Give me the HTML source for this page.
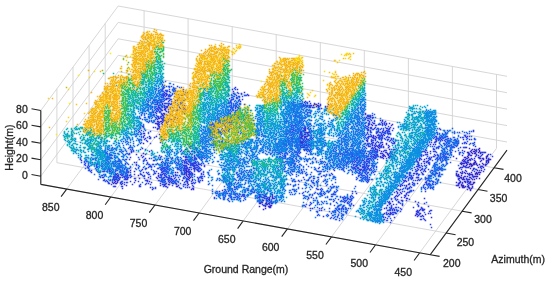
<!DOCTYPE html><html><head><meta charset="utf-8"><style>
html,body{margin:0;padding:0;background:#fff;width:550px;height:282px;overflow:hidden}
svg{display:block}
text{font-family:"Liberation Sans",Arial,sans-serif;font-size:10.5px;fill:#262626;stroke:#262626;stroke-width:0.3px}
</style></head><body>
<svg width="550" height="282" viewBox="0 0 550 282">
<defs><filter id="bl" x="-5%" y="-5%" width="110%" height="110%"><feGaussianBlur stdDeviation="0.45"/></filter></defs>
<path d="M419.7 252.8L496.5 148.3M375.6 244.8L452.4 140.3M331.5 236.9L408.4 132.4M287.4 228.9L364.3 124.4M243.2 220.9L320.3 116.4M199.1 213L276.2 108.5M155 205L232.2 100.5M110.8 197L188.1 92.5M66.7 189.1L144.1 84.6M40.8 184.4L430.3 254.7M56.9 162.7L446.3 233M73 140.9L462.2 211.2M89.1 119.2L478.2 189.5M105.2 97.5L494.1 167.8M40.8 184.4L40.8 110.5M56.9 162.7L56.9 88.7M73 140.9L73 67M89.1 119.2L89.1 45.3M105.2 97.5L105.2 23.5M40.8 176.2L118.2 71.7M40.8 159.8L118.2 55.3M40.8 143.3L118.2 38.8M40.8 126.9L118.2 22.4M40.8 110.5L118.2 6M496.5 148.3L496.5 74.4M452.4 140.3L452.4 66.4M408.4 132.4L408.4 58.4M364.3 124.4L364.3 50.5M320.3 116.4L320.3 42.5M276.2 108.5L276.2 34.6M232.2 100.5L232.2 26.6M188.1 92.5L188.1 18.6M144.1 84.6L144.1 10.7M118.2 71.7L507 142M118.2 55.3L507 125.6M118.2 38.8L507 109.1M118.2 22.4L507 92.7M118.2 6L507 76.3" stroke="#d2d2d2" stroke-width="0.9" fill="none"/>
<g stroke-width="1.5" stroke-linecap="square" fill="none" transform="translate(0.5 0.5)" filter="url(#bl)"><path stroke="#3c23aa" d="M184 113h0m-26 5h0m86 1h0m-87 2h0m5 1h0m143 8h0m65 1h0m-66 3h0m5 6h0m-5 1h0m-4 1h0m-157 1h0m168 0h0m-5 2h0m173 3h0m-3 2h0m-95 1h0m92 0h0m1 0h0m-88 1h0m81 0h0m11 0h0m-4 1h0m-97 1h0m15 0h0m90 0h0m-102 2h0m-220 1h0m305 0h0m3 0h0m-278 2h0m293 0h0m-15 1h0m-41 1h0m59 0h0m2 0h0m-327 1h0m313 0h0m14 0h0m-22 1h0m-5 1h0m8 0h0m2 0h0m-5 1h0m6 0h0m-278 4h0m-8 1h0m290 2h0m-292 1h0m278 0h0m14 0h0m-360 1h0m353 0h0m-331 1h0m50 2h0m2 0h0m280 0h0m-357 1h0m70 0h0m276 0h0m-344 1h0m47 0h0m300 0h0m2 2h0m10 1h0m-2 2h0m-66 1h0m57 0h0m0 2h0m8 1h0m-1 2h0m-207 10h0"/><path stroke="#3a26b8" d="M177 100h0m127 2h0m-147 1h0m158 1h0m-9 2h0m10 0h0m-151 2h0m153 1h0m-168 5h0m218 2h0m-115 4h0m129 0h0m-222 1h0m1 0h0m-3 2h0m228 0h0m-246 1h0m74 1h0m-71 1h0m70 0h0m97 2h0m79 0h0m-4 3h0m-8 1h0m-70 1h0m76 1h0m-234 2h0m292 3h0m-138 1h0m-3 1h0m1 1h0m72 0h0m21 0h0m-8 1h0m-84 2h0m2 0h0m-7 2h0m9 0h0m72 0h0m-184 2h0m181 0h0m99 0h0m-104 1h0m4 0h0m-243 1h0m67 1h0m284 0h0m-95 1h0m4 0h0m89 0h0m-281 1h0m270 0h0m7 0h0m-335 1h0m56 0h0m177 0h0m21 0h0m76 0h0m-89 2h0m7 0h0m89 0h0m8 0h0m-292 1h0m292 0h0m-301 1h0m182 0h0m98 0h0m4 0h0m19 0h0m2 0h0m-15 2h0m-8 1h0m8 0h0m-282 1h0m164 0h0m103 0h0m2 0h0m8 0h0m-104 1h0m107 0h0m-276 1h0m280 0h0m-14 1h0m-100 1h0m105 0h0m-322 1h0m38 0h0m2 0h0m273 0h0m11 0h0m-53 2h0m-231 1h0m274 1h0m4 0h0m14 0h0m-56 1h0m34 0h0m9 0h0m-273 1h0m266 0h0m-272 1h0m275 0h0m13 1h0m1 0h0m1 0h0m-360 1h0m344 0h0m1 0h0m-272 1h0m274 0h0m-349 1h0m2 0h0m76 0h0m271 0h0m6 0h0m-334 1h0m11 0h0m-31 1h0m-3 1h0m361 0h0m-357 1h0m343 0h0m-291 1h0m240 0h0m-244 1h0m293 0h0m5 0h0m-285 1h0m285 0h0m1 0h0m2 0h0m4 2h0m-317 1h0m39 0h0m68 5h0m6 0h0m140 1h0m-142 2h0m6 0h0m0 1h0m0 2h0m-8 1h0m10 0h0m-9 1h0m-3 1h0m1 0h0m5 0h0m1 0h0m2 0h0m3 0h0m119 0h0m12 1h0m-137 1h0m74 0h0m-70 1h0m122 1h0m-7 12h0"/><path stroke="#3929c7" d="M227 86h0m-58 5h0m64 2h0m-5 1h0m20 1h0m-87 2h0m5 1h0m3 2h0m71 1h0m-78 2h0m3 0h0m142 0h0m21 1h0m-160 1h0m137 0h0m2 0h0m6 0h0m-146 1h0m142 0h0m9 0h0m7 0h0m-15 1h0m8 0h0m-154 2h0m13 1h0m-24 5h0m9 0h0m1 2h0m-23 1h0m21 0h0m66 0h0m-56 1h0m-7 1h0m216 0h0m-225 3h0m213 0h0m5 0h0m9 0h0m-215 1h0m-9 1h0m210 0h0m4 0h0m-213 1h0m146 1h0m3 0h0m-4 1h0m5 3h0m-8 1h0m4 0h0m79 0h0m-240 1h0m157 1h0m0 1h0m1 0h0m6 0h0m71 0h0m-74 1h0m2 0h0m-6 1h0m3 0h0m69 0h0m93 0h0m-321 1h0m163 1h0m58 1h0m-64 1h0m4 0h0m61 0h0m4 0h0m85 0h0m-151 1h0m-165 1h0m161 0h0m64 0h0m-59 1h0m2 0h0m74 0h0m51 0h0m-133 2h0m64 0h0m11 0h0m2 0h0m11 1h0m-246 1h0m233 0h0m-190 1h0m120 0h0m1 0h0m1 0h0m82 0h0m-17 1h0m99 0h0m4 0h0m4 0h0m-330 1h0m39 0h0m6 0h0m181 0h0m55 0h0m49 0h0m-285 1h0m200 0h0m74 0h0m3 0h0m-105 1h0m102 0h0m4 0h0m-89 1h0m-185 1h0m178 0h0m8 0h0m4 0h0m99 0h0m-293 1h0m191 0h0m4 0h0m44 0h0m20 0h0m33 0h0m1 0h0m-301 1h0m6 0h0m181 0h0m-4 1h0m51 0h0m60 0h0m2 0h0m-58 1h0m-278 1h0m216 0h0m83 0h0m17 0h0m19 0h0m7 0h0m-24 1h0m1 1h0m21 0h0m-339 1h0m20 0h0m25 0h0m269 0h0m13 0h0m8 0h0m-346 1h0m52 0h0m297 0h0m-323 1h0m32 0h0m163 0h0m114 0h0m-321 1h0m-42 1h0m254 0h0m100 0h0m16 0h0m-317 1h0m312 0h0m-331 1h0m55 0h0m162 0h0m114 0h0m-290 1h0m282 0h0m16 0h0m-378 1h0m6 0h0m1 0h0m77 0h0m238 0h0m32 0h0m5 0h0m-350 1h0m63 0h0m10 0h0m294 0h0m-316 1h0m26 0h0m12 0h0m213 0h0m53 0h0m2 0h0m8 0h0m-362 1h0m47 0h0m294 0h0m14 0h0m1 0h0m8 0h0m-362 1h0m10 0h0m62 0h0m60 0h0m160 0h0m63 0h0m-362 1h0m56 0h0m301 0h0m6 0h0m4 0h0m-375 1h0m13 0h0m348 0h0m-338 1h0m2 0h0m41 0h0m3 0h0m308 0h0m-360 1h0m7 0h0m42 0h0m20 0h0m279 0h0m7 0h0m-272 1h0m-16 1h0m130 0h0m151 0h0m-353 1h0m3 0h0m54 0h0m16 0h0m278 0h0m4 0h0m-356 1h0m79 0h0m39 0h0m-110 1h0m44 0h0m296 0h0m0 1h0m7 0h0m-68 1h0m68 0h0m4 0h0m-13 1h0m9 0h0m-210 5h0m3 0h0m5 1h0m135 0h0m-158 1h0m21 1h0m-4 1h0m5 0h0m5 0h0m-11 1h0m13 0h0m-8 1h0m44 0h0m-39 1h0m-7 1h0m4 2h0m0 2h0m5 1h0m116 0h0m-128 1h0m6 0h0m5 0h0m-7 3h0m76 0h0m55 1h0m25 0h0m-35 3h0m6 0h0m26 0h0m4 0h0m-30 1h0m25 1h0"/><path stroke="#372dd5" d="M161 82h0m74 5h0m-72 1h0m-1 1h0m12 0h0m63 0h0m-76 1h0m22 1h0m61 1h0m-78 2h0m-4 1h0m4 0h0m70 0h0m-73 1h0m66 2h0m-63 1h0m-8 1h0m17 0h0m55 1h0m75 0h0m-153 1h0m23 0h0m-4 1h0m60 0h0m8 0h0m61 0h0m-152 1h0m14 0h0m62 0h0m79 0h0m13 0h0m-169 1h0m156 0h0m6 0h0m2 0h0m6 0h0m-90 1h0m9 0h0m-84 1h0m12 0h0m157 1h0m-156 1h0m-6 2h0m7 0h0m-3 2h0m1 0h0m66 0h0m135 0h0m-203 1h0m205 1h0m-219 1h0m13 0h0m209 0h0m-221 1h0m9 0h0m80 0h0m128 0h0m6 0h0m-216 1h0m7 0h0m206 3h0m-203 2h0m208 0h0m-217 1h0m5 0h0m216 0h0m14 0h0m-221 1h0m53 0h0m141 0h0m-208 3h0m148 0h0m69 0h0m-70 1h0m1 0h0m83 0h0m-178 1h0m8 0h0m10 0h0m75 0h0m1 0h0m82 0h0m-247 1h0m24 0h0m51 0h0m87 0h0m81 0h0m-162 1h0m86 0h0m1 0h0m1 0h0m59 0h0m-127 1h0m148 0h0m-224 1h0m80 0h0m56 0h0m5 0h0m3 0h0m1 1h0m2 0h0m62 0h0m-217 1h0m146 0h0m2 0h0m67 0h0m-71 1h0m5 0h0m6 0h0m65 0h0m2 0h0m62 0h0m-139 1h0m135 0h0m4 0h0m-59 1h0m82 0h0m-163 1h0m67 0h0m23 0h0m5 0h0m-110 1h0m17 1h0m1 0h0m79 0h0m84 1h0m-157 1h0m-8 1h0m4 0h0m67 0h0m7 0h0m2 0h0m-191 1h0m113 0h0m172 0h0m-174 1h0m1 0h0m1 0h0m80 0h0m82 0h0m-270 1h0m274 0h0m-161 1h0m86 0h0m78 0h0m6 0h0m-101 1h0m7 0h0m-201 1h0m4 0h0m122 0h0m68 0h0m87 0h0m6 0h0m-273 1h0m177 0h0m16 0h0m35 0h0m2 0h0m53 0h0m4 0h0m-294 1h0m166 0h0m24 0h0m95 0h0m-87 1h0m-103 1h0m98 0h0m79 0h0m6 0h0m2 0h0m-284 1h0m99 0h0m74 0h0m8 0h0m6 0h0m18 0h0m76 0h0m8 0h0m-290 1h0m172 0h0m18 0h0m13 0h0m57 0h0m19 0h0m15 0h0m-96 1h0m11 0h0m62 0h0m15 0h0m-345 1h0m61 0h0m7 0h0m269 0h0m26 0h0m-408 1h0m72 0h0m311 0h0m10 0h0m-357 1h0m67 0h0m11 0h0m150 0h0m10 0h0m12 0h0m50 0h0m63 0h0m-296 1h0m2 0h0m161 0h0m119 0h0m-302 1h0m1 0h0m29 0h0m1 0h0m229 0h0m39 0h0m10 0h0m3 0h0m-152 1h0m30 0h0m113 0h0m3 0h0m9 0h0m7 0h0m-303 1h0m1 0h0m6 0h0m2 0h0m1 0h0m163 0h0m4 0h0m125 0h0m-299 1h0m18 0h0m160 0h0m101 0h0m4 0h0m2 0h0m10 0h0m-356 1h0m59 0h0m5 0h0m176 0h0m2 0h0m93 0h0m23 0h0m-354 1h0m56 0h0m9 0h0m164 0h0m12 0h0m-182 1h0m173 0h0m60 0h0m55 0h0m-296 1h0m5 0h0m149 0h0m143 0h0m-354 1h0m11 0h0m64 0h0m-21 1h0m9 0h0m3 0h0m179 0h0m103 0h0m9 0h0m-369 1h0m47 0h0m34 0h0m224 0h0m59 0h0m-370 1h0m79 0h0m2 0h0m291 0h0m-359 1h0m40 0h0m15 0h0m283 0h0m1 0h0m1 0h0m-340 1h0m69 0h0m126 0h0m145 0h0m1 0h0m5 0h0m-351 1h0m4 0h0m3 0h0m292 0h0m5 0h0m-299 1h0m39 0h0m17 0h0m24 0h0m268 0h0m10 0h0m-304 1h0m286 0h0m-348 1h0m4 0h0m3 0h0m1 0h0m64 0h0m10 0h0m106 0h0m107 0h0m-298 1h0m58 0h0m7 0h0m15 0h0m11 0h0m270 0h0m2 0h0m-158 1h0m100 0h0m13 0h0m1 0h0m30 0h0m6 0h0m-289 1h0m296 0h0m-305 1h0m24 0h0m283 0h0m-345 1h0m52 0h0m222 0h0m2 0h0m-288 1h0m8 0h0m54 0h0m286 1h0m-269 1h0m0 1h0m214 0h0m60 0h0m3 0h0m-248 1h0m-3 1h0m102 0h0m-51 2h0m127 0h0m9 0h0m-147 3h0m7 0h0m129 0h0m-172 1h0m35 0h0m4 0h0m126 0h0m-122 1h0m1 0h0m6 0h0m133 0h0m-138 1h0m129 0h0m-131 1h0m-6 2h0m124 1h0m5 0h0m-122 1h0m-4 1h0m7 0h0m83 0h0m-85 1h0m1 1h0m1 0h0m-5 1h0m119 0h0m36 1h0m4 0h0m-2 1h0m-5 1h0m-82 1h0m55 0h0m28 0h0m-30 1h0m29 1h0m8 0h0m-3 1h0m-99 1h0m60 1h0m48 0h0"/><path stroke="#3435de" d="M162 84h0m70 5h0m1 2h0m-69 1h0m1 1h0m76 0h0m-77 1h0m18 1h0m-14 1h0m71 0h0m-72 2h0m3 1h0m-16 1h0m1 0h0m29 0h0m-27 1h0m152 0h0m-81 2h0m73 0h0m9 0h0m-140 1h0m74 0h0m76 0h0m-156 1h0m13 0h0m141 0h0m2 0h0m-159 1h0m3 0h0m2 0h0m141 0h0m20 0h0m-169 1h0m1 0h0m3 0h0m10 0h0m137 0h0m3 0h0m-155 1h0m23 0h0m55 0h0m84 0h0m-164 1h0m30 0h0m-23 1h0m-17 1h0m11 0h0m-3 1h0m2 0h0m152 0h0m-146 1h0m-8 1h0m23 0h0m-13 1h0m4 0h0m5 0h0m-15 1h0m212 0h0m-210 2h0m-2 1h0m5 0h0m6 0h0m197 0h0m-141 1h0m-66 1h0m8 0h0m0 1h0m63 0h0m-73 1h0m1 0h0m68 0h0m159 0h0m5 0h0m-230 1h0m53 0h0m159 0h0m11 0h0m4 0h0m-157 1h0m65 0h0m91 0h0m6 0h0m-249 1h0m-2 1h0m13 0h0m80 0h0m157 0h0m-168 1h0m85 0h0m70 0h0m9 0h0m1 0h0m-230 1h0m72 0h0m62 0h0m76 0h0m1 0h0m5 0h0m67 0h0m-217 1h0m3 0h0m85 0h0m67 0h0m5 0h0m90 0h0m-255 1h0m1 0h0m1 0h0m80 0h0m3 0h0m9 0h0m66 0h0m11 0h0m-151 1h0m62 0h0m4 0h0m5 0h0m67 0h0m11 0h0m58 0h0m-302 1h0m157 0h0m1 0h0m84 0h0m4 0h0m-249 1h0m19 0h0m7 0h0m48 0h0m-70 1h0m237 0h0m1 0h0m-221 1h0m140 0h0m67 0h0m1 0h0m4 0h0m2 0h0m7 0h0m59 0h0m5 0h0m19 0h0m2 0h0m-317 1h0m137 0h0m85 0h0m7 0h0m10 0h0m55 0h0m16 0h0m-213 1h0m53 0h0m2 0h0m4 0h0m4 0h0m2 0h0m62 0h0m74 0h0m-284 1h0m139 0h0m3 0h0m5 0h0m64 0h0m16 0h0m55 0h0m9 0h0m14 0h0m-323 1h0m159 0h0m70 0h0m56 0h0m5 0h0m-43 1h0m42 0h0m1 0h0m-64 1h0m6 0h0m3 0h0m48 0h0m5 0h0m19 0h0m21 0h0m-172 1h0m69 0h0m4 0h0m19 0h0m54 0h0m-146 1h0m70 0h0m58 0h0m5 0h0m-305 1h0m85 0h0m85 0h0m74 0h0m14 0h0m67 0h0m-288 1h0m201 0h0m1 0h0m10 0h0m-250 1h0m66 0h0m109 0h0m68 0h0m94 0h0m-216 1h0m41 0h0m56 0h0m-215 1h0m54 0h0m207 0h0m40 0h0m10 0h0m-262 1h0m15 0h0m108 0h0m75 0h0m6 0h0m-17 1h0m54 0h0m2 0h0m52 0h0m-345 1h0m71 0h0m158 0h0m16 0h0m99 0h0m-346 1h0m14 0h0m228 0h0m11 0h0m7 0h0m-253 1h0m49 0h0m112 0h0m41 0h0m150 0h0m-294 1h0m183 0h0m101 0h0m-335 1h0m45 0h0m164 0h0m18 0h0m13 0h0m-269 1h0m16 0h0m69 0h0m182 0h0m50 0h0m6 0h0m-292 1h0m27 0h0m24 0h0m119 0h0m41 0h0m70 0h0m20 0h0m20 0h0m8 0h0m5 0h0m4 0h0m-191 1h0m138 0h0m40 0h0m-316 1h0m37 0h0m101 0h0m67 0h0m4 0h0m23 0h0m81 0h0m19 0h0m1 0h0m-24 1h0m-329 1h0m60 0h0m170 0h0m5 0h0m49 0h0m8 0h0m2 0h0m-303 1h0m62 0h0m231 0h0m46 0h0m-285 1h0m13 0h0m7 0h0m275 0h0m2 0h0m7 0h0m-130 1h0m66 0h0m44 0h0m-269 1h0m99 0h0m63 0h0m7 0h0m5 0h0m48 0h0m48 0h0m18 0h0m-385 1h0m97 0h0m160 0h0m126 0h0m-376 1h0m14 0h0m45 0h0m4 0h0m20 0h0m6 0h0m2 0h0m4 0h0m119 0h0m36 0h0m10 0h0m4 0h0m54 0h0m59 0h0m-316 1h0m19 0h0m2 0h0m3 0h0m104 0h0m67 0h0m4 0h0m7 0h0m44 0h0m3 0h0m-329 1h0m41 0h0m39 0h0m28 0h0m3 0h0m148 0h0m15 0h0m57 0h0m4 0h0m8 0h0m-332 1h0m62 0h0m27 0h0m131 0h0m163 0h0m-384 1h0m29 0h0m33 0h0m248 0h0m-223 1h0m173 0h0m58 0h0m-297 1h0m2 0h0m5 0h0m33 0h0m15 0h0m13 0h0m2 0h0m162 0h0m57 0h0m63 0h0m3 0h0m-346 1h0m32 0h0m200 0h0m-247 1h0m44 0h0m13 0h0m18 0h0m12 0h0m37 0h0m83 0h0m90 0h0m-311 1h0m3 0h0m21 0h0m6 0h0m18 0h0m11 0h0m1 0h0m4 0h0m5 0h0m32 0h0m-85 1h0m18 0h0m5 0h0m23 0h0m8 0h0m81 0h0m62 0h0m99 0h0m14 0h0m45 0h0m-346 1h0m62 0h0m277 0h0m4 0h0m4 0h0m-325 1h0m22 0h0m6 0h0m254 0h0m-280 1h0m76 0h0m70 0h0m109 0h0m2 0h0m54 0h0m5 0h0m-345 1h0m6 0h0m43 0h0m290 0h0m1 0h0m10 0h0m-361 1h0m6 0h0m7 0h0m38 0h0m12 0h0m237 0h0m8 0h0m41 0h0m15 0h0m-311 1h0m23 0h0m239 0h0m46 0h0m-72 1h0m58 0h0m2 0h0m-319 1h0m27 0h0m68 0h0m77 0h0m95 0h0m-256 1h0m29 0h0m55 0h0m175 0h0m2 0h0m12 0h0m10 0h0m31 0h0m-57 1h0m25 0h0m-140 1h0m28 0h0m91 1h0m-183 1h0m168 0h0m-143 1h0m144 0h0m3 0h0m-173 1h0m129 0h0m-94 1h0m10 0h0m61 0h0m-74 1h0m13 0h0m-8 1h0m8 0h0m59 0h0m19 0h0m47 0h0m-183 1h0m128 0h0m62 0h0m-132 1h0m135 0h0m17 0h0m-164 2h0m7 0h0m134 0h0m1 0h0m-69 1h0m59 0h0m-131 1h0m8 0h0m78 0h0m42 0h0m9 0h0m-126 1h0m-10 1h0m131 0h0m-129 1h0m79 0h0m48 1h0m-49 1h0m53 0h0m26 0h0m-109 1h0m79 0h0m9 0h0m-8 1h0m2 0h0m28 0h0m-35 1h0m30 0h0m6 0h0m-7 1h0m13 0h0m-43 1h0m42 1h0m-45 1h0m35 1h0m-36 1h0m35 0h0m-32 1h0m9 0h0"/><path stroke="#313fe6" d="M162 81h0m1 5h0m3 0h0m5 0h0m6 0h0m-8 3h0m14 0h0m-18 1h0m1 1h0m7 0h0m2 0h0m-9 2h0m8 0h0m-12 1h0m10 0h0m75 0h0m-84 1h0m2 1h0m5 0h0m68 0h0m-59 1h0m8 0h0m49 0h0m0 1h0m3 1h0m3 0h0m-89 1h0m11 0h0m74 0h0m-77 1h0m7 0h0m3 0h0m-16 1h0m27 0h0m46 0h0m2 0h0m-64 1h0m2 0h0m146 0h0m4 0h0m-163 1h0m2 0h0m3 0h0m20 0h0m134 0h0m-156 1h0m1 0h0m25 0h0m126 0h0m-148 1h0m135 0h0m4 0h0m-135 1h0m1 0h0m3 0h0m67 0h0m76 0h0m-154 1h0m1 0h0m72 0h0m6 0h0m89 0h0m-169 1h0m3 0h0m7 0h0m-21 1h0m146 0h0m-125 1h0m4 0h0m121 0h0m4 0h0m-155 1h0m8 0h0m6 1h0m73 0h0m12 0h0m-77 1h0m2 0h0m69 0h0m130 0h0m-209 1h0m214 0h0m2 0h0m-217 2h0m5 0h0m15 0h0m-13 1h0m15 0h0m-3 1h0m-12 1h0m201 0h0m5 0h0m-219 1h0m5 0h0m9 0h0m52 0h0m7 0h0m7 0h0m145 0h0m-215 1h0m8 0h0m52 0h0m-1 1h0m-60 1h0m52 0h0m20 0h0m60 0h0m5 0h0m73 0h0m1 0h0m6 1h0m7 0h0m-223 2h0m-1 1h0m73 0h0m135 0h0m5 0h0m-211 1h0m220 0h0m-239 1h0m227 0h0m2 0h0m17 0h0m-163 1h0m4 0h0m159 0h0m1 0h0m-178 1h0m4 0h0m4 0h0m79 0h0m67 0h0m16 0h0m-93 1h0m89 0h0m5 1h0m56 0h0m-72 1h0m12 0h0m1 0h0m6 0h0m-241 1h0m163 0h0m73 0h0m8 0h0m49 0h0m11 0h0m-304 1h0m11 0h0m214 0h0m66 0h0m-218 1h0m157 0h0m8 0h0m10 0h0m2 0h0m81 0h0m-330 1h0m163 0h0m72 0h0m8 0h0m1 0h0m47 0h0m36 0h0m-186 1h0m86 0h0m71 0h0m6 0h0m-301 1h0m141 0h0m13 0h0m14 0h0m132 0h0m10 0h0m-297 1h0m304 0h0m-164 1h0m93 0h0m46 0h0m19 0h0m4 0h0m8 0h0m-283 1h0m112 0h0m68 0h0m12 0h0m7 0h0m-224 1h0m214 0h0m2 0h0m50 0h0m13 0h0m32 0h0m-92 1h0m58 0h0m17 0h0m-156 1h0m32 0h0m106 0h0m14 0h0m8 0h0m3 0h0m-92 1h0m2 0h0m6 0h0m-69 1h0m18 0h0m13 0h0m35 0h0m49 0h0m9 0h0m-268 1h0m5 0h0m170 0h0m11 0h0m10 0h0m3 0h0m97 0h0m-282 1h0m12 0h0m59 0h0m111 0h0m10 0h0m4 0h0m7 0h0m52 0h0m-154 1h0m14 0h0m5 0h0m43 0h0m27 0h0m2 0h0m79 0h0m34 0h0m-309 1h0m103 0h0m62 0h0m20 0h0m-216 1h0m204 0h0m24 0h0m1 0h0m13 0h0m34 0h0m6 0h0m16 0h0m2 0h0m2 0h0m21 0h0m22 0h0m-386 1h0m55 0h0m186 0h0m30 0h0m7 0h0m39 0h0m2 0h0m12 0h0m3 0h0m43 0h0m-298 1h0m2 0h0m4 0h0m12 0h0m174 0h0m117 0h0m-350 1h0m12 0h0m125 0h0m67 0h0m2 0h0m3 0h0m15 0h0m-217 1h0m46 0h0m9 0h0m78 0h0m10 0h0m17 0h0m48 0h0m11 0h0m2 0h0m5 0h0m44 0h0m20 0h0m28 0h0m-387 1h0m39 0h0m10 0h0m30 0h0m7 0h0m20 0h0m3 0h0m3 0h0m104 0h0m72 0h0m5 0h0m46 0h0m2 0h0m51 0h0m-305 1h0m18 0h0m16 0h0m105 0h0m86 0h0m24 0h0m3 0h0m9 0h0m42 0h0m-384 1h0m57 0h0m31 0h0m14 0h0m2 0h0m92 0h0m25 0h0m13 0h0m23 0h0m9 0h0m12 0h0m2 0h0m57 0h0m-331 1h0m90 0h0m13 0h0m219 0h0m54 0h0m-371 1h0m60 0h0m34 0h0m7 0h0m5 0h0m91 0h0m66 0h0m69 0h0m18 0h0m-363 1h0m10 0h0m2 0h0m57 0h0m3 0h0m35 0h0m2 0h0m35 0h0m66 0h0m124 0h0m11 0h0m-333 1h0m71 0h0m18 0h0m1 0h0m10 0h0m43 0h0m58 0h0m67 0h0m2 0h0m6 0h0m2 0h0m44 0h0m-329 1h0m12 0h0m19 0h0m65 0h0m8 0h0m5 0h0m219 0h0m-329 1h0m32 0h0m23 0h0m20 0h0m1 0h0m23 0h0m3 0h0m7 0h0m160 0h0m19 0h0m43 0h0m47 0h0m1 0h0m-309 1h0m4 0h0m15 0h0m21 0h0m56 0h0m101 0h0m56 0h0m14 0h0m13 0h0m-314 1h0m67 0h0m110 0h0m65 0h0m3 0h0m115 0h0m-375 1h0m52 0h0m3 0h0m20 0h0m4 0h0m172 0h0m4 0h0m5 0h0m103 0h0m-375 1h0m7 0h0m3 0h0m8 0h0m5 0h0m36 0h0m7 0h0m21 0h0m4 0h0m104 0h0m25 0h0m99 0h0m50 0h0m8 0h0m-383 1h0m33 0h0m19 0h0m3 0h0m22 0h0m13 0h0m7 0h0m3 0h0m182 0h0m48 0h0m11 0h0m7 0h0m-324 1h0m6 0h0m4 0h0m1 0h0m21 0h0m7 0h0m1 0h0m10 0h0m25 0h0m29 0h0m17 0h0m84 0h0m11 0h0m78 0h0m27 0h0m1 0h0m24 0h0m-327 1h0m6 0h0m1 0h0m7 0h0m16 0h0m25 0h0m58 0h0m1 0h0m84 0h0m34 0h0m102 0h0m-366 1h0m19 0h0m1 0h0m22 0h0m20 0h0m160 0h0m39 0h0m75 0h0m31 0h0m-356 1h0m2 0h0m9 0h0m241 0h0m40 0h0m25 0h0m35 0h0m-351 1h0m8 0h0m5 0h0m29 0h0m5 0h0m31 0h0m5 0h0m2 0h0m104 0h0m15 0h0m88 0h0m3 0h0m1 0h0m8 0h0m51 0h0m4 0h0m-329 1h0m25 0h0m33 0h0m209 0h0m47 0h0m3 0h0m-334 1h0m34 0h0m10 0h0m5 0h0m3 0h0m19 0h0m-95 1h0m1 0h0m54 0h0m5 0h0m1 0h0m203 0h0m48 0h0m2 0h0m-287 1h0m8 0h0m9 0h0m14 0h0m1 0h0m6 0h0m23 0h0m8 0h0m30 0h0m63 0h0m140 0h0m5 0h0m-329 1h0m26 0h0m17 0h0m13 0h0m10 0h0m10 0h0m45 0h0m9 0h0m79 0h0m50 0h0m100 0h0m-347 1h0m28 0h0m18 0h0m10 0h0m11 0h0m4 0h0m3 0h0m34 0h0m185 0h0m-302 1h0m13 0h0m8 0h0m8 0h0m5 0h0m269 0h0m14 0h0m30 0h0m-298 1h0m27 0h0m217 0h0m-289 1h0m134 0h0m44 0h0m174 0h0m-312 1h0m12 0h0m20 0h0m144 0h0m5 0h0m94 0h0m39 0h0m3 0h0m-350 1h0m70 0h0m44 0h0m47 0h0m33 0h0m114 0h0m-30 1h0m-168 1h0m181 0h0m-197 1h0m35 0h0m158 0h0m1 0h0m15 0h0m-101 1h0m83 0h0m-156 1h0m69 0h0m-98 1h0m1 0h0m12 0h0m25 0h0m64 0h0m82 0h0m-187 1h0m84 0h0m93 0h0m12 0h0m-167 1h0m164 0h0m-60 1h0m56 0h0m-127 1h0m71 0h0m3 0h0m-125 1h0m8 0h0m112 0h0m1 1h0m2 0h0m-6 1h0m58 0h0m17 0h0m-79 1h0m8 0h0m44 0h0m-119 1h0m155 0h0m-155 1h0m69 2h0m80 0h0m10 0h0m-83 1h0m53 0h0m15 0h0m-103 1h0m11 0h0m18 0h0m2 0h0m7 0h0m38 0h0m-43 1h0m58 0h0m22 0h0m-102 1h0m68 0h0m1 0h0m40 0h0m1 0h0m-114 1h0m29 1h0m46 0h0m2 0h0m1 0h0m22 0h0m-26 1h0m-73 1h0m71 0h0m3 0h0m24 0h0m3 0h0m-102 1h0m15 0h0m56 1h0m33 0h0m2 0h0m-36 2h0m33 1h0m1 0h0m3 0h0m-85 1h0m52 0h0m34 0h0m5 4h0"/><path stroke="#2e49ee" d="M169 86h0m59 0h0m-65 1h0m18 0h0m-19 1h0m10 1h0m56 0h0m-54 2h0m13 1h0m50 0h0m-74 1h0m75 0h0m-75 1h0m4 0h0m2 0h0m9 0h0m-14 1h0m5 0h0m0 1h0m73 0h0m-80 1h0m69 0h0m-63 1h0m69 0h0m-6 1h0m1 0h0m1 0h0m-73 2h0m128 0h0m-131 1h0m4 0h0m19 0h0m57 0h0m70 0h0m-160 1h0m17 0h0m5 0h0m11 0h0m55 0h0m-90 1h0m11 0h0m12 0h0m10 0h0m-28 1h0m85 0h0m48 0h0m-131 1h0m6 0h0m71 0h0m2 0h0m8 0h0m-60 1h0m4 0h0m48 0h0m4 0h0m3 0h0m-82 1h0m28 0h0m178 0h0m-205 1h0m20 0h0m6 0h0m-40 1h0m15 0h0m3 0h0m4 0h0m17 1h0m112 0h0m-126 1h0m141 0h0m1 0h0m-140 2h0m119 0h0m3 0h0m3 0h0m-63 1h0m12 0h0m124 0h0m-229 1h0m19 0h0m81 0h0m-95 1h0m8 0h0m75 0h0m4 0h0m139 0h0m3 0h0m-204 1h0m69 0h0m64 0h0m66 0h0m1 0h0m-130 1h0m-88 1h0m12 0h0m148 0h0m60 0h0m-224 1h0m21 0h0m5 0h0m54 0h0m72 0h0m83 0h0m-242 1h0m8 0h0m60 0h0m22 0h0m1 0h0m68 0h0m7 0h0m78 0h0m-223 1h0m62 0h0m65 0h0m7 0h0m74 0h0m-138 1h0m65 0h0m14 0h0m69 0h0m5 0h0m-91 1h0m-135 1h0m72 0h0m158 0h0m-245 1h0m12 0h0m70 0h0m66 0h0m11 0h0m63 0h0m3 0h0m2 0h0m1 0h0m4 0h0m-136 1h0m62 0h0m69 0h0m11 0h0m12 0h0m46 0h0m-226 1h0m5 0h0m74 0h0m5 0h0m92 0h0m-244 1h0m79 0h0m69 0h0m6 0h0m17 0h0m76 0h0m39 0h0m-281 1h0m72 0h0m68 0h0m2 0h0m85 0h0m96 0h0m-262 1h0m6 0h0m142 0h0m11 0h0m12 0h0m54 0h0m23 0h0m-318 1h0m24 0h0m216 0h0m9 0h0m49 0h0m6 0h0m1 0h0m8 0h0m-197 1h0m29 0h0m31 0h0m49 0h0m77 0h0m-72 1h0m61 0h0m32 0h0m1 0h0m-166 1h0m71 0h0m10 0h0m55 0h0m10 0h0m24 0h0m-114 1h0m12 0h0m19 0h0m2 0h0m48 0h0m-287 1h0m1 0h0m141 0h0m7 0h0m70 0h0m16 0h0m54 0h0m5 0h0m7 0h0m17 0h0m-306 1h0m123 0h0m3 0h0m84 0h0m14 0h0m54 0h0m6 0h0m29 0h0m-102 1h0m66 0h0m2 0h0m16 0h0m-333 1h0m169 0h0m30 0h0m123 0h0m-136 1h0m37 0h0m85 0h0m-281 1h0m65 0h0m154 0h0m23 0h0m62 0h0m3 0h0m16 0h0m-184 1h0m15 0h0m36 0h0m35 0h0m82 0h0m-265 1h0m2 0h0m26 0h0m71 0h0m5 0h0m-16 1h0m24 0h0m76 0h0m3 0h0m49 0h0m16 0h0m1 0h0m4 0h0m-321 1h0m175 0h0m67 0h0m62 0h0m-322 1h0m183 0h0m69 0h0m6 0h0m61 0h0m17 0h0m-310 1h0m5 0h0m159 0h0m29 0h0m111 0h0m-311 1h0m18 0h0m146 0h0m2 0h0m37 0h0m11 0h0m79 0h0m24 0h0m-259 1h0m8 0h0m191 0h0m43 0h0m1 0h0m8 0h0m2 0h0m11 0h0m-287 1h0m109 0h0m3 0h0m9 0h0m7 0h0m49 0h0m1 0h0m39 0h0m65 0h0m9 0h0m1 0h0m21 0h0m-374 1h0m250 0h0m6 0h0m18 0h0m78 0h0m10 0h0m-344 1h0m3 0h0m41 0h0m22 0h0m7 0h0m142 0h0m6 0h0m5 0h0m12 0h0m13 0h0m49 0h0m1 0h0m8 0h0m3 0h0m14 0h0m-358 1h0m191 0h0m68 0h0m7 0h0m61 0h0m24 0h0m32 0h0m-310 1h0m114 0h0m4 0h0m53 0h0m16 0h0m15 0h0m22 0h0m90 0h0m-300 1h0m10 0h0m44 0h0m4 0h0m43 0h0m4 0h0m74 0h0m15 0h0m55 0h0m12 0h0m7 0h0m-257 1h0m31 0h0m25 0h0m33 0h0m11 0h0m4 0h0m27 0h0m32 0h0m32 0h0m43 0h0m1 0h0m6 0h0m4 0h0m5 0h0m43 0h0m-396 1h0m1 0h0m46 0h0m18 0h0m3 0h0m36 0h0m53 0h0m55 0h0m52 0h0m4 0h0m17 0h0m14 0h0m38 0h0m-261 1h0m10 0h0m4 0h0m11 0h0m38 0h0m123 0h0m2 0h0m13 0h0m63 0h0m5 0h0m3 0h0m-356 1h0m36 0h0m42 0h0m27 0h0m56 0h0m67 0h0m4 0h0m23 0h0m11 0h0m1 0h0m2 0h0m5 0h0m1 0h0m9 0h0m56 0h0m2 0h0m39 0h0m-359 1h0m30 0h0m40 0h0m9 0h0m5 0h0m54 0h0m3 0h0m45 0h0m49 0h0m9 0h0m4 0h0m3 0h0m20 0h0m52 0h0m17 0h0m15 0h0m-376 1h0m17 0h0m3 0h0m14 0h0m53 0h0m5 0h0m9 0h0m4 0h0m11 0h0m29 0h0m103 0h0m31 0h0m2 0h0m1 0h0m54 0h0m7 0h0m6 0h0m-342 1h0m36 0h0m21 0h0m9 0h0m9 0h0m15 0h0m8 0h0m6 0h0m2 0h0m2 0h0m156 0h0m7 0h0m-278 1h0m3 0h0m48 0h0m65 0h0m3 0h0m32 0h0m95 0h0m37 0h0m58 0h0m-330 1h0m53 0h0m2 0h0m3 0h0m25 0h0m5 0h0m110 0h0m5 0h0m9 0h0m16 0h0m27 0h0m4 0h0m11 0h0m52 0h0m4 0h0m58 0h0m-393 1h0m9 0h0m34 0h0m18 0h0m17 0h0m2 0h0m14 0h0m15 0h0m3 0h0m86 0h0m34 0h0m8 0h0m25 0h0m12 0h0m50 0h0m51 0h0m-348 1h0m5 0h0m2 0h0m11 0h0m10 0h0m21 0h0m12 0h0m175 0h0m4 0h0m8 0h0m8 0h0m44 0h0m17 0h0m40 0h0m-348 1h0m35 0h0m18 0h0m17 0h0m5 0h0m166 0h0m57 0h0m4 0h0m8 0h0m3 0h0m22 0h0m-370 1h0m26 0h0m3 0h0m2 0h0m4 0h0m1 0h0m54 0h0m13 0h0m4 0h0m41 0h0m10 0h0m94 0h0m12 0h0m7 0h0m3 0h0m66 0h0m11 0h0m37 0h0m-325 1h0m12 0h0m1 0h0m27 0h0m5 0h0m86 0h0m9 0h0m27 0h0m6 0h0m28 0h0m17 0h0m63 0h0m-305 1h0m54 0h0m19 0h0m45 0h0m40 0h0m71 0h0m5 0h0m7 0h0m-262 1h0m8 0h0m64 0h0m1 0h0m9 0h0m53 0h0m121 0h0m2 0h0m40 0h0m6 0h0m-264 1h0m4 0h0m41 0h0m7 0h0m2 0h0m35 0h0m54 0h0m34 0h0m90 0h0m2 0h0m5 0h0m11 0h0m5 0h0m-314 1h0m1 0h0m39 0h0m10 0h0m4 0h0m127 0h0m23 0h0m89 0h0m10 0h0m1 0h0m-312 1h0m8 0h0m1 0h0m5 0h0m13 0h0m6 0h0m19 0h0m4 0h0m11 0h0m55 0h0m94 0h0m34 0h0m90 0h0m15 0h0m-344 1h0m35 0h0m3 0h0m1 0h0m1 0h0m10 0h0m5 0h0m2 0h0m175 0h0m9 0h0m47 0h0m-230 1h0m105 0h0m23 0h0m48 0h0m46 0h0m-296 1h0m52 0h0m22 0h0m100 0h0m18 0h0m4 0h0m17 0h0m31 0h0m9 0h0m37 0h0m16 0h0m2 0h0m46 0h0m-360 1h0m65 0h0m67 0h0m70 0h0m95 0h0m1 0h0m15 0h0m40 0h0m-342 1h0m4 0h0m49 0h0m4 0h0m77 0h0m175 0h0m-231 1h0m4 0h0m114 0h0m90 0h0m-295 1h0m38 0h0m29 0h0m62 0h0m88 0h0m137 0h0m6 0h0m-318 1h0m13 0h0m6 0h0m7 0h0m7 0h0m25 0h0m23 0h0m27 0h0m29 0h0m3 0h0m8 0h0m34 0h0m69 0h0m11 0h0m14 0h0m4 0h0m37 0h0m-328 1h0m33 0h0m20 0h0m48 0h0m189 0h0m1 0h0m-290 1h0m23 0h0m2 0h0m18 0h0m10 0h0m35 0h0m127 0h0m-170 1h0m4 0h0m92 0h0m-126 1h0m98 0h0m143 0h0m13 0h0m-180 1h0m6 0h0m18 0h0m64 0h0m1 0h0m84 0h0m23 0h0m-178 1h0m1 0h0m3 0h0m16 0h0m27 0h0m43 0h0m-125 1h0m19 0h0m2 0h0m12 0h0m60 0h0m47 0h0m-17 1h0m59 0h0m14 0h0m1 0h0m-190 1h0m10 0h0m7 0h0m66 0h0m12 0h0m38 0h0m-118 1h0m3 0h0m7 0h0m14 0h0m13 0h0m11 0h0m52 0h0m65 0h0m-183 1h0m13 0h0m1 0h0m12 0h0m13 0h0m54 0h0m95 0h0m-173 1h0m12 0h0m1 0h0m-20 1h0m6 0h0m5 0h0m92 0h0m67 0h0m-180 1h0m6 0h0m8 0h0m11 0h0m27 1h0m63 0h0m9 0h0m12 0h0m41 0h0m-50 1h0m10 0h0m55 0h0m-166 1h0m35 0h0m70 0h0m5 0h0m52 0h0m-143 1h0m17 0h0m34 0h0m8 0h0m81 0h0m19 0h0m-107 1h0m40 0h0m49 0h0m-90 1h0m79 0h0m28 0h0m-114 1h0m6 0h0m25 0h0m16 0h0m52 0h0m16 0h0m-113 1h0m38 0h0m-6 1h0m-18 1h0m16 0h0m87 0h0m-86 1h0m5 0h0m40 0h0m-44 1h0m55 0h0m5 0h0m-65 1h0m9 0h0m56 0h0m3 0h0m-7 1h0m2 1h0m35 0h0m-37 1h0m-65 1h0m10 0h0m-1 1h0m83 0h0m-89 1h0m-1 1h0m93 0h0m-33 4h0m41 5h0"/><path stroke="#2955ef" d="M157 80h0m16 4h0m-9 1h0m10 3h0m60 0h0m-68 2h0m-11 1h0m3 0h0m4 0h0m1 0h0m4 0h0m10 0h0m-17 3h0m74 0h0m-73 1h0m7 0h0m2 0h0m75 0h0m1 0h0m-89 1h0m77 0h0m-71 1h0m-13 1h0m-4 1h0m14 0h0m1 0h0m4 0h0m6 0h0m-11 1h0m-8 1h0m11 0h0m71 0h0m59 0h0m-135 1h0m71 0h0m62 0h0m2 0h0m-112 1h0m55 0h0m1 1h0m3 0h0m-92 1h0m82 0h0m3 0h0m55 0h0m16 0h0m2 0h0m-71 1h0m65 0h0m2 0h0m1 0h0m7 0h0m-80 1h0m55 0h0m73 0h0m-188 1h0m122 0h0m68 0h0m-200 1h0m70 0h0m2 0h0m15 0h0m55 0h0m4 0h0m-133 1h0m52 0h0m3 0h0m2 0h0m3 0h0m2 0h0m1 0h0m55 0h0m17 0h0m-151 1h0m3 0h0m71 0h0m70 0h0m-160 1h0m18 0h0m69 0h0m79 1h0m3 0h0m-169 1h0m158 0h0m7 0h0m68 0h0m-146 1h0m9 0h0m10 0h0m41 0h0m7 0h0m5 0h0m8 0h0m-148 1h0m3 0h0m61 0h0m7 0h0m17 0h0m47 0h0m2 0h0m1 0h0m7 0h0m62 0h0m-203 1h0m73 0h0m62 0h0m2 0h0m-78 1h0m7 0h0m54 0h0m81 0h0m7 0h0m-230 1h0m13 0h0m8 0h0m7 0h0m56 0h0m15 0h0m45 0h0m-121 1h0m55 0h0m11 0h0m64 0h0m5 0h0m4 0h0m27 0h0m36 0h0m-136 1h0m54 0h0m18 0h0m47 0h0m8 0h0m27 0h0m-227 1h0m60 0h0m8 0h0m63 0h0m80 0h0m3 0h0m9 0h0m-169 1h0m8 0h0m71 0h0m8 0h0m2 0h0m60 0h0m3 0h0m1 0h0m-154 1h0m98 0h0m46 0h0m25 0h0m-242 1h0m72 0h0m81 0h0m1 0h0m15 0h0m50 0h0m19 0h0m-151 1h0m66 0h0m4 0h0m71 0h0m1 0h0m-157 1h0m94 0h0m60 0h0m-205 1h0m56 0h0m30 0h0m38 0h0m10 0h0m6 0h0m4 0h0m64 0h0m16 0h0m69 0h0m-159 1h0m16 0h0m69 0h0m5 0h0m-245 1h0m306 0h0m3 0h0m-311 1h0m70 0h0m80 0h0m9 0h0m3 0h0m48 0h0m2 0h0m3 0h0m2 0h0m10 0h0m106 0h0m-321 1h0m64 0h0m7 0h0m2 0h0m70 0h0m2 0h0m90 0h0m81 0h0m-316 1h0m56 0h0m16 0h0m147 0h0m20 0h0m82 0h0m-256 1h0m8 0h0m40 0h0m14 0h0m17 0h0m78 0h0m8 0h0m-87 1h0m89 0h0m63 0h0m-302 1h0m75 0h0m4 0h0m45 0h0m20 0h0m59 0h0m98 0h0m-316 1h0m2 0h0m171 0h0m82 0h0m1 0h0m60 0h0m3 0h0m8 0h0m9 0h0m-303 1h0m129 0h0m5 0h0m11 0h0m62 0h0m9 0h0m4 0h0m3 0h0m51 0h0m4 0h0m-297 1h0m73 0h0m49 0h0m30 0h0m6 0h0m53 0h0m16 0h0m69 0h0m2 0h0m13 0h0m3 0h0m-254 1h0m81 0h0m2 0h0m5 0h0m1 0h0m66 0h0m18 0h0m8 0h0m6 0h0m57 0h0m3 0h0m2 0h0m5 0h0m-328 1h0m95 0h0m1 0h0m3 0h0m10 0h0m55 0h0m5 0h0m3 0h0m1 0h0m20 0h0m41 0h0m3 0h0m14 0h0m12 0h0m69 0h0m9 0h0m-273 1h0m87 0h0m15 0h0m20 0h0m2 0h0m7 0h0m34 0h0m17 0h0m15 0h0m55 0h0m6 0h0m4 0h0m9 0h0m-346 1h0m77 0h0m92 0h0m3 0h0m22 0h0m10 0h0m45 0h0m4 0h0m71 0h0m6 0h0m15 0h0m-221 1h0m45 0h0m4 0h0m11 0h0m38 0h0m10 0h0m9 0h0m8 0h0m59 0h0m27 0h0m-218 1h0m50 0h0m8 0h0m13 0h0m3 0h0m58 0h0m78 0h0m4 0h0m-259 1h0m40 0h0m47 0h0m5 0h0m7 0h0m6 0h0m12 0h0m62 0h0m19 0h0m49 0h0m8 0h0m6 0h0m-340 1h0m133 0h0m1 0h0m4 0h0m32 0h0m83 0h0m15 0h0m1 0h0m56 0h0m17 0h0m10 0h0m-336 1h0m62 0h0m12 0h0m65 0h0m49 0h0m35 0h0m87 0h0m-308 1h0m76 0h0m46 0h0m39 0h0m7 0h0m1 0h0m54 0h0m24 0h0m14 0h0m59 0h0m26 0h0m-379 1h0m209 0h0m3 0h0m1 0h0m76 0h0m72 0h0m-339 1h0m7 0h0m7 0h0m104 0h0m57 0h0m5 0h0m34 0h0m2 0h0m4 0h0m8 0h0m8 0h0m2 0h0m2 0h0m1 0h0m5 0h0m58 0h0m24 0h0m-246 1h0m85 0h0m6 0h0m18 0h0m40 0h0m1 0h0m5 0h0m21 0h0m59 0h0m7 0h0m3 0h0m37 0h0m-356 1h0m76 0h0m79 0h0m3 0h0m2 0h0m10 0h0m2 0h0m7 0h0m46 0h0m10 0h0m7 0h0m61 0h0m10 0h0m3 0h0m4 0h0m-356 1h0m19 0h0m19 0h0m141 0h0m4 0h0m34 0h0m7 0h0m37 0h0m16 0h0m2 0h0m70 0h0m19 0h0m-350 1h0m142 0h0m43 0h0m3 0h0m1 0h0m40 0h0m6 0h0m5 0h0m5 0h0m8 0h0m2 0h0m7 0h0m19 0h0m47 0h0m6 0h0m6 0h0m-368 1h0m80 0h0m37 0h0m1 0h0m31 0h0m1 0h0m25 0h0m49 0h0m28 0h0m3 0h0m6 0h0m9 0h0m5 0h0m8 0h0m14 0h0m43 0h0m6 0h0m7 0h0m6 0h0m3 0h0m1 0h0m2 0h0m-329 1h0m21 0h0m60 0h0m4 0h0m1 0h0m11 0h0m62 0h0m17 0h0m20 0h0m41 0h0m4 0h0m22 0h0m63 0h0m3 0h0m-351 1h0m1 0h0m14 0h0m58 0h0m22 0h0m9 0h0m8 0h0m48 0h0m29 0h0m1 0h0m15 0h0m38 0h0m3 0h0m7 0h0m1 0h0m23 0h0m45 0h0m20 0h0m-351 1h0m9 0h0m49 0h0m51 0h0m6 0h0m30 0h0m75 0h0m26 0h0m13 0h0m14 0h0m3 0h0m73 0h0m9 0h0m-338 1h0m9 0h0m28 0h0m40 0h0m5 0h0m1 0h0m51 0h0m89 0h0m5 0h0m5 0h0m4 0h0m1 0h0m22 0h0m-195 1h0m10 0h0m5 0h0m58 0h0m41 0h0m11 0h0m25 0h0m1 0h0m6 0h0m19 0h0m22 0h0m47 0h0m51 0h0m-320 1h0m16 0h0m3 0h0m23 0h0m94 0h0m1 0h0m5 0h0m2 0h0m34 0h0m21 0h0m12 0h0m2 0h0m1 0h0m7 0h0m73 0h0m9 0h0m-362 1h0m27 0h0m12 0h0m42 0h0m110 0h0m13 0h0m3 0h0m15 0h0m11 0h0m25 0h0m1 0h0m-250 1h0m8 0h0m20 0h0m23 0h0m4 0h0m9 0h0m130 0h0m8 0h0m27 0h0m1 0h0m14 0h0m12 0h0m5 0h0m4 0h0m2 0h0m53 0h0m17 0h0m2 0h0m7 0h0m-328 1h0m53 0h0m27 0h0m99 0h0m45 0h0m4 0h0m3 0h0m21 0h0m4 0h0m2 0h0m48 0h0m3 0h0m9 0h0m25 0h0m-353 1h0m6 0h0m58 0h0m162 0h0m9 0h0m3 0h0m33 0h0m58 0h0m1 0h0m-314 1h0m17 0h0m13 0h0m9 0h0m17 0h0m9 0h0m105 0h0m8 0h0m33 0h0m7 0h0m1 0h0m13 0h0m20 0h0m47 0h0m18 0h0m23 0h0m-376 1h0m3 0h0m7 0h0m14 0h0m29 0h0m26 0h0m16 0h0m3 0h0m70 0h0m28 0h0m7 0h0m54 0h0m1 0h0m96 0h0m1 0h0m2 0h0m-333 1h0m6 0h0m36 0h0m9 0h0m2 0h0m2 0h0m3 0h0m18 0h0m38 0h0m1 0h0m6 0h0m21 0h0m5 0h0m22 0h0m20 0h0m17 0h0m14 0h0m4 0h0m8 0h0m14 0h0m8 0h0m74 0h0m3 0h0m4 0h0m-356 1h0m53 0h0m12 0h0m10 0h0m3 0h0m43 0h0m35 0h0m57 0h0m50 0h0m61 0h0m-322 1h0m36 0h0m2 0h0m12 0h0m25 0h0m25 0h0m94 0h0m9 0h0m5 0h0m4 0h0m16 0h0m41 0h0m16 0h0m59 0h0m22 0h0m-336 1h0m6 0h0m1 0h0m35 0h0m10 0h0m69 0h0m49 0h0m9 0h0m61 0h0m5 0h0m45 0h0m26 0h0m26 0h0m-322 1h0m24 0h0m138 0h0m3 0h0m53 0h0m13 0h0m64 0h0m-269 1h0m16 0h0m1 0h0m54 0h0m59 0h0m14 0h0m9 0h0m41 0h0m1 0h0m61 0h0m11 0h0m2 0h0m6 0h0m-326 1h0m15 0h0m12 0h0m18 0h0m49 0h0m114 0h0m35 0h0m1 0h0m3 0h0m5 0h0m38 0h0m6 0h0m2 0h0m18 0h0m3 0h0m5 0h0m-340 1h0m28 0h0m16 0h0m18 0h0m41 0h0m2 0h0m69 0h0m23 0h0m62 0h0m71 0h0m9 0h0m-319 1h0m7 0h0m49 0h0m25 0h0m40 0h0m70 0h0m23 0h0m34 0h0m58 0h0m3 0h0m-293 1h0m66 0h0m18 0h0m4 0h0m6 0h0m11 0h0m123 0h0m2 0h0m2 0h0m38 0h0m23 0h0m2 0h0m-332 1h0m6 0h0m9 0h0m11 0h0m43 0h0m68 0h0m100 0h0m32 0h0m2 0h0m39 0h0m3 0h0m27 0h0m-326 1h0m33 0h0m14 0h0m2 0h0m12 0h0m13 0h0m3 0h0m9 0h0m2 0h0m45 0h0m66 0h0m48 0h0m3 0h0m6 0h0m40 0h0m59 0h0m-294 1h0m4 0h0m78 0h0m39 0h0m29 0h0m4 0h0m39 0h0m2 0h0m61 0h0m4 0h0m-312 1h0m3 0h0m38 0h0m13 0h0m18 0h0m42 0h0m200 0h0m-255 1h0m46 0h0m188 0h0m14 0h0m1 0h0m3 0h0m4 0h0m-141 1h0m114 0h0m20 0h0m3 0h0m1 0h0m2 0h0m-208 1h0m78 0h0m5 0h0m16 0h0m87 0h0m-300 1h0m111 0h0m6 0h0m6 0h0m98 0h0m76 0h0m-181 1h0m7 0h0m2 0h0m6 0h0m23 0h0m31 0h0m35 0h0m95 0h0m-275 1h0m28 0h0m48 0h0m31 0h0m38 0h0m4 0h0m19 0h0m10 0h0m74 0h0m-171 1h0m13 0h0m75 0h0m76 0h0m-173 1h0m19 0h0m83 0h0m3 0h0m69 0h0m-175 1h0m2 0h0m28 0h0m40 0h0m2 0h0m33 0h0m5 0h0m21 0h0m47 0h0m2 0h0m-189 1h0m39 0h0m35 0h0m2 0h0m12 0h0m25 0h0m-112 1h0m1 0h0m6 0h0m34 0h0m42 0h0m18 0h0m4 0h0m2 0h0m10 0h0m-91 1h0m5 0h0m45 0h0m20 0h0m6 0h0m2 0h0m12 0h0m60 0h0m-167 1h0m18 0h0m1 0h0m3 0h0m1 0h0m33 0h0m31 0h0m10 0h0m67 0h0m9 0h0m-180 1h0m7 0h0m30 0h0m51 0h0m34 0h0m4 0h0m8 0h0m-121 1h0m3 0h0m3 0h0m19 0h0m24 0h0m1 0h0m27 0h0m3 0h0m5 0h0m27 0h0m7 0h0m3 0h0m-98 1h0m58 0h0m22 0h0m9 0h0m3 0h0m4 0h0m40 0h0m4 0h0m-161 1h0m11 0h0m14 0h0m72 0h0m16 0h0m2 0h0m2 0h0m44 0h0m14 0h0m-181 1h0m15 0h0m28 0h0m4 0h0m-46 1h0m28 0h0m2 0h0m65 0h0m-2 1h0m25 1h0m1 0h0m-42 1h0m24 0h0m66 0h0m-92 1h0m45 0h0m-7 1h0m-25 1h0m72 0h0m7 0h0m-67 1h0m61 0h0m3 0h0m28 0h0m-76 1h0m1 0h0m44 0h0m-71 1h0m15 0h0m1 0h0m12 0h0m-12 1h0m83 0h0m-79 1h0m-8 1h0m55 0h0m10 0h0m23 0h0m-92 1h0m15 0h0m45 0h0m-53 3h0m-1 1h0m8 0h0m49 0h0m-54 1h0m50 1h0m1 0h0"/><path stroke="#2362ed" d="M165 81h0m3 5h0m-4 1h0m5 0h0m4 0h0m6 0h0m-23 1h0m2 0h0m15 0h0m2 0h0m-20 1h0m80 0h0m-77 1h0m1 0h0m3 0h0m5 0h0m6 0h0m2 0h0m-5 2h0m15 0h0m-26 1h0m13 0h0m-23 1h0m10 0h0m25 0h0m-13 1h0m10 0h0m63 0h0m-70 1h0m58 1h0m-63 1h0m9 0h0m-19 1h0m4 0h0m14 0h0m8 0h0m176 0h0m-204 1h0m4 0h0m22 0h0m47 0h0m1 0h0m4 0h0m4 0h0m62 0h0m-154 1h0m12 1h0m1 0h0m71 0h0m52 0h0m-131 1h0m147 0h0m3 0h0m3 0h0m-159 1h0m1 0h0m24 0h0m60 0h0m64 0h0m1 0h0m-136 1h0m1 0h0m70 0h0m3 0h0m2 0h0m58 0h0m1 0h0m6 0h0m1 0h0m-153 1h0m6 0h0m1 0h0m9 0h0m14 0h0m54 0h0m71 0h0m-157 1h0m86 0h0m65 0h0m2 0h0m-150 1h0m4 0h0m77 0h0m9 0h0m51 0h0m5 0h0m-144 1h0m76 0h0m58 0h0m7 0h0m14 0h0m56 0h0m-215 1h0m8 0h0m-4 1h0m76 0h0m61 0h0m73 0h0m-202 1h0m74 0h0m1 0h0m51 0h0m7 0h0m2 0h0m1 0h0m3 0h0m1 0h0m63 0h0m-219 1h0m83 0h0m57 0h0m6 0h0m14 0h0m53 0h0m-209 1h0m13 0h0m63 0h0m6 0h0m4 0h0m-93 1h0m10 0h0m75 0h0m8 0h0m4 0h0m117 0h0m-72 1h0m71 0h0m4 0h0m-213 1h0m3 0h0m26 0h0m37 0h0m84 0h0m59 0h0m2 0h0m3 0h0m-111 1h0m38 0h0m34 0h0m34 0h0m13 0h0m-221 1h0m73 0h0m15 0h0m60 0h0m15 0h0m48 0h0m13 0h0m-152 1h0m14 0h0m54 0h0m8 0h0m5 0h0m2 0h0m73 0h0m-223 1h0m135 0h0m1 0h0m5 0h0m8 0h0m-148 1h0m60 0h0m8 0h0m13 0h0m3 0h0m50 0h0m10 0h0m63 0h0m7 0h0m-158 1h0m14 0h0m76 0h0m5 0h0m7 0h0m52 0h0m-219 1h0m81 0h0m74 0h0m4 0h0m27 0h0m16 0h0m4 0h0m-206 1h0m68 0h0m29 0h0m61 0h0m17 0h0m-104 1h0m25 0h0m51 0h0m6 0h0m2 0h0m6 0h0m50 0h0m-143 1h0m3 0h0m13 0h0m30 0h0m27 0h0m4 0h0m4 0h0m5 0h0m48 0h0m-205 1h0m68 0h0m4 0h0m85 0h0m1 0h0m52 0h0m28 0h0m-120 1h0m32 0h0m5 0h0m3 0h0m47 0h0m12 0h0m15 0h0m4 0h0m-171 1h0m9 0h0m73 0h0m1 0h0m6 0h0m1 0h0m63 0h0m3 0h0m6 0h0m21 0h0m61 0h0m-244 1h0m5 0h0m73 0h0m73 0h0m4 0h0m94 0h0m17 0h0m-333 1h0m87 0h0m64 0h0m3 0h0m6 0h0m22 0h0m51 0h0m8 0h0m58 0h0m17 0h0m12 0h0m-254 1h0m64 0h0m8 0h0m2 0h0m8 0h0m2 0h0m1 0h0m13 0h0m3 0h0m50 0h0m21 0h0m53 0h0m5 0h0m25 0h0m-332 1h0m2 0h0m75 0h0m43 0h0m36 0h0m3 0h0m5 0h0m24 0h0m19 0h0m3 0h0m11 0h0m6 0h0m26 0h0m2 0h0m43 0h0m9 0h0m-184 1h0m35 0h0m52 0h0m18 0h0m-121 1h0m21 0h0m23 0h0m8 0h0m3 0h0m22 0h0m26 0h0m3 0h0m123 0h0m-330 1h0m6 0h0m54 0h0m8 0h0m4 0h0m15 0h0m28 0h0m35 0h0m19 0h0m3 0h0m27 0h0m9 0h0m16 0h0m74 0h0m2 0h0m22 0h0m-207 1h0m33 0h0m3 0h0m5 0h0m2 0h0m21 0h0m21 0h0m9 0h0m28 0h0m2 0h0m59 0h0m3 0h0m15 0h0m-254 1h0m6 0h0m29 0h0m43 0h0m15 0h0m1 0h0m46 0h0m2 0h0m3 0h0m6 0h0m39 0h0m-255 1h0m1 0h0m83 0h0m30 0h0m5 0h0m38 0h0m1 0h0m2 0h0m10 0h0m9 0h0m24 0h0m4 0h0m-206 1h0m61 0h0m14 0h0m1 0h0m4 0h0m24 0h0m43 0h0m5 0h0m2 0h0m3 0h0m144 0h0m10 0h0m5 0h0m-255 1h0m5 0h0m3 0h0m11 0h0m17 0h0m9 0h0m2 0h0m9 0h0m32 0h0m4 0h0m5 0h0m9 0h0m5 0h0m36 0h0m6 0h0m3 0h0m4 0h0m20 0h0m55 0h0m20 0h0m-322 1h0m65 0h0m79 0h0m5 0h0m1 0h0m1 0h0m13 0h0m29 0h0m33 0h0m8 0h0m13 0h0m64 0h0m2 0h0m10 0h0m-330 1h0m63 0h0m17 0h0m55 0h0m23 0h0m2 0h0m10 0h0m28 0h0m21 0h0m99 0h0m1 0h0m8 0h0m-316 1h0m76 0h0m66 0h0m5 0h0m8 0h0m19 0h0m2 0h0m11 0h0m1 0h0m12 0h0m10 0h0m4 0h0m1 0h0m7 0h0m7 0h0m78 0h0m4 0h0m3 0h0m6 0h0m-277 1h0m27 0h0m38 0h0m41 0h0m12 0h0m40 0h0m13 0h0m1 0h0m11 0h0m84 0h0m4 0h0m-328 1h0m7 0h0m72 0h0m11 0h0m72 0h0m24 0h0m13 0h0m14 0h0m114 0h0m1 0h0m2 0h0m-261 1h0m4 0h0m40 0h0m32 0h0m22 0h0m44 0h0m15 0h0m87 0h0m8 0h0m14 0h0m-350 1h0m5 0h0m54 0h0m29 0h0m4 0h0m80 0h0m6 0h0m6 0h0m19 0h0m6 0h0m1 0h0m27 0h0m14 0h0m14 0h0m-271 1h0m10 0h0m19 0h0m129 0h0m9 0h0m12 0h0m4 0h0m37 0h0m11 0h0m12 0h0m4 0h0m11 0h0m65 0h0m16 0h0m11 0h0m-332 1h0m2 0h0m41 0h0m9 0h0m34 0h0m24 0h0m11 0h0m11 0h0m31 0h0m8 0h0m7 0h0m9 0h0m12 0h0m7 0h0m5 0h0m14 0h0m1 0h0m4 0h0m13 0h0m11 0h0m76 0h0m-350 1h0m3 0h0m2 0h0m1 0h0m15 0h0m46 0h0m7 0h0m40 0h0m32 0h0m16 0h0m10 0h0m13 0h0m12 0h0m1 0h0m61 0h0m5 0h0m5 0h0m93 0h0m-356 1h0m8 0h0m1 0h0m54 0h0m13 0h0m26 0h0m3 0h0m18 0h0m36 0h0m5 0h0m1 0h0m7 0h0m54 0h0m6 0h0m2 0h0m18 0h0m17 0h0m42 0h0m27 0h0m1 0h0m5 0h0m-327 1h0m69 0h0m4 0h0m24 0h0m1 0h0m25 0h0m7 0h0m1 0h0m26 0h0m45 0h0m17 0h0m1 0h0m4 0h0m10 0h0m1 0h0m84 0h0m-332 1h0m1 0h0m3 0h0m88 0h0m44 0h0m71 0h0m13 0h0m12 0h0m5 0h0m16 0h0m-263 1h0m7 0h0m48 0h0m55 0h0m13 0h0m14 0h0m42 0h0m4 0h0m8 0h0m2 0h0m5 0h0m1 0h0m26 0h0m5 0h0m1 0h0m31 0h0m4 0h0m5 0h0m1 0h0m4 0h0m1 0h0m61 0h0m4 0h0m3 0h0m-358 1h0m21 0h0m1 0h0m1 0h0m1 0h0m47 0h0m14 0h0m5 0h0m10 0h0m8 0h0m11 0h0m83 0h0m11 0h0m28 0h0m16 0h0m3 0h0m13 0h0m11 0h0m69 0h0m7 0h0m-367 1h0m31 0h0m1 0h0m39 0h0m20 0h0m6 0h0m24 0h0m56 0h0m26 0h0m4 0h0m49 0h0m10 0h0m18 0h0m3 0h0m7 0h0m54 0h0m14 0h0m-352 1h0m16 0h0m17 0h0m2 0h0m52 0h0m1 0h0m24 0h0m19 0h0m22 0h0m1 0h0m32 0h0m3 0h0m10 0h0m12 0h0m41 0h0m12 0h0m10 0h0m52 0h0m21 0h0m1 0h0m2 0h0m2 0h0m3 0h0m-360 1h0m22 0h0m12 0h0m1 0h0m4 0h0m20 0h0m21 0h0m133 0h0m32 0h0m2 0h0m16 0h0m23 0h0m71 0h0m1 0h0m3 0h0m-359 1h0m27 0h0m4 0h0m1 0h0m88 0h0m6 0h0m5 0h0m20 0h0m39 0h0m9 0h0m5 0h0m3 0h0m46 0h0m9 0h0m-268 1h0m3 0h0m90 0h0m4 0h0m18 0h0m2 0h0m14 0h0m78 0h0m31 0h0m11 0h0m1 0h0m10 0h0m9 0h0m13 0h0m-258 1h0m4 0h0m1 0h0m1 0h0m8 0h0m54 0h0m3 0h0m109 0h0m57 0h0m28 0h0m67 0h0m7 0h0m41 0h0m-399 1h0m15 0h0m16 0h0m27 0h0m19 0h0m15 0h0m108 0h0m2 0h0m16 0h0m32 0h0m8 0h0m26 0h0m63 0h0m-285 1h0m10 0h0m4 0h0m12 0h0m15 0h0m32 0h0m3 0h0m65 0h0m10 0h0m25 0h0m11 0h0m7 0h0m90 0h0m9 0h0m-356 1h0m31 0h0m21 0h0m22 0h0m5 0h0m1 0h0m13 0h0m62 0h0m1 0h0m33 0h0m27 0h0m34 0h0m9 0h0m14 0h0m2 0h0m12 0h0m51 0h0m-320 1h0m12 0h0m42 0h0m3 0h0m17 0h0m3 0h0m13 0h0m39 0h0m56 0h0m7 0h0m17 0h0m19 0h0m5 0h0m20 0h0m76 0h0m2 0h0m3 0h0m2 0h0m-335 1h0m2 0h0m4 0h0m15 0h0m30 0h0m43 0h0m34 0h0m50 0h0m41 0h0m4 0h0m23 0h0m89 0h0m-333 1h0m2 0h0m9 0h0m1 0h0m48 0h0m1 0h0m8 0h0m21 0h0m31 0h0m54 0h0m8 0h0m31 0h0m1 0h0m19 0h0m1 0h0m7 0h0m72 0h0m19 0h0m-330 1h0m4 0h0m1 0h0m108 0h0m22 0h0m1 0h0m4 0h0m107 0h0m8 0h0m50 0h0m19 0h0m3 0h0m-336 1h0m20 0h0m5 0h0m37 0h0m70 0h0m9 0h0m15 0h0m32 0h0m7 0h0m7 0h0m15 0h0m5 0h0m20 0h0m8 0h0m14 0h0m8 0h0m31 0h0m10 0h0m8 0h0m7 0h0m-332 1h0m13 0h0m12 0h0m25 0h0m18 0h0m42 0h0m19 0h0m9 0h0m15 0h0m50 0h0m1 0h0m9 0h0m45 0h0m1 0h0m10 0h0m-196 1h0m14 0h0m23 0h0m20 0h0m12 0h0m1 0h0m12 0h0m1 0h0m4 0h0m152 0h0m22 0h0m7 0h0m-345 1h0m29 0h0m7 0h0m61 0h0m50 0h0m65 0h0m1 0h0m22 0h0m45 0h0m58 0h0m-331 1h0m4 0h0m9 0h0m62 0h0m1 0h0m14 0h0m48 0h0m4 0h0m121 0h0m36 0h0m30 0h0m-314 1h0m7 0h0m42 0h0m26 0h0m9 0h0m23 0h0m25 0h0m63 0h0m14 0h0m115 0h0m-213 1h0m10 0h0m8 0h0m72 0h0m17 0h0m1 0h0m21 0h0m5 0h0m2 0h0m1 0h0m1 0h0m1 0h0m-252 1h0m5 0h0m31 0h0m13 0h0m24 0h0m37 0h0m23 0h0m62 0h0m48 0h0m68 0h0m2 0h0m-262 1h0m68 0h0m6 0h0m2 0h0m8 0h0m69 0h0m43 0h0m5 0h0m2 0h0m3 0h0m54 0h0m11 0h0m-274 1h0m6 0h0m27 0h0m24 0h0m34 0h0m48 0h0m6 0h0m17 0h0m89 0h0m14 0h0m1 0h0m10 0h0m-333 1h0m17 0h0m38 0h0m18 0h0m7 0h0m23 0h0m15 0h0m4 0h0m21 0h0m2 0h0m49 0h0m12 0h0m7 0h0m45 0h0m67 0h0m-303 1h0m36 0h0m15 0h0m76 0h0m81 0h0m98 0h0m-268 1h0m64 0h0m5 0h0m11 0h0m72 0h0m85 0h0m24 0h0m-200 1h0m2 0h0m1 0h0m10 0h0m65 0h0m23 0h0m100 0h0m-215 1h0m17 0h0m2 0h0m32 0h0m30 0h0m13 0h0m8 0h0m3 0h0m106 0h0m-302 1h0m108 0h0m8 0h0m1 0h0m43 0h0m36 0h0m13 0h0m3 0h0m90 0h0m5 0h0m-276 1h0m75 0h0m194 0h0m4 0h0m6 0h0m1 0h0m-252 1h0m50 0h0m1 0h0m1 0h0m171 0h0m5 0h0m16 0h0m-192 1h0m5 0h0m18 0h0m38 0h0m17 0h0m87 0h0m-152 1h0m23 0h0m17 0h0m125 0h0m-160 1h0m2 0h0m56 0h0m19 0h0m9 0h0m75 0h0m-188 1h0m2 0h0m9 0h0m81 0h0m5 0h0m14 0h0m-108 1h0m9 0h0m-16 1h0m11 0h0m9 0h0m55 0h0m27 0h0m10 0h0m4 0h0m-75 1h0m3 0h0m2 0h0m-35 1h0m6 0h0m1 0h0m2 0h0m43 0h0m23 0h0m27 0h0m-113 1h0m19 0h0m7 0h0m12 0h0m26 0h0m21 0h0m21 0h0m15 0h0m7 0h0m-123 1h0m7 0h0m9 0h0m4 0h0m13 0h0m59 0h0m27 0h0m-116 1h0m5 0h0m5 0h0m39 0h0m57 0h0m-75 1h0m1 0h0m17 0h0m39 0h0m81 0h0m-130 1h0m4 0h0m11 0h0m40 0h0m21 0h0m1 0h0m46 0h0m-118 1h0m46 0h0m32 0h0m77 0h0m-109 1h0m9 0h0m4 0h0m-11 1h0m32 0h0m-36 1h0m76 0h0m-5 2h0m-44 1h0m1 0h0m3 0h0m-22 1h0m14 0h0m51 0h0m7 0h0m-86 1h0m78 0h0m10 0h0m-82 1h0m13 0h0m4 0h0m10 0h0m3 0h0m-29 1h0m16 0h0m12 0h0m-4 1h0m5 0h0m-8 1h0m5 0h0m43 0h0m-60 1h0m7 0h0m10 0h0m-6 2h0m5 0h0m-3 1h0m-4 1h0m43 1h0"/><path stroke="#1d6eec" d="M170 83h0m-8 2h0m-7 3h0m5 1h0m-9 3h0m8 0h0m-3 2h0m5 0h0m70 0h0m4 0h0m6 0h0m-85 1h0m1 0h0m74 0h0m-76 1h0m78 0h0m-82 1h0m4 0h0m-4 1h0m13 0h0m69 0h0m-80 1h0m1 0h0m2 0h0m6 0h0m198 0h0m3 0h0m-215 2h0m14 0h0m76 0h0m-90 1h0m8 0h0m132 0h0m6 0h0m3 0h0m68 0h0m-214 1h0m16 0h0m60 0h0m2 0h0m4 0h0m7 0h0m51 0h0m1 0h0m68 0h0m-206 1h0m79 0h0m51 0h0m4 0h0m4 0h0m1 0h0m70 0h0m-181 1h0m44 0h0m63 0h0m3 0h0m1 0h0m7 0h0m62 0h0m-212 1h0m76 0h0m67 0h0m1 0h0m25 0h0m45 0h0m1 0h0m-222 1h0m5 0h0m7 0h0m77 0h0m56 0h0m2 0h0m4 0h0m1 0h0m6 0h0m24 0h0m35 0h0m1 0h0m3 0h0m-220 1h0m4 0h0m73 0h0m4 0h0m61 0h0m4 0h0m3 0h0m1 0h0m5 0h0m5 0h0m-161 1h0m4 0h0m1 0h0m77 0h0m8 0h0m58 0h0m66 0h0m-181 1h0m44 0h0m12 0h0m18 0h0m46 0h0m14 0h0m-157 1h0m82 0h0m52 0h0m1 0h0m12 0h0m5 0h0m56 0h0m-210 1h0m1 0h0m71 0h0m3 0h0m21 0h0m50 0h0m1 0h0m6 0h0m4 0h0m-166 1h0m4 0h0m4 0h0m70 0h0m65 0h0m13 0h0m3 0h0m71 0h0m-228 1h0m73 0h0m10 0h0m60 0h0m1 0h0m8 0h0m4 0h0m34 0h0m21 0h0m6 0h0m1 0h0m-218 1h0m78 0h0m28 0h0m44 0h0m2 0h0m3 0h0m5 0h0m3 0h0m3 0h0m25 0h0m34 0h0m-219 1h0m59 0h0m8 0h0m69 0h0m4 0h0m3 0h0m3 0h0m3 0h0m-160 1h0m79 0h0m5 0h0m7 0h0m29 0h0m28 0h0m3 0h0m1 0h0m6 0h0m6 0h0m2 0h0m57 0h0m2 0h0m-215 1h0m70 0h0m64 0h0m12 0h0m4 0h0m1 0h0m1 0h0m3 0h0m1 0h0m56 0h0m63 0h0m-213 1h0m5 0h0m1 0h0m10 0h0m64 0h0m11 0h0m47 0h0m10 0h0m5 0h0m-80 1h0m18 0h0m116 0h0m-202 1h0m43 0h0m4 0h0m21 0h0m4 0h0m9 0h0m1 0h0m53 0h0m6 0h0m3 0h0m-132 1h0m56 0h0m7 0h0m3 0h0m3 0h0m3 0h0m47 0h0m4 0h0m6 0h0m4 0h0m-220 1h0m72 0h0m72 0h0m24 0h0m19 0h0m28 0h0m23 0h0m-165 1h0m25 0h0m68 0h0m1 0h0m39 0h0m11 0h0m1 0h0m2 0h0m-221 1h0m148 0h0m23 0h0m48 0h0m4 0h0m-226 1h0m32 0h0m37 0h0m81 0h0m6 0h0m7 0h0m5 0h0m42 0h0m4 0h0m1 0h0m4 0h0m-152 1h0m15 0h0m41 0h0m33 0h0m2 0h0m56 0h0m-216 1h0m74 0h0m142 0h0m2 0h0m8 0h0m-222 1h0m5 0h0m64 0h0m9 0h0m39 0h0m25 0h0m5 0h0m14 0h0m37 0h0m18 0h0m4 0h0m3 0h0m2 0h0m66 0h0m-227 1h0m57 0h0m30 0h0m6 0h0m2 0h0m2 0h0m60 0h0m68 0h0m8 0h0m-302 1h0m70 0h0m4 0h0m47 0h0m1 0h0m1 0h0m23 0h0m8 0h0m1 0h0m8 0h0m14 0h0m26 0h0m6 0h0m105 0h0m14 0h0m-322 1h0m69 0h0m61 0h0m8 0h0m8 0h0m24 0h0m11 0h0m28 0h0m36 0h0m42 0h0m20 0h0m-241 1h0m82 0h0m2 0h0m15 0h0m35 0h0m8 0h0m5 0h0m9 0h0m69 0h0m-230 1h0m61 0h0m25 0h0m15 0h0m22 0h0m15 0h0m12 0h0m3 0h0m14 0h0m71 0h0m5 0h0m2 0h0m-239 1h0m5 0h0m47 0h0m4 0h0m17 0h0m9 0h0m1 0h0m10 0h0m3 0h0m4 0h0m6 0h0m3 0h0m6 0h0m9 0h0m29 0h0m98 0h0m-323 1h0m65 0h0m3 0h0m1 0h0m1 0h0m6 0h0m50 0h0m3 0h0m7 0h0m9 0h0m12 0h0m1 0h0m53 0h0m93 0h0m19 0h0m-329 1h0m79 0h0m4 0h0m45 0h0m33 0h0m2 0h0m2 0h0m45 0h0m6 0h0m1 0h0m1 0h0m16 0h0m80 0h0m11 0h0m-317 1h0m63 0h0m5 0h0m1 0h0m4 0h0m12 0h0m72 0h0m22 0h0m5 0h0m17 0h0m5 0h0m18 0h0m68 0h0m-302 1h0m3 0h0m2 0h0m7 0h0m113 0h0m24 0h0m9 0h0m6 0h0m4 0h0m7 0h0m2 0h0m37 0h0m3 0h0m2 0h0m79 0h0m41 0h0m9 0h0m-334 1h0m61 0h0m49 0h0m4 0h0m3 0h0m2 0h0m5 0h0m21 0h0m6 0h0m7 0h0m48 0h0m2 0h0m8 0h0m93 0h0m5 0h0m3 0h0m-343 1h0m12 0h0m6 0h0m68 0h0m1 0h0m2 0h0m2 0h0m1 0h0m6 0h0m56 0h0m14 0h0m20 0h0m2 0h0m2 0h0m3 0h0m13 0h0m20 0h0m1 0h0m1 0h0m17 0h0m87 0h0m-321 1h0m70 0h0m15 0h0m8 0h0m5 0h0m22 0h0m31 0h0m4 0h0m10 0h0m1 0h0m1 0h0m4 0h0m9 0h0m4 0h0m29 0h0m1 0h0m77 0h0m28 0h0m1 0h0m10 0h0m-340 1h0m4 0h0m78 0h0m2 0h0m10 0h0m22 0h0m10 0h0m1 0h0m6 0h0m5 0h0m20 0h0m9 0h0m1 0h0m3 0h0m7 0h0m8 0h0m2 0h0m33 0h0m2 0h0m4 0h0m8 0h0m2 0h0m3 0h0m2 0h0m4 0h0m41 0h0m67 0h0m-356 1h0m76 0h0m10 0h0m5 0h0m4 0h0m27 0h0m4 0h0m14 0h0m4 0h0m3 0h0m14 0h0m4 0h0m1 0h0m1 0h0m2 0h0m12 0h0m1 0h0m2 0h0m10 0h0m11 0h0m14 0h0m9 0h0m2 0h0m6 0h0m18 0h0m77 0h0m4 0h0m18 0h0m-346 1h0m82 0h0m7 0h0m35 0h0m9 0h0m7 0h0m14 0h0m3 0h0m5 0h0m5 0h0m7 0h0m1 0h0m1 0h0m9 0h0m1 0h0m3 0h0m4 0h0m17 0h0m1 0h0m2 0h0m6 0h0m4 0h0m9 0h0m101 0h0m-326 1h0m69 0h0m3 0h0m4 0h0m27 0h0m23 0h0m1 0h0m12 0h0m7 0h0m1 0h0m4 0h0m11 0h0m3 0h0m12 0h0m3 0h0m13 0h0m18 0h0m5 0h0m8 0h0m5 0h0m57 0h0m18 0h0m-245 1h0m14 0h0m11 0h0m9 0h0m4 0h0m1 0h0m27 0h0m7 0h0m34 0h0m21 0h0m17 0h0m11 0h0m1 0h0m16 0h0m56 0h0m23 0h0m4 0h0m1 0h0m-341 1h0m92 0h0m8 0h0m1 0h0m39 0h0m12 0h0m5 0h0m8 0h0m4 0h0m10 0h0m2 0h0m1 0h0m5 0h0m7 0h0m11 0h0m7 0h0m4 0h0m20 0h0m2 0h0m7 0h0m12 0h0m2 0h0m56 0h0m26 0h0m-339 1h0m4 0h0m98 0h0m1 0h0m43 0h0m1 0h0m15 0h0m1 0h0m4 0h0m1 0h0m10 0h0m2 0h0m16 0h0m16 0h0m24 0h0m1 0h0m17 0h0m86 0h0m-342 1h0m4 0h0m2 0h0m10 0h0m4 0h0m74 0h0m7 0h0m8 0h0m13 0h0m34 0h0m4 0h0m7 0h0m1 0h0m4 0h0m21 0h0m10 0h0m46 0h0m7 0h0m10 0h0m2 0h0m71 0h0m-369 1h0m48 0h0m78 0h0m4 0h0m4 0h0m12 0h0m8 0h0m18 0h0m9 0h0m23 0h0m11 0h0m5 0h0m1 0h0m15 0h0m9 0h0m14 0h0m22 0h0m8 0h0m-200 1h0m36 0h0m6 0h0m52 0h0m5 0h0m5 0h0m6 0h0m2 0h0m3 0h0m38 0h0m13 0h0m9 0h0m8 0h0m1 0h0m4 0h0m3 0h0m6 0h0m10 0h0m4 0h0m-270 1h0m4 0h0m103 0h0m35 0h0m37 0h0m2 0h0m7 0h0m17 0h0m8 0h0m7 0h0m14 0h0m3 0h0m2 0h0m3 0h0m1 0h0m2 0h0m1 0h0m2 0h0m6 0h0m1 0h0m81 0h0m22 0h0m-371 1h0m8 0h0m5 0h0m2 0h0m2 0h0m2 0h0m7 0h0m69 0h0m13 0h0m1 0h0m5 0h0m24 0h0m4 0h0m18 0h0m5 0h0m10 0h0m10 0h0m7 0h0m3 0h0m4 0h0m5 0h0m14 0h0m1 0h0m16 0h0m2 0h0m6 0h0m1 0h0m8 0h0m6 0h0m3 0h0m3 0h0m56 0h0m36 0h0m-336 1h0m91 0h0m45 0h0m103 0h0m4 0h0m1 0h0m1 0h0m4 0h0m5 0h0m74 0h0m-332 1h0m13 0h0m1 0h0m80 0h0m2 0h0m32 0h0m13 0h0m5 0h0m40 0h0m2 0h0m54 0h0m13 0h0m-257 1h0m1 0h0m8 0h0m8 0h0m4 0h0m26 0h0m41 0h0m6 0h0m1 0h0m4 0h0m23 0h0m24 0h0m25 0h0m5 0h0m8 0h0m6 0h0m30 0h0m3 0h0m4 0h0m2 0h0m14 0h0m6 0h0m10 0h0m11 0h0m68 0h0m6 0h0m-283 1h0m14 0h0m59 0h0m3 0h0m13 0h0m32 0h0m13 0h0m25 0h0m2 0h0m14 0h0m1 0h0m16 0h0m85 0h0m-336 1h0m1 0h0m13 0h0m33 0h0m16 0h0m20 0h0m15 0h0m33 0h0m3 0h0m10 0h0m28 0h0m2 0h0m5 0h0m21 0h0m31 0h0m2 0h0m8 0h0m3 0h0m14 0h0m4 0h0m1 0h0m-267 1h0m14 0h0m111 0h0m14 0h0m50 0h0m1 0h0m13 0h0m31 0h0m3 0h0m1 0h0m10 0h0m9 0h0m12 0h0m-265 1h0m2 0h0m5 0h0m55 0h0m21 0h0m14 0h0m1 0h0m19 0h0m23 0h0m39 0h0m1 0h0m5 0h0m6 0h0m37 0h0m12 0h0m24 0h0m69 0h0m1 0h0m-354 1h0m2 0h0m15 0h0m7 0h0m1 0h0m2 0h0m5 0h0m101 0h0m60 0h0m6 0h0m6 0h0m5 0h0m14 0h0m11 0h0m25 0h0m69 0h0m18 0h0m-317 1h0m66 0h0m24 0h0m19 0h0m15 0h0m2 0h0m49 0h0m27 0h0m9 0h0m9 0h0m2 0h0m12 0h0m7 0h0m10 0h0m2 0h0m2 0h0m-265 1h0m56 0h0m14 0h0m51 0h0m71 0h0m19 0h0m17 0h0m1 0h0m6 0h0m94 0h0m9 0h0m-344 1h0m2 0h0m3 0h0m4 0h0m8 0h0m2 0h0m1 0h0m2 0h0m53 0h0m4 0h0m39 0h0m12 0h0m49 0h0m3 0h0m4 0h0m2 0h0m46 0h0m33 0h0m76 0h0m-343 1h0m11 0h0m3 0h0m1 0h0m2 0h0m2 0h0m9 0h0m32 0h0m62 0h0m1 0h0m14 0h0m7 0h0m5 0h0m76 0h0m3 0h0m6 0h0m36 0h0m1 0h0m66 0h0m5 0h0m-342 1h0m16 0h0m1 0h0m47 0h0m62 0h0m2 0h0m64 0h0m9 0h0m26 0h0m6 0h0m6 0h0m10 0h0m-182 1h0m1 0h0m3 0h0m8 0h0m43 0h0m32 0h0m59 0h0m31 0h0m21 0h0m68 0h0m2 0h0m-341 1h0m7 0h0m2 0h0m8 0h0m14 0h0m9 0h0m9 0h0m33 0h0m5 0h0m111 0h0m9 0h0m3 0h0m8 0h0m39 0h0m21 0h0m101 0h0m-379 1h0m11 0h0m14 0h0m18 0h0m26 0h0m8 0h0m54 0h0m65 0h0m7 0h0m17 0h0m125 0h0m-335 1h0m6 0h0m7 0h0m62 0h0m22 0h0m38 0h0m45 0h0m70 0h0m6 0h0m1 0h0m2 0h0m-211 1h0m13 0h0m4 0h0m66 0h0m5 0h0m4 0h0m24 0h0m28 0h0m8 0h0m46 0h0m10 0h0m-239 1h0m95 0h0m70 0h0m3 0h0m9 0h0m47 0h0m14 0h0m45 0h0m25 0h0m2 0h0m-272 1h0m57 0h0m16 0h0m185 0h0m-315 1h0m121 0h0m19 0h0m42 0h0m4 0h0m8 0h0m32 0h0m80 0h0m-230 1h0m14 0h0m48 0h0m7 0h0m150 0h0m1 0h0m7 0h0m-183 1h0m18 0h0m36 0h0m116 0h0m-210 1h0m41 0h0m5 0h0m4 0h0m10 0h0m5 0h0m11 0h0m150 0h0m11 0h0m8 0h0m7 0h0m-266 1h0m50 0h0m7 0h0m53 0h0m13 0h0m71 0h0m8 0h0m26 0h0m30 0h0m-252 1h0m35 0h0m15 0h0m10 0h0m6 0h0m4 0h0m46 0h0m21 0h0m47 0h0m71 0h0m6 0h0m-188 1h0m77 0h0m35 0h0m34 0h0m-253 1h0m88 0h0m1 0h0m17 0h0m19 0h0m38 0h0m11 0h0m75 0h0m49 0h0m-210 1h0m51 0h0m6 0h0m19 0h0m7 0h0m-129 1h0m56 0h0m4 0h0m7 1h0m5 0h0m8 0h0m30 0h0m101 0h0m32 0h0m-172 1h0m4 0h0m77 0h0m-95 1h0m42 0h0m23 0h0m6 0h0m93 0h0m-158 1h0m1 0h0m22 0h0m151 0h0m6 0h0m-203 1h0m1 0h0m42 0h0m16 0h0m13 0h0m40 0h0m85 0h0m-193 1h0m14 0h0m53 0h0m26 0h0m-64 1h0m12 0h0m57 0h0m2 0h0m-97 1h0m2 0h0m23 0h0m133 0h0m-167 1h0m2 0h0m1 0h0m6 0h0m8 0h0m11 0h0m132 0h0m-164 1h0m22 0h0m50 0h0m19 0h0m38 0h0m41 0h0m-160 1h0m7 0h0m86 0h0m26 0h0m4 0h0m-90 1h0m59 0h0m16 0h0m-103 1h0m31 0h0m3 0h0m1 0h0m78 0h0m-123 1h0m14 0h0m22 0h0m6 0h0m38 0h0m2 0h0m47 0h0m-116 1h0m3 0h0m23 0h0m45 0h0m-67 1h0m73 0h0m4 0h0m17 0h0m11 0h0m-78 1h0m50 0h0m31 0h0m39 0h0m-117 1h0m3 0h0m2 0h0m28 0h0m99 1h0m-85 1h0m32 0h0m-11 1h0m-1 1h0m13 0h0m-28 1h0m16 1h0m58 2h0m-51 1h0m31 0h0m3 1h0m45 0h0m-83 3h0m1 0h0m-15 1h0m8 0h0m6 0h0m42 0h0m-6 2h0m2 3h0"/><path stroke="#187bea" d="M155 81h0m14 2h0m-11 2h0m52 3h0m-54 1h0m5 0h0m12 0h0m-1 1h0m192 0h0m-215 1h0m12 0h0m-6 1h0m-4 1h0m6 0h0m1 0h0m76 0h0m-6 2h0m4 0h0m-74 1h0m-4 1h0m5 0h0m78 0h0m2 0h0m-87 1h0m6 0h0m5 0h0m-8 1h0m65 0h0m142 0h0m-216 1h0m3 0h0m5 1h0m2 0h0m146 0h0m58 0h0m-124 1h0m53 0h0m17 0h0m54 0h0m-218 1h0m1 0h0m34 0h0m107 0h0m80 0h0m-125 1h0m51 0h0m9 0h0m2 0h0m56 0h0m2 0h0m1 0h0m-142 1h0m4 0h0m16 0h0m53 0h0m5 0h0m1 0h0m66 0h0m-217 1h0m5 0h0m72 0h0m63 0h0m3 0h0m2 0h0m4 0h0m3 0h0m1 0h0m-149 1h0m4 0h0m68 0h0m2 0h0m3 0h0m75 0h0m3 0h0m9 0h0m-169 1h0m6 0h0m88 0h0m46 0h0m12 0h0m1 0h0m3 0h0m25 0h0m31 0h0m-219 1h0m2 0h0m2 0h0m8 0h0m67 0h0m5 0h0m5 0h0m10 0h0m57 0h0m3 0h0m1 0h0m3 0h0m2 0h0m57 0h0m-220 1h0m2 0h0m10 0h0m2 0h0m73 0h0m28 0h0m42 0h0m6 0h0m3 0h0m3 0h0m16 0h0m1 0h0m26 0h0m10 0h0m2 0h0m64 0h0m-220 1h0m9 0h0m6 0h0m2 0h0m71 0h0m14 0h0m1 0h0m6 0h0m37 0h0m4 0h0m-209 1h0m66 0h0m2 0h0m4 0h0m9 0h0m60 0h0m2 0h0m11 0h0m52 0h0m3 0h0m2 0h0m2 0h0m68 0h0m2 0h0m-222 1h0m5 0h0m2 0h0m1 0h0m1 0h0m4 0h0m5 0h0m58 0h0m2 0h0m7 0h0m2 0h0m18 0h0m38 0h0m5 0h0m68 0h0m3 0h0m-296 1h0m18 0h0m3 0h0m54 0h0m12 0h0m8 0h0m8 0h0m24 0h0m47 0h0m43 0h0m2 0h0m11 0h0m63 0h0m4 0h0m4 0h0m-282 1h0m64 0h0m1 0h0m73 0h0m3 0h0m5 0h0m11 0h0m6 0h0m41 0h0m1 0h0m5 0h0m68 0h0m-281 1h0m5 0h0m89 0h0m18 0h0m27 0h0m3 0h0m10 0h0m7 0h0m49 0h0m72 0h0m1 0h0m-294 1h0m71 0h0m10 0h0m66 0h0m1 0h0m14 0h0m2 0h0m4 0h0m2 0h0m45 0h0m6 0h0m18 0h0m-224 1h0m66 0h0m1 0h0m11 0h0m74 0h0m55 0h0m1 0h0m21 0h0m53 0h0m-288 1h0m2 0h0m63 0h0m48 0h0m1 0h0m22 0h0m12 0h0m8 0h0m21 0h0m11 0h0m13 0h0m5 0h0m5 0h0m2 0h0m70 0h0m-283 1h0m8 0h0m60 0h0m13 0h0m34 0h0m5 0h0m31 0h0m1 0h0m10 0h0m3 0h0m41 0h0m6 0h0m2 0h0m3 0h0m-209 1h0m65 0h0m46 0h0m27 0h0m2 0h0m59 0h0m1 0h0m1 0h0m73 0h0m4 0h0m-227 1h0m11 0h0m34 0h0m31 0h0m51 0h0m27 0h0m4 0h0m-145 1h0m39 0h0m4 0h0m47 0h0m7 0h0m41 0h0m2 0h0m2 0h0m75 0h0m-221 1h0m23 0h0m56 0h0m11 0h0m47 0h0m3 0h0m64 0h0m15 0h0m-231 1h0m8 0h0m64 0h0m22 0h0m1 0h0m1 0h0m1 0h0m4 0h0m2 0h0m12 0h0m11 0h0m21 0h0m5 0h0m7 0h0m70 0h0m-229 1h0m35 0h0m24 0h0m3 0h0m12 0h0m34 0h0m4 0h0m15 0h0m2 0h0m27 0h0m4 0h0m2 0h0m1 0h0m70 0h0m-190 1h0m43 0h0m9 0h0m4 0h0m48 0h0m4 0h0m6 0h0m2 0h0m25 0h0m19 0h0m10 0h0m16 0h0m-302 1h0m6 0h0m118 0h0m17 0h0m17 0h0m3 0h0m2 0h0m17 0h0m5 0h0m7 0h0m26 0h0m8 0h0m4 0h0m5 0h0m1 0h0m63 0h0m10 0h0m-303 1h0m69 0h0m2 0h0m4 0h0m1 0h0m2 0h0m9 0h0m40 0h0m19 0h0m7 0h0m12 0h0m2 0h0m7 0h0m12 0h0m14 0h0m10 0h0m8 0h0m4 0h0m2 0h0m-222 1h0m64 0h0m1 0h0m46 0h0m11 0h0m1 0h0m17 0h0m9 0h0m4 0h0m20 0h0m9 0h0m3 0h0m8 0h0m5 0h0m2 0h0m-193 1h0m58 0h0m8 0h0m72 0h0m4 0h0m11 0h0m6 0h0m2 0h0m17 0h0m1 0h0m33 0h0m2 0h0m19 0h0m48 0h0m4 0h0m-220 1h0m33 0h0m16 0h0m4 0h0m10 0h0m12 0h0m7 0h0m52 0h0m4 0h0m7 0h0m2 0h0m3 0h0m70 0h0m29 0h0m-328 1h0m7 0h0m73 0h0m48 0h0m1 0h0m4 0h0m9 0h0m14 0h0m8 0h0m2 0h0m3 0h0m23 0h0m1 0h0m2 0h0m5 0h0m18 0h0m8 0h0m2 0h0m7 0h0m-252 1h0m22 0h0m7 0h0m61 0h0m5 0h0m3 0h0m14 0h0m52 0h0m3 0h0m6 0h0m4 0h0m4 0h0m18 0h0m8 0h0m9 0h0m10 0h0m5 0h0m3 0h0m2 0h0m7 0h0m2 0h0m1 0h0m1 0h0m2 0h0m-225 1h0m70 0h0m3 0h0m1 0h0m46 0h0m8 0h0m1 0h0m16 0h0m5 0h0m9 0h0m2 0h0m2 0h0m21 0h0m1 0h0m16 0h0m2 0h0m2 0h0m5 0h0m2 0h0m5 0h0m3 0h0m1 0h0m5 0h0m78 0h0m1 0h0m4 0h0m-309 1h0m70 0h0m4 0h0m34 0h0m22 0h0m2 0h0m13 0h0m1 0h0m2 0h0m26 0h0m6 0h0m20 0h0m16 0h0m9 0h0m3 0h0m67 0h0m-330 1h0m102 0h0m11 0h0m8 0h0m49 0h0m27 0h0m26 0h0m26 0h0m61 0h0m10 0h0m11 0h0m-230 1h0m9 0h0m48 0h0m16 0h0m1 0h0m4 0h0m7 0h0m55 0h0m2 0h0m8 0h0m1 0h0m1 0h0m10 0h0m66 0h0m17 0h0m-346 1h0m24 0h0m13 0h0m3 0h0m60 0h0m27 0h0m45 0h0m1 0h0m1 0h0m13 0h0m11 0h0m11 0h0m9 0h0m31 0h0m2 0h0m4 0h0m62 0h0m12 0h0m-305 1h0m5 0h0m75 0h0m1 0h0m1 0h0m1 0h0m2 0h0m32 0h0m8 0h0m25 0h0m4 0h0m1 0h0m7 0h0m4 0h0m16 0h0m4 0h0m27 0h0m1 0h0m21 0h0m60 0h0m5 0h0m-304 1h0m119 0h0m12 0h0m14 0h0m5 0h0m3 0h0m4 0h0m30 0h0m12 0h0m1 0h0m11 0h0m6 0h0m14 0h0m1 0h0m4 0h0m91 0h0m3 0h0m-326 1h0m5 0h0m11 0h0m61 0h0m1 0h0m3 0h0m32 0h0m22 0h0m11 0h0m4 0h0m3 0h0m2 0h0m2 0h0m4 0h0m1 0h0m2 0h0m1 0h0m8 0h0m22 0h0m16 0h0m1 0h0m7 0h0m10 0h0m71 0h0m1 0h0m23 0h0m5 0h0m-348 1h0m21 0h0m103 0h0m17 0h0m2 0h0m5 0h0m6 0h0m4 0h0m26 0h0m9 0h0m8 0h0m3 0h0m42 0h0m65 0h0m36 0h0m2 0h0m-317 1h0m66 0h0m6 0h0m5 0h0m33 0h0m22 0h0m4 0h0m2 0h0m19 0h0m10 0h0m8 0h0m35 0h0m7 0h0m1 0h0m2 0h0m58 0h0m10 0h0m48 0h0m-263 1h0m37 0h0m6 0h0m3 0h0m1 0h0m6 0h0m5 0h0m26 0h0m8 0h0m11 0h0m17 0h0m7 0h0m6 0h0m9 0h0m1 0h0m41 0h0m54 0h0m-330 1h0m15 0h0m69 0h0m16 0h0m20 0h0m2 0h0m24 0h0m6 0h0m8 0h0m5 0h0m10 0h0m3 0h0m5 0h0m9 0h0m17 0h0m11 0h0m11 0h0m7 0h0m57 0h0m13 0h0m-296 1h0m73 0h0m4 0h0m22 0h0m12 0h0m14 0h0m7 0h0m4 0h0m6 0h0m4 0h0m4 0h0m7 0h0m10 0h0m7 0h0m13 0h0m17 0h0m18 0h0m3 0h0m3 0h0m41 0h0m6 0h0m11 0h0m2 0h0m-312 1h0m4 0h0m1 0h0m20 0h0m48 0h0m24 0h0m35 0h0m15 0h0m6 0h0m16 0h0m1 0h0m3 0h0m1 0h0m1 0h0m1 0h0m6 0h0m6 0h0m3 0h0m2 0h0m19 0h0m17 0h0m6 0h0m4 0h0m6 0h0m4 0h0m1 0h0m1 0h0m63 0h0m1 0h0m20 0h0m-365 1h0m17 0h0m22 0h0m86 0h0m3 0h0m8 0h0m17 0h0m1 0h0m6 0h0m24 0h0m2 0h0m14 0h0m4 0h0m9 0h0m7 0h0m33 0h0m5 0h0m3 0h0m2 0h0m9 0h0m3 0h0m3 0h0m3 0h0m5 0h0m55 0h0m1 0h0m32 0h0m-353 1h0m12 0h0m94 0h0m1 0h0m3 0h0m13 0h0m17 0h0m12 0h0m6 0h0m3 0h0m11 0h0m4 0h0m1 0h0m1 0h0m3 0h0m3 0h0m4 0h0m3 0h0m3 0h0m2 0h0m26 0h0m19 0h0m14 0h0m5 0h0m1 0h0m4 0h0m34 0h0m45 0h0m7 0h0m-345 1h0m73 0h0m23 0h0m8 0h0m28 0h0m23 0h0m1 0h0m3 0h0m3 0h0m6 0h0m3 0h0m6 0h0m4 0h0m3 0h0m33 0h0m4 0h0m3 0h0m2 0h0m10 0h0m12 0h0m6 0h0m11 0h0m4 0h0m-203 1h0m8 0h0m32 0h0m37 0h0m31 0h0m16 0h0m27 0h0m6 0h0m13 0h0m13 0h0m5 0h0m15 0h0m45 0h0m3 0h0m21 0h0m2 0h0m-346 1h0m19 0h0m5 0h0m4 0h0m61 0h0m17 0h0m1 0h0m2 0h0m21 0h0m2 0h0m9 0h0m1 0h0m89 0h0m1 0h0m3 0h0m1 0h0m2 0h0m1 0h0m12 0h0m5 0h0m10 0h0m12 0h0m32 0h0m6 0h0m1 0h0m31 0h0m-265 1h0m8 0h0m49 0h0m28 0h0m26 0h0m3 0h0m24 0h0m12 0h0m17 0h0m6 0h0m1 0h0m17 0h0m39 0h0m-333 1h0m21 0h0m66 0h0m31 0h0m5 0h0m4 0h0m2 0h0m5 0h0m60 0h0m10 0h0m8 0h0m3 0h0m25 0h0m13 0h0m2 0h0m1 0h0m1 0h0m11 0h0m2 0h0m10 0h0m2 0h0m5 0h0m3 0h0m-264 1h0m2 0h0m8 0h0m83 0h0m11 0h0m19 0h0m25 0h0m3 0h0m21 0h0m59 0h0m5 0h0m4 0h0m1 0h0m1 0h0m8 0h0m6 0h0m-172 1h0m58 0h0m4 0h0m7 0h0m73 0h0m8 0h0m7 0h0m16 0h0m2 0h0m1 0h0m46 0h0m29 0h0m-336 1h0m2 0h0m2 0h0m11 0h0m57 0h0m75 0h0m40 0h0m6 0h0m3 0h0m13 0h0m35 0h0m4 0h0m2 0h0m2 0h0m5 0h0m2 0h0m-257 1h0m2 0h0m55 0h0m5 0h0m13 0h0m78 0h0m33 0h0m24 0h0m14 0h0m2 0h0m3 0h0m1 0h0m8 0h0m5 0h0m3 0h0m2 0h0m4 0h0m45 0h0m7 0h0m1 0h0m37 0h0m1 0h0m-345 1h0m91 0h0m36 0h0m4 0h0m4 0h0m11 0h0m48 0h0m54 0h0m6 0h0m1 0h0m2 0h0m-244 1h0m49 0h0m14 0h0m18 0h0m5 0h0m87 0h0m15 0h0m20 0h0m13 0h0m24 0h0m13 0h0m28 0h0m5 0h0m30 0h0m-329 1h0m1 0h0m17 0h0m39 0h0m28 0h0m38 0h0m1 0h0m6 0h0m2 0h0m11 0h0m26 0h0m5 0h0m31 0h0m3 0h0m40 0h0m-266 1h0m18 0h0m35 0h0m27 0h0m1 0h0m9 0h0m53 0h0m15 0h0m33 0h0m7 0h0m1 0h0m2 0h0m44 0h0m39 0h0m30 0h0m1 0h0m4 0h0m-308 1h0m6 0h0m4 0h0m2 0h0m1 0h0m2 0h0m2 0h0m4 0h0m111 0h0m9 0h0m4 0h0m35 0h0m14 0h0m35 0h0m3 0h0m7 0h0m5 0h0m14 0h0m83 0h0m-325 1h0m3 0h0m18 0h0m27 0h0m169 0h0m8 0h0m17 0h0m37 0h0m39 0h0m6 0h0m-344 1h0m10 0h0m8 0h0m53 0h0m67 0h0m13 0h0m1 0h0m35 0h0m41 0h0m23 0h0m17 0h0m38 0h0m30 0h0m-311 1h0m53 0h0m56 0h0m1 0h0m4 0h0m2 0h0m15 0h0m25 0h0m17 0h0m16 0h0m14 0h0m19 0h0m27 0h0m31 0h0m24 0h0m6 0h0m-331 1h0m15 0h0m3 0h0m121 0h0m1 0h0m36 0h0m12 0h0m6 0h0m31 0h0m1 0h0m7 0h0m65 0h0m2 0h0m1 0h0m5 0h0m-318 1h0m15 0h0m3 0h0m5 0h0m114 0h0m6 0h0m7 0h0m45 0h0m43 0h0m107 0h0m1 0h0m8 0h0m-339 1h0m118 0h0m41 0h0m2 0h0m23 0h0m3 0h0m34 0h0m24 0h0m21 0h0m1 0h0m2 0h0m30 0h0m33 0h0m1 0h0m-316 1h0m47 0h0m71 0h0m10 0h0m18 0h0m32 0h0m24 0h0m110 0h0m-314 1h0m2 0h0m86 0h0m36 0h0m44 0h0m9 0h0m139 0h0m-325 1h0m57 0h0m1 0h0m2 0h0m192 0h0m-259 1h0m10 0h0m5 0h0m7 0h0m83 0h0m19 0h0m1 0h0m24 0h0m14 0h0m52 0h0m51 0h0m34 0h0m39 0h0m-274 1h0m1 0h0m23 0h0m45 0h0m11 0h0m9 0h0m16 0h0m53 0h0m70 0h0m-287 1h0m113 0h0m4 0h0m3 0h0m14 0h0m35 0h0m56 0h0m28 0h0m66 0h0m3 0h0m4 0h0m4 0h0m-216 1h0m2 0h0m19 0h0m21 0h0m8 0h0m126 0h0m4 0h0m1 0h0m25 0h0m4 0h0m-318 1h0m118 0h0m13 0h0m87 0h0m-223 1h0m7 0h0m100 0h0m6 0h0m19 0h0m16 0h0m10 0h0m14 0h0m12 0h0m33 0h0m35 0h0m73 0h0m-219 1h0m11 0h0m13 0h0m18 0h0m24 0h0m11 0h0m32 0h0m6 0h0m30 0h0m36 0h0m-285 1h0m51 0h0m1 0h0m11 0h0m57 0h0m21 0h0m11 0h0m1 0h0m19 0h0m-59 1h0m50 0h0m51 0h0m70 0h0m41 0h0m-187 1h0m16 0h0m12 0h0m2 0h0m34 0h0m78 0h0m45 0h0m-201 1h0m27 0h0m7 0h0m11 0h0m2 0h0m5 0h0m29 0h0m78 0h0m1 0h0m4 0h0m-167 1h0m6 0h0m18 0h0m13 0h0m11 0h0m14 0h0m119 0h0m17 0h0m-191 1h0m29 0h0m5 0h0m64 0h0m53 0h0m2 0h0m37 0h0m3 0h0m-198 1h0m30 0h0m67 0h0m5 0h0m56 0h0m-165 1h0m18 0h0m6 0h0m14 0h0m7 0h0m32 0h0m23 0h0m26 0h0m33 0h0m-139 1h0m3 0h0m1 0h0m5 0h0m1 0h0m1 0h0m71 0h0m58 0h0m1 0h0m2 0h0m-162 1h0m41 0h0m10 0h0m9 0h0m91 0h0m-57 1h0m98 0h0m-197 1h0m2 0h0m18 0h0m1 0h0m14 0h0m48 0h0m74 0h0m3 0h0m-169 1h0m18 0h0m1 0h0m3 0h0m82 0h0m6 0h0m-100 1h0m6 0h0m2 0h0m17 0h0m60 0h0m64 0h0m10 0h0m-164 1h0m2 0h0m1 0h0m15 0h0m18 0h0m21 0h0m27 0h0m-47 1h0m18 0h0m32 0h0m30 0h0m52 0h0m-114 1h0m1 0h0m105 0h0m6 0h0m-111 1h0m5 0h0m-57 1h0m106 0h0m50 0h0m5 0h0m-16 1h0m10 0h0m2 0h0m-123 1h0m15 0h0m11 0h0m42 0h0m15 0h0m36 0h0m5 0h0m3 0h0m-113 1h0m41 0h0m69 0h0m-59 1h0m59 0h0m3 0h0m-64 1h0m20 0h0m34 0h0m5 0h0m-78 1h0m0 1h0m34 2h0m9 0h0m29 1h0m3 0h0m3 1h0m-46 1h0m4 0h0m34 0h0m-13 1h0m17 0h0m-42 2h0m1 0h0m41 0h0m-57 1h0m50 0h0m10 0h0m10 1h0m-74 1h0m64 0h0m-9 1h0m11 0h0m-39 1h0m32 0h0m9 3h0"/><path stroke="#1485e6" d="M161 76h0m2 6h0m-6 1h0m-1 3h0m-2 1h0m5 0h0m-7 1h0m52 1h0m-56 1h0m12 1h0m-15 1h0m8 0h0m7 0h0m-14 1h0m16 0h0m-16 1h0m5 0h0m3 0h0m-5 1h0m1 0h0m9 0h0m1 1h0m1 0h0m-9 1h0m130 0h0m81 0h0m1 0h0m-216 1h0m60 0h0m88 0h0m-148 1h0m2 0h0m76 0h0m67 0h0m72 0h0m-217 1h0m2 0h0m6 0h0m3 0h0m128 0h0m75 0h0m1 0h0m-66 1h0m64 0h0m-216 1h0m150 0h0m-161 1h0m25 0h0m128 0h0m1 0h0m5 0h0m-134 1h0m62 0h0m14 0h0m50 0h0m13 0h0m7 0h0m57 0h0m-221 1h0m22 0h0m57 0h0m9 0h0m20 0h0m50 0h0m9 0h0m52 0h0m4 0h0m-222 1h0m61 0h0m15 0h0m3 0h0m7 0h0m133 0h0m-216 1h0m1 0h0m57 0h0m14 0h0m9 0h0m36 0h0m25 0h0m2 0h0m10 0h0m7 0h0m2 0h0m-105 1h0m2 0h0m7 0h0m47 0h0m3 0h0m56 0h0m37 0h0m8 0h0m1 0h0m-220 1h0m118 0h0m18 0h0m7 0h0m2 0h0m3 0h0m3 0h0m1 0h0m13 0h0m8 0h0m35 0h0m2 0h0m2 0h0m5 0h0m-215 1h0m83 0h0m8 0h0m22 0h0m29 0h0m2 0h0m15 0h0m50 0h0m2 0h0m4 0h0m-228 1h0m5 0h0m10 0h0m64 0h0m6 0h0m1 0h0m10 0h0m16 0h0m12 0h0m38 0h0m11 0h0m57 0h0m53 0h0m9 0h0m4 0h0m3 0h0m-207 1h0m77 0h0m16 0h0m4 0h0m34 0h0m3 0h0m67 0h0m-275 1h0m56 0h0m14 0h0m3 0h0m2 0h0m32 0h0m5 0h0m17 0h0m9 0h0m5 0h0m2 0h0m20 0h0m35 0h0m9 0h0m64 0h0m3 0h0m8 0h0m-226 1h0m2 0h0m10 0h0m4 0h0m31 0h0m30 0h0m42 0h0m5 0h0m25 0h0m50 0h0m4 0h0m19 0h0m-298 1h0m79 0h0m11 0h0m2 0h0m38 0h0m20 0h0m2 0h0m6 0h0m45 0h0m15 0h0m7 0h0m68 0h0m2 0h0m-208 1h0m7 0h0m3 0h0m25 0h0m1 0h0m7 0h0m31 0h0m8 0h0m5 0h0m2 0h0m11 0h0m1 0h0m18 0h0m20 0h0m57 0h0m10 0h0m1 0h0m6 0h0m3 0h0m-299 1h0m19 0h0m57 0h0m2 0h0m4 0h0m26 0h0m13 0h0m4 0h0m32 0h0m20 0h0m31 0h0m5 0h0m5 0h0m51 0h0m19 0h0m1 0h0m1 0h0m-289 1h0m117 0h0m2 0h0m3 0h0m29 0h0m1 0h0m1 0h0m3 0h0m58 0h0m5 0h0m3 0h0m3 0h0m54 0h0m12 0h0m-296 1h0m11 0h0m113 0h0m3 0h0m36 0h0m3 0h0m49 0h0m14 0h0m71 0h0m1 0h0m-285 1h0m5 0h0m49 0h0m8 0h0m8 0h0m24 0h0m14 0h0m14 0h0m16 0h0m2 0h0m2 0h0m18 0h0m23 0h0m21 0h0m11 0h0m49 0h0m13 0h0m2 0h0m1 0h0m1 0h0m1 0h0m4 0h0m1 0h0m-297 1h0m7 0h0m73 0h0m5 0h0m33 0h0m22 0h0m15 0h0m2 0h0m5 0h0m5 0h0m11 0h0m11 0h0m104 0h0m2 0h0m-281 1h0m88 0h0m10 0h0m16 0h0m18 0h0m3 0h0m2 0h0m3 0h0m2 0h0m20 0h0m30 0h0m1 0h0m6 0h0m3 0h0m69 0h0m-290 1h0m120 0h0m4 0h0m6 0h0m4 0h0m6 0h0m6 0h0m12 0h0m5 0h0m9 0h0m14 0h0m4 0h0m24 0h0m1 0h0m3 0h0m80 0h0m1 0h0m-179 1h0m9 0h0m16 0h0m4 0h0m14 0h0m3 0h0m6 0h0m11 0h0m1 0h0m2 0h0m2 0h0m8 0h0m16 0h0m67 0h0m17 0h0m1 0h0m2 0h0m1 0h0m-174 1h0m2 0h0m23 0h0m4 0h0m14 0h0m5 0h0m37 0h0m1 0h0m10 0h0m72 0h0m-224 1h0m3 0h0m35 0h0m14 0h0m5 0h0m7 0h0m39 0h0m7 0h0m6 0h0m5 0h0m4 0h0m3 0h0m2 0h0m8 0h0m56 0h0m2 0h0m28 0h0m1 0h0m-290 1h0m61 0h0m86 0h0m13 0h0m2 0h0m17 0h0m3 0h0m23 0h0m17 0h0m44 0h0m6 0h0m15 0h0m1 0h0m-226 1h0m6 0h0m53 0h0m10 0h0m11 0h0m9 0h0m4 0h0m31 0h0m9 0h0m8 0h0m2 0h0m1 0h0m2 0h0m8 0h0m54 0h0m16 0h0m10 0h0m-233 1h0m5 0h0m45 0h0m23 0h0m3 0h0m11 0h0m7 0h0m14 0h0m8 0h0m6 0h0m23 0h0m59 0h0m11 0h0m10 0h0m5 0h0m1 0h0m-361 1h0m135 0h0m2 0h0m2 0h0m44 0h0m2 0h0m6 0h0m2 0h0m9 0h0m12 0h0m16 0h0m11 0h0m7 0h0m3 0h0m24 0h0m9 0h0m6 0h0m54 0h0m11 0h0m2 0h0m-159 1h0m14 0h0m3 0h0m12 0h0m11 0h0m30 0h0m21 0h0m1 0h0m63 0h0m2 0h0m3 0h0m1 0h0m13 0h0m-356 1h0m46 0h0m69 0h0m52 0h0m18 0h0m12 0h0m3 0h0m6 0h0m25 0h0m21 0h0m11 0h0m47 0h0m28 0h0m6 0h0m20 0h0m-363 1h0m45 0h0m65 0h0m3 0h0m1 0h0m2 0h0m2 0h0m67 0h0m18 0h0m10 0h0m13 0h0m23 0h0m80 0h0m9 0h0m7 0h0m13 0h0m-317 1h0m3 0h0m5 0h0m131 0h0m27 0h0m11 0h0m46 0h0m11 0h0m63 0h0m3 0h0m15 0h0m-319 1h0m72 0h0m2 0h0m3 0h0m32 0h0m33 0h0m8 0h0m7 0h0m50 0h0m5 0h0m12 0h0m77 0h0m1 0h0m1 0h0m-306 1h0m16 0h0m69 0h0m66 0h0m9 0h0m5 0h0m23 0h0m30 0h0m12 0h0m1 0h0m3 0h0m2 0h0m52 0h0m22 0h0m-310 1h0m4 0h0m75 0h0m2 0h0m1 0h0m63 0h0m2 0h0m82 0h0m7 0h0m64 0h0m5 0h0m-348 1h0m18 0h0m26 0h0m5 0h0m75 0h0m3 0h0m39 0h0m12 0h0m5 0h0m32 0h0m1 0h0m13 0h0m9 0h0m1 0h0m36 0h0m3 0h0m67 0h0m-354 1h0m131 0h0m3 0h0m3 0h0m3 0h0m38 0h0m9 0h0m32 0h0m3 0h0m1 0h0m6 0h0m17 0h0m6 0h0m24 0h0m12 0h0m5 0h0m57 0h0m1 0h0m25 0h0m3 0h0m7 0h0m-367 1h0m113 0h0m66 0h0m2 0h0m1 0h0m10 0h0m37 0h0m1 0h0m4 0h0m1 0h0m29 0h0m2 0h0m40 0h0m2 0h0m24 0h0m-318 1h0m101 0h0m3 0h0m9 0h0m11 0h0m23 0h0m10 0h0m18 0h0m3 0h0m2 0h0m5 0h0m5 0h0m3 0h0m16 0h0m5 0h0m21 0h0m2 0h0m1 0h0m6 0h0m75 0h0m4 0h0m-288 1h0m38 0h0m45 0h0m6 0h0m26 0h0m3 0h0m2 0h0m8 0h0m1 0h0m4 0h0m12 0h0m31 0h0m4 0h0m19 0h0m60 0h0m19 0h0m3 0h0m2 0h0m1 0h0m1 0h0m15 0h0m18 0h0m-344 1h0m86 0h0m5 0h0m1 0h0m4 0h0m4 0h0m33 0h0m11 0h0m9 0h0m2 0h0m1 0h0m6 0h0m3 0h0m30 0h0m8 0h0m9 0h0m5 0h0m14 0h0m3 0h0m1 0h0m9 0h0m66 0h0m-295 1h0m80 0h0m5 0h0m34 0h0m22 0h0m6 0h0m3 0h0m1 0h0m11 0h0m1 0h0m10 0h0m10 0h0m6 0h0m3 0h0m19 0h0m79 0h0m4 0h0m1 0h0m17 0h0m-348 1h0m19 0h0m8 0h0m14 0h0m118 0h0m17 0h0m2 0h0m6 0h0m11 0h0m2 0h0m28 0h0m40 0h0m5 0h0m30 0h0m25 0h0m2 0h0m35 0h0m-355 1h0m10 0h0m80 0h0m16 0h0m38 0h0m19 0h0m1 0h0m3 0h0m1 0h0m6 0h0m9 0h0m42 0h0m12 0h0m9 0h0m3 0h0m10 0h0m65 0h0m7 0h0m-313 1h0m140 0h0m8 0h0m11 0h0m2 0h0m12 0h0m1 0h0m8 0h0m12 0h0m5 0h0m5 0h0m17 0h0m1 0h0m4 0h0m15 0h0m47 0h0m6 0h0m4 0h0m-326 1h0m20 0h0m6 0h0m1 0h0m8 0h0m79 0h0m22 0h0m2 0h0m5 0h0m23 0h0m6 0h0m4 0h0m13 0h0m27 0h0m1 0h0m1 0h0m5 0h0m1 0h0m16 0h0m24 0h0m50 0h0m4 0h0m3 0h0m3 0h0m1 0h0m29 0h0m8 0h0m-355 1h0m9 0h0m10 0h0m10 0h0m45 0h0m56 0h0m15 0h0m10 0h0m27 0h0m4 0h0m1 0h0m1 0h0m37 0h0m27 0h0m47 0h0m18 0h0m-309 1h0m12 0h0m91 0h0m26 0h0m6 0h0m12 0h0m11 0h0m16 0h0m5 0h0m40 0h0m9 0h0m16 0h0m3 0h0m4 0h0m1 0h0m56 0h0m1 0h0m1 0h0m2 0h0m2 0h0m1 0h0m-336 1h0m16 0h0m6 0h0m2 0h0m7 0h0m79 0h0m4 0h0m36 0h0m5 0h0m44 0h0m2 0h0m33 0h0m37 0h0m50 0h0m10 0h0m1 0h0m3 0h0m3 0h0m24 0h0m-335 1h0m1 0h0m92 0h0m38 0h0m11 0h0m3 0h0m65 0h0m11 0h0m4 0h0m1 0h0m8 0h0m60 0h0m15 0h0m1 0h0m-302 1h0m59 0h0m6 0h0m15 0h0m1 0h0m3 0h0m7 0h0m35 0h0m10 0h0m5 0h0m52 0h0m2 0h0m2 0h0m2 0h0m18 0h0m20 0h0m61 0h0m2 0h0m30 0h0m-344 1h0m72 0h0m34 0h0m26 0h0m9 0h0m48 0h0m19 0h0m14 0h0m19 0h0m16 0h0m48 0h0m1 0h0m7 0h0m2 0h0m31 0h0m-335 1h0m9 0h0m45 0h0m6 0h0m29 0h0m26 0h0m22 0h0m1 0h0m84 0h0m65 0h0m7 0h0m1 0h0m5 0h0m2 0h0m34 0h0m-328 1h0m46 0h0m31 0h0m24 0h0m1 0h0m8 0h0m44 0h0m49 0h0m3 0h0m5 0h0m24 0h0m3 0h0m31 0h0m8 0h0m6 0h0m3 0h0m4 0h0m5 0h0m-322 1h0m4 0h0m2 0h0m68 0h0m6 0h0m2 0h0m11 0h0m2 0h0m18 0h0m35 0h0m99 0h0m10 0h0m56 0h0m6 0h0m4 0h0m-313 1h0m3 0h0m6 0h0m51 0h0m44 0h0m23 0h0m45 0h0m25 0h0m22 0h0m8 0h0m1 0h0m1 0h0m2 0h0m15 0h0m40 0h0m1 0h0m15 0h0m5 0h0m1 0h0m1 0h0m-314 1h0m17 0h0m105 0h0m9 0h0m9 0h0m16 0h0m33 0h0m3 0h0m7 0h0m20 0h0m18 0h0m9 0h0m60 0h0m5 0h0m34 0h0m-351 1h0m15 0h0m46 0h0m10 0h0m9 0h0m34 0h0m16 0h0m26 0h0m31 0h0m46 0h0m17 0h0m62 0h0m2 0h0m2 0h0m1 0h0m-305 1h0m14 0h0m57 0h0m39 0h0m18 0h0m8 0h0m4 0h0m9 0h0m34 0h0m2 0h0m41 0h0m8 0h0m64 0h0m5 0h0m3 0h0m2 0h0m31 0h0m-325 1h0m49 0h0m69 0h0m3 0h0m3 0h0m73 0h0m12 0h0m6 0h0m1 0h0m3 0h0m5 0h0m18 0h0m10 0h0m27 0h0m2 0h0m4 0h0m3 0h0m1 0h0m1 0h0m25 0h0m-335 1h0m8 0h0m5 0h0m3 0h0m169 0h0m26 0h0m15 0h0m12 0h0m10 0h0m26 0h0m-156 1h0m7 0h0m1 0h0m9 0h0m9 0h0m12 0h0m12 0h0m1 0h0m10 0h0m4 0h0m1 0h0m63 0h0m3 0h0m4 0h0m2 0h0m18 0h0m34 0h0m4 0h0m1 0h0m-305 1h0m4 0h0m1 0h0m4 0h0m5 0h0m36 0h0m11 0h0m9 0h0m42 0h0m16 0h0m43 0h0m50 0h0m3 0h0m73 0h0m4 0h0m27 0h0m-323 1h0m11 0h0m19 0h0m38 0h0m50 0h0m9 0h0m39 0h0m42 0h0m86 0h0m1 0h0m1 0h0m32 0h0m-343 1h0m7 0h0m10 0h0m7 0h0m45 0h0m8 0h0m15 0h0m30 0h0m6 0h0m6 0h0m11 0h0m39 0h0m9 0h0m31 0h0m20 0h0m5 0h0m52 0h0m4 0h0m33 0h0m-327 1h0m15 0h0m119 0h0m50 0h0m43 0h0m56 0h0m13 0h0m2 0h0m-292 1h0m6 0h0m49 0h0m10 0h0m41 0h0m12 0h0m8 0h0m33 0h0m17 0h0m4 0h0m43 0h0m17 0h0m44 0h0m3 0h0m4 0h0m3 0h0m32 0h0m3 0h0m-332 1h0m10 0h0m49 0h0m84 0h0m31 0h0m70 0h0m29 0h0m15 0h0m1 0h0m3 0h0m29 0h0m-263 1h0m56 0h0m26 0h0m29 0h0m108 0h0m9 0h0m1 0h0m2 0h0m1 0h0m-289 1h0m11 0h0m48 0h0m9 0h0m68 0h0m98 0h0m48 0h0m1 0h0m6 0h0m1 0h0m2 0h0m24 0h0m-258 1h0m147 0h0m77 0h0m3 0h0m-300 1h0m15 0h0m67 0h0m62 0h0m1 0h0m6 0h0m1 0h0m20 0h0m18 0h0m106 0h0m-174 1h0m32 0h0m7 0h0m126 0h0m13 0h0m2 0h0m3 0h0m-304 1h0m4 0h0m7 0h0m113 0h0m9 0h0m13 0h0m37 0h0m111 0h0m4 0h0m6 0h0m-296 1h0m104 0h0m16 0h0m1 0h0m21 0h0m5 0h0m20 0h0m1 0h0m7 0h0m26 0h0m72 0h0m9 0h0m5 0h0m1 0h0m2 0h0m-237 1h0m56 0h0m9 0h0m15 0h0m7 0h0m81 0h0m3 0h0m63 0h0m2 0h0m-289 1h0m117 0h0m4 0h0m5 0h0m9 0h0m20 0h0m18 0h0m3 0h0m107 0h0m-169 1h0m2 0h0m4 0h0m13 0h0m25 0h0m3 0h0m37 0h0m11 0h0m48 0h0m30 0h0m4 0h0m-131 1h0m12 0h0m2 0h0m115 0h0m1 0h0m-226 1h0m51 0h0m17 0h0m5 0h0m31 0h0m118 0h0m3 0h0m-188 1h0m50 0h0m2 0h0m132 0h0m6 0h0m-158 1h0m1 0h0m20 0h0m17 0h0m26 0h0m3 0h0m89 0h0m-159 1h0m11 0h0m9 0h0m10 0h0m3 0h0m3 0h0m8 0h0m3 0h0m35 0h0m72 0h0m-151 1h0m7 0h0m4 0h0m5 0h0m135 0h0m5 0h0m-169 1h0m2 0h0m13 0h0m10 0h0m5 0h0m2 0h0m130 0h0m4 0h0m1 0h0m-130 1h0m-53 1h0m15 0h0m16 0h0m2 0h0m20 0h0m3 0h0m6 0h0m20 0h0m99 0h0m40 0h0m-183 1h0m4 0h0m2 0h0m23 0h0m11 0h0m96 0h0m3 0h0m-145 1h0m20 0h0m6 0h0m14 0h0m91 0h0m17 0h0m-175 1h0m25 0h0m10 0h0m12 0h0m10 0h0m3 0h0m3 0h0m106 0h0m2 0h0m-176 1h0m8 0h0m1 0h0m9 0h0m44 0h0m21 0h0m90 0h0m2 0h0m2 0h0m1 0h0m-142 1h0m15 0h0m3 0h0m117 0h0m-165 1h0m6 0h0m52 0h0m4 0h0m2 0h0m89 0h0m4 0h0m10 0h0m-162 1h0m6 0h0m45 0h0m2 0h0m5 0h0m38 0h0m8 0h0m20 0h0m34 0h0m4 0h0m-124 1h0m111 0h0m11 0h0m2 0h0m-169 1h0m170 0h0m-126 1h0m11 0h0m8 0h0m95 0h0m5 0h0m4 0h0m3 0h0m-129 1h0m57 0h0m71 0h0m-125 1h0m2 0h0m15 0h0m93 0h0m14 0h0m-8 1h0m3 0h0m-104 1h0m52 0h0m10 0h0m44 0h0m-116 1h0m99 0h0m13 0h0m2 0h0m-39 1h0m20 0h0m7 0h0m9 1h0m1 0h0m3 0h0m-66 1h0m67 0h0m-31 1h0m28 0h0m1 1h0m1 0h0m-22 1h0m5 0h0m14 0h0m1 0h0m-22 1h0m2 0h0m4 0h0m10 1h0m8 0h0m-19 1h0m6 0h0m1 0h0m6 0h0m3 0h0m3 0h0m-9 1h0m6 0h0m3 0h0m-15 1h0m3 0h0m2 0h0m1 0h0m3 0h0m2 1h0m5 0h0m-15 1h0m5 0h0m2 1h0m3 0h0m1 1h0m4 0h0m-13 1h0m3 0h0m1 0h0m7 0h0m4 0h0m-11 1h0m1 0h0m2 0h0m2 0h0m1 0h0m2 0h0m-3 1h0"/><path stroke="#108fe2" d="M160 79h0m-1 1h0m-3 1h0m1 0h0m1 0h0m3 2h0m-6 2h0m3 1h0m4 1h0m-14 1h0m57 0h0m-53 1h0m2 0h0m-2 1h0m4 0h0m-9 1h0m1 0h0m61 0h0m-61 1h0m1 0h0m54 0h0m160 0h0m-218 1h0m2 0h0m5 0h0m1 0h0m53 0h0m1 0h0m158 0h0m-218 1h0m58 1h0m90 0h0m65 0h0m1 0h0m-216 1h0m3 0h0m8 0h0m0 1h0m50 0h0m-59 1h0m135 0h0m-140 1h0m67 0h0m8 0h0m78 0h0m-157 1h0m2 0h0m5 1h0m66 0h0m14 0h0m75 0h0m64 0h0m-214 1h0m3 0h0m1 0h0m54 0h0m15 0h0m1 0h0m2 0h0m59 0h0m76 0h0m-208 1h0m54 0h0m15 0h0m1 0h0m133 0h0m2 0h0m-215 1h0m8 0h0m64 0h0m1 0h0m78 0h0m3 0h0m3 0h0m65 0h0m-223 1h0m1 0h0m1 0h0m5 0h0m54 0h0m1 0h0m4 0h0m16 0h0m133 0h0m-221 1h0m4 0h0m14 0h0m54 0h0m2 0h0m6 0h0m71 0h0m1 0h0m8 0h0m-162 1h0m17 0h0m72 0h0m38 0h0m30 0h0m2 0h0m4 0h0m57 0h0m-212 1h0m72 0h0m-10 1h0m5 0h0m4 0h0m2 0h0m8 0h0m60 0h0m1 0h0m6 0h0m9 0h0m26 0h0m40 0h0m47 0h0m14 0h0m-282 1h0m72 0h0m6 0h0m20 0h0m18 0h0m1 0h0m22 0h0m4 0h0m2 0h0m3 0h0m6 0h0m128 0h0m7 0h0m1 0h0m-292 1h0m79 0h0m38 0h0m1 0h0m25 0h0m34 0h0m32 0h0m61 0h0m10 0h0m5 0h0m3 0h0m4 0h0m-207 1h0m30 0h0m1 0h0m5 0h0m19 0h0m7 0h0m2 0h0m38 0h0m19 0h0m72 0h0m7 0h0m2 0h0m2 0h0m2 0h0m1 0h0m-175 1h0m40 0h0m22 0h0m3 0h0m30 0h0m61 0h0m10 0h0m3 0h0m3 0h0m1 0h0m-228 1h0m14 0h0m64 0h0m3 0h0m37 0h0m89 0h0m21 0h0m1 0h0m2 0h0m-285 1h0m4 0h0m54 0h0m11 0h0m8 0h0m48 0h0m7 0h0m15 0h0m130 0h0m4 0h0m-280 1h0m52 0h0m10 0h0m2 0h0m136 0h0m4 0h0m1 0h0m5 0h0m57 0h0m6 0h0m4 0h0m3 0h0m3 0h0m-226 1h0m13 0h0m81 0h0m9 0h0m11 0h0m14 0h0m82 0h0m10 0h0m4 0h0m2 0h0m1 0h0m-221 1h0m1 0h0m81 0h0m39 0h0m13 0h0m2 0h0m3 0h0m2 0h0m66 0h0m4 0h0m-212 1h0m2 0h0m54 0h0m1 0h0m15 0h0m5 0h0m5 0h0m2 0h0m11 0h0m39 0h0m3 0h0m72 0h0m9 0h0m1 0h0m3 0h0m-300 1h0m80 0h0m10 0h0m99 0h0m30 0h0m73 0h0m5 0h0m-226 1h0m14 0h0m41 0h0m1 0h0m18 0h0m3 0h0m40 0h0m9 0h0m72 0h0m14 0h0m7 0h0m3 0h0m1 0h0m6 0h0m1 0h0m-177 1h0m1 0h0m38 0h0m3 0h0m1 0h0m41 0h0m22 0h0m65 0h0m1 0h0m3 0h0m-301 1h0m6 0h0m65 0h0m2 0h0m31 0h0m20 0h0m4 0h0m8 0h0m4 0h0m11 0h0m2 0h0m35 0h0m83 0h0m1 0h0m22 0h0m11 0h0m-238 1h0m7 0h0m2 0h0m48 0h0m2 0h0m2 0h0m16 0h0m5 0h0m2 0h0m4 0h0m75 0h0m58 0h0m4 0h0m3 0h0m7 0h0m-302 1h0m8 0h0m115 0h0m1 0h0m10 0h0m4 0h0m6 0h0m7 0h0m15 0h0m20 0h0m2 0h0m12 0h0m92 0h0m1 0h0m3 0h0m4 0h0m-230 1h0m76 0h0m5 0h0m2 0h0m2 0h0m1 0h0m112 0h0m3 0h0m26 0h0m3 0h0m-230 1h0m2 0h0m3 0h0m32 0h0m23 0h0m5 0h0m6 0h0m11 0h0m38 0h0m31 0h0m44 0h0m8 0h0m13 0h0m6 0h0m3 0h0m3 0h0m-304 1h0m11 0h0m6 0h0m69 0h0m23 0h0m21 0h0m9 0h0m5 0h0m1 0h0m2 0h0m5 0h0m40 0h0m2 0h0m2 0h0m20 0h0m63 0h0m22 0h0m3 0h0m3 0h0m-235 1h0m61 0h0m11 0h0m48 0h0m2 0h0m10 0h0m95 0h0m8 0h0m-309 1h0m131 0h0m12 0h0m2 0h0m55 0h0m18 0h0m5 0h0m5 0h0m56 0h0m3 0h0m13 0h0m1 0h0m8 0h0m9 0h0m7 0h0m-322 1h0m85 0h0m45 0h0m3 0h0m2 0h0m2 0h0m17 0h0m35 0h0m3 0h0m109 0h0m4 0h0m-311 1h0m4 0h0m133 0h0m5 0h0m2 0h0m8 0h0m3 0h0m2 0h0m35 0h0m31 0h0m17 0h0m40 0h0m9 0h0m1 0h0m8 0h0m10 0h0m1 0h0m-364 1h0m27 0h0m31 0h0m2 0h0m10 0h0m81 0h0m41 0h0m5 0h0m3 0h0m6 0h0m8 0h0m38 0h0m1 0h0m16 0h0m6 0h0m17 0h0m1 0h0m1 0h0m51 0h0m11 0h0m1 0h0m5 0h0m-357 1h0m54 0h0m5 0h0m1 0h0m77 0h0m28 0h0m21 0h0m1 0h0m23 0h0m40 0h0m100 0h0m2 0h0m1 0h0m1 0h0m2 0h0m1 0h0m2 0h0m1 0h0m2 0h0m-363 1h0m54 0h0m137 0h0m8 0h0m2 0h0m38 0h0m48 0h0m53 0h0m9 0h0m-148 1h0m3 0h0m4 0h0m41 0h0m13 0h0m81 0h0m8 0h0m3 0h0m2 0h0m17 0h0m-345 1h0m33 0h0m133 0h0m20 0h0m3 0h0m8 0h0m20 0h0m27 0h0m15 0h0m2 0h0m53 0h0m11 0h0m1 0h0m-330 1h0m16 0h0m12 0h0m4 0h0m142 0h0m2 0h0m3 0h0m9 0h0m3 0h0m62 0h0m9 0h0m60 0h0m11 0h0m-353 1h0m25 0h0m4 0h0m147 0h0m15 0h0m1 0h0m1 0h0m1 0h0m10 0h0m1 0h0m40 0h0m38 0h0m47 0h0m12 0h0m9 0h0m1 0h0m1 0h0m1 0h0m-322 1h0m13 0h0m98 0h0m23 0h0m21 0h0m22 0h0m13 0h0m40 0h0m7 0h0m2 0h0m6 0h0m10 0h0m30 0h0m21 0h0m6 0h0m2 0h0m2 0h0m4 0h0m26 0h0m-363 1h0m155 0h0m3 0h0m2 0h0m9 0h0m21 0h0m7 0h0m29 0h0m18 0h0m1 0h0m20 0h0m4 0h0m49 0h0m11 0h0m2 0h0m1 0h0m2 0h0m1 0h0m4 0h0m-313 1h0m133 0h0m1 0h0m14 0h0m49 0h0m45 0h0m48 0h0m12 0h0m9 0h0m-340 1h0m1 0h0m88 0h0m103 0h0m1 0h0m1 0h0m11 0h0m2 0h0m18 0h0m5 0h0m4 0h0m1 0h0m11 0h0m21 0h0m60 0h0m5 0h0m1 0h0m1 0h0m1 0h0m-213 1h0m5 0h0m23 0h0m9 0h0m3 0h0m16 0h0m1 0h0m7 0h0m7 0h0m51 0h0m2 0h0m1 0h0m13 0h0m10 0h0m6 0h0m1 0h0m55 0h0m1 0h0m-312 1h0m1 0h0m91 0h0m10 0h0m9 0h0m25 0h0m29 0h0m2 0h0m6 0h0m2 0h0m36 0h0m101 0h0m4 0h0m-317 1h0m10 0h0m87 0h0m46 0h0m4 0h0m20 0h0m15 0h0m33 0h0m10 0h0m69 0h0m5 0h0m16 0h0m20 0h0m-342 1h0m7 0h0m1 0h0m12 0h0m124 0h0m4 0h0m6 0h0m15 0h0m5 0h0m5 0h0m5 0h0m45 0h0m12 0h0m1 0h0m15 0h0m59 0h0m4 0h0m1 0h0m3 0h0m2 0h0m-353 1h0m150 0h0m49 0h0m55 0h0m12 0h0m67 0h0m3 0h0m8 0h0m1 0h0m-330 1h0m32 0h0m1 0h0m76 0h0m49 0h0m10 0h0m17 0h0m6 0h0m14 0h0m7 0h0m20 0h0m7 0h0m19 0h0m18 0h0m38 0h0m3 0h0m9 0h0m1 0h0m1 0h0m5 0h0m2 0h0m-327 1h0m135 0h0m12 0h0m4 0h0m74 0h0m7 0h0m3 0h0m65 0h0m21 0h0m-250 1h0m37 0h0m42 0h0m121 0h0m45 0h0m4 0h0m1 0h0m2 0h0m1 0h0m-323 1h0m5 0h0m2 0h0m9 0h0m111 0h0m7 0h0m7 0h0m1 0h0m3 0h0m11 0h0m16 0h0m56 0h0m32 0h0m5 0h0m48 0h0m1 0h0m1 0h0m3 0h0m1 0h0m1 0h0m-321 1h0m17 0h0m38 0h0m23 0h0m75 0h0m25 0h0m17 0h0m119 0h0m1 0h0m2 0h0m6 0h0m-252 1h0m19 0h0m17 0h0m37 0h0m33 0h0m5 0h0m43 0h0m38 0h0m31 0h0m23 0h0m7 0h0m-323 1h0m10 0h0m16 0h0m28 0h0m23 0h0m32 0h0m25 0h0m1 0h0m161 0h0m8 0h0m11 0h0m2 0h0m2 0h0m3 0h0m-314 1h0m72 0h0m29 0h0m1 0h0m22 0h0m5 0h0m38 0h0m20 0h0m3 0h0m115 0h0m1 0h0m6 0h0m-331 1h0m5 0h0m25 0h0m168 0h0m58 0h0m8 0h0m61 0h0m-318 1h0m15 0h0m56 0h0m104 0h0m37 0h0m22 0h0m4 0h0m13 0h0m67 0h0m-326 1h0m13 0h0m77 0h0m13 0h0m12 0h0m26 0h0m1 0h0m1 0h0m8 0h0m41 0h0m30 0h0m3 0h0m84 0h0m3 0h0m16 0h0m1 0h0m-328 1h0m104 0h0m16 0h0m21 0h0m17 0h0m46 0h0m116 0h0m2 0h0m2 0h0m3 0h0m-316 1h0m6 0h0m2 0h0m8 0h0m12 0h0m50 0h0m51 0h0m1 0h0m3 0h0m2 0h0m1 0h0m1 0h0m3 0h0m2 0h0m41 0h0m49 0h0m5 0h0m10 0h0m51 0h0m11 0h0m2 0h0m1 0h0m5 0h0m-317 1h0m19 0h0m52 0h0m4 0h0m30 0h0m24 0h0m30 0h0m32 0h0m104 0h0m15 0h0m1 0h0m4 0h0m1 0h0m-317 1h0m66 0h0m19 0h0m43 0h0m14 0h0m1 0h0m17 0h0m8 0h0m2 0h0m24 0h0m32 0h0m20 0h0m34 0h0m30 0h0m1 0h0m1 0h0m2 0h0m1 0h0m-279 1h0m106 0h0m25 0h0m71 0h0m57 0h0m6 0h0m2 0h0m4 0h0m4 0h0m1 0h0m2 0h0m2 0h0m-190 1h0m3 0h0m3 0h0m1 0h0m6 0h0m5 0h0m1 0h0m12 0h0m40 0h0m111 0h0m1 0h0m4 0h0m-303 1h0m3 0h0m13 0h0m125 0h0m42 0h0m39 0h0m11 0h0m63 0h0m2 0h0m1 0h0m1 0h0m-234 1h0m93 0h0m9 0h0m24 0h0m103 0h0m2 0h0m4 0h0m1 0h0m1 0h0m-311 1h0m5 0h0m25 0h0m95 0h0m2 0h0m37 0h0m5 0h0m8 0h0m24 0h0m31 0h0m70 0h0m4 0h0m5 0h0m3 0h0m-201 1h0m16 0h0m45 0h0m18 0h0m86 0h0m28 0h0m1 0h0m-172 1h0m8 0h0m38 0h0m3 0h0m12 0h0m91 0h0m2 0h0m3 0h0m9 0h0m5 0h0m-291 1h0m11 0h0m102 0h0m19 0h0m18 0h0m15 0h0m123 0h0m3 0h0m-304 1h0m155 0h0m9 0h0m4 0h0m1 0h0m2 0h0m5 0h0m1 0h0m77 0h0m41 0h0m7 0h0m-280 1h0m154 0h0m79 0h0m43 0h0m3 0h0m-297 1h0m7 0h0m15 0h0m98 0h0m6 0h0m3 0h0m44 0h0m93 0h0m13 0h0m11 0h0m7 0h0m1 0h0m-150 1h0m20 0h0m122 0h0m3 0h0m5 0h0m-151 1h0m28 0h0m1 0h0m115 0h0m6 0h0m2 0h0m-195 1h0m3 0h0m61 0h0m115 0h0m1 0h0m5 0h0m4 0h0m4 0h0m1 0h0m-163 1h0m13 0h0m15 0h0m14 0h0m98 0h0m5 0h0m47 0h0m-237 1h0m18 0h0m12 0h0m30 0h0m5 0h0m7 0h0m130 0h0m1 0h0m2 0h0m-290 1h0m112 0h0m27 0h0m2 0h0m22 0h0m121 0h0m1 0h0m4 0h0m-136 1h0m119 0h0m9 0h0m4 0h0m2 0h0m5 0h0m-146 1h0m9 0h0m121 0h0m5 0h0m5 0h0m-131 1h0m6 0h0m13 0h0m108 0h0m3 0h0m-164 1h0m4 0h0m20 0h0m3 0h0m8 0h0m8 0h0m115 0h0m-129 1h0m17 0h0m100 0h0m12 0h0m2 0h0m-132 1h0m5 0h0m19 0h0m2 0h0m96 0h0m3 0h0m5 0h0m1 0h0m1 0h0m-151 1h0m20 0h0m3 0h0m47 0h0m65 0h0m12 0h0m2 0h0m3 0h0m-127 1h0m5 0h0m121 0h0m4 0h0m1 0h0m-165 1h0m1 0h0m13 0h0m38 0h0m108 0h0m-160 1h0m25 0h0m5 0h0m11 0h0m6 0h0m5 0h0m106 0h0m3 0h0m-174 1h0m41 0h0m3 0h0m2 0h0m14 0h0m2 0h0m91 0h0m14 0h0m4 0h0m1 0h0m-141 1h0m24 0h0m99 0h0m19 0h0m1 0h0m-133 1h0m6 0h0m7 0h0m5 0h0m8 0h0m88 0h0m12 0h0m4 0h0m-118 1h0m100 0h0m11 0h0m5 0h0m4 0h0m-144 1h0m138 0h0m2 0h0m-139 1h0m31 1h0m95 0h0m5 0h0m1 0h0m5 0h0m-19 1h0m17 0h0m2 0h0m4 0h0m-108 1h0m101 0h0m-102 1h0m3 0h0m101 0h0m-151 1h0m36 0h0m111 0h0m1 0h0m1 0h0m2 0h0m-20 1h0m15 0h0m-9 1h0m6 0h0m5 0h0m-40 1h0m42 0h0m-38 1h0m24 0h0m10 0h0m1 0h0m1 0h0m1 0h0m1 0h0m-9 1h0m2 0h0m3 0h0m3 0h0m-10 1h0m4 0h0m5 0h0m-6 1h0m2 0h0m3 0h0m-6 1h0m2 0h0m3 0h0m-37 1h0m23 0h0m10 0h0m2 0h0m-9 1h0m4 0h0m6 0h0m-8 1h0m8 0h0m-7 1h0m6 0h0m-6 1h0m2 0h0m6 0h0m4 0h0m-7 1h0m1 0h0m1 0h0m5 0h0m-20 1h0m7 0h0m1 0h0m10 0h0m-18 1h0m11 0h0m1 0h0m3 0h0m-17 1h0m14 0h0m5 0h0m1 0h0m-14 1h0m9 0h0m8 0h0m-16 1h0m7 0h0m2 0h0m1 0h0m4 0h0m-5 1h0m6 0h0m-3 2h0"/><path stroke="#0c99de" d="M156 74h0m4 0h0m-2 1h0m0 1h0m-2 1h0m7 0h0m-6 2h0m4 0h0m-1 2h0m0 1h0m-4 1h0m-10 1h0m9 0h0m5 0h0m-25 1h0m19 0h0m210 0h0m-213 1h0m1 0h0m9 0h0m-9 1h0m-8 2h0m5 1h0m2 0h0m1 1h0m-2 1h0m8 0h0m50 0h0m-58 1h0m5 0h0m-3 2h0m1 0h0m50 0h0m98 0h0m64 0h0m-218 1h0m3 0h0m141 0h0m71 0h0m-216 1h0m8 1h0m5 0h0m64 0h0m76 0h0m63 0h0m1 0h0m-219 1h0m60 0h0m7 0h0m72 0h0m11 0h0m6 0h0m2 0h0m62 0h0m-159 1h0m23 0h0m55 0h0m3 0h0m11 0h0m-154 1h0m64 0h0m14 0h0m3 0h0m4 0h0m134 0h0m-220 1h0m1 0h0m69 0h0m90 0h0m-21 1h0m9 0h0m7 0h0m-163 1h0m10 0h0m61 0h0m6 0h0m7 0h0m8 0h0m126 0h0m4 0h0m-143 1h0m46 0h0m1 0h0m27 0h0m-154 1h0m12 0h0m60 0h0m4 0h0m6 0h0m9 0h0m35 0h0m2 0h0m2 0h0m27 0h0m67 0h0m-149 1h0m7 0h0m3 0h0m37 0h0m8 0h0m92 0h0m57 0h0m10 0h0m-213 1h0m6 0h0m1 0h0m4 0h0m6 0h0m30 0h0m1 0h0m3 0h0m28 0h0m70 0h0m53 0h0m-208 1h0m4 0h0m7 0h0m2 0h0m10 0h0m93 0h0m5 0h0m27 0h0m79 0h0m-221 1h0m6 0h0m3 0h0m1 0h0m75 0h0m17 0h0m42 0h0m55 0h0m27 0h0m-292 1h0m1 0h0m82 0h0m32 0h0m3 0h0m20 0h0m5 0h0m5 0h0m24 0h0m9 0h0m28 0h0m-218 1h0m70 0h0m5 0h0m13 0h0m37 0h0m3 0h0m2 0h0m17 0h0m2 0h0m70 0h0m65 0h0m10 0h0m7 0h0m-296 1h0m10 0h0m54 0h0m79 0h0m1 0h0m43 0h0m36 0h0m46 0h0m6 0h0m5 0h0m-270 1h0m56 0h0m7 0h0m2 0h0m43 0h0m2 0h0m3 0h0m19 0h0m20 0h0m4 0h0m8 0h0m112 0h0m2 0h0m1 0h0m-214 1h0m43 0h0m1 0h0m31 0h0m12 0h0m1 0h0m31 0h0m19 0h0m57 0h0m11 0h0m4 0h0m1 0h0m4 0h0m-227 1h0m2 0h0m3 0h0m53 0h0m13 0h0m11 0h0m31 0h0m7 0h0m25 0h0m2 0h0m-216 1h0m76 0h0m3 0h0m2 0h0m61 0h0m14 0h0m48 0h0m78 0h0m6 0h0m12 0h0m-299 1h0m3 0h0m125 0h0m5 0h0m18 0h0m2 0h0m42 0h0m78 0h0m7 0h0m13 0h0m4 0h0m3 0h0m-234 1h0m6 0h0m3 0h0m3 0h0m50 0h0m6 0h0m5 0h0m7 0h0m41 0h0m15 0h0m75 0h0m3 0h0m3 0h0m9 0h0m1 0h0m3 0h0m-293 1h0m86 0h0m25 0h0m14 0h0m5 0h0m5 0h0m46 0h0m15 0h0m15 0h0m85 0h0m-300 1h0m71 0h0m7 0h0m47 0h0m8 0h0m4 0h0m11 0h0m24 0h0m40 0h0m81 0h0m-289 1h0m1 0h0m72 0h0m52 0h0m10 0h0m5 0h0m15 0h0m16 0h0m42 0h0m13 0h0m34 0h0m15 0h0m4 0h0m11 0h0m5 0h0m-169 1h0m2 0h0m7 0h0m22 0h0m25 0h0m6 0h0m7 0h0m4 0h0m9 0h0m75 0h0m-162 1h0m14 0h0m2 0h0m1 0h0m41 0h0m15 0h0m10 0h0m59 0h0m4 0h0m2 0h0m1 0h0m22 0h0m-295 1h0m3 0h0m133 0h0m5 0h0m3 0h0m2 0h0m52 0h0m5 0h0m65 0h0m1 0h0m3 0h0m1 0h0m7 0h0m18 0h0m-296 1h0m121 0h0m13 0h0m8 0h0m3 0h0m121 0h0m1 0h0m2 0h0m3 0h0m-144 1h0m3 0h0m5 0h0m8 0h0m1 0h0m1 0h0m51 0h0m80 0h0m16 0h0m4 0h0m1 0h0m-311 1h0m3 0h0m4 0h0m75 0h0m53 0h0m20 0h0m48 0h0m12 0h0m14 0h0m49 0h0m2 0h0m2 0h0m13 0h0m14 0h0m-356 1h0m191 0h0m18 0h0m38 0h0m25 0h0m71 0h0m9 0h0m1 0h0m2 0h0m-223 1h0m65 0h0m5 0h0m5 0h0m48 0h0m8 0h0m1 0h0m2 0h0m22 0h0m54 0h0m12 0h0m-164 1h0m12 0h0m37 0h0m14 0h0m97 0h0m6 0h0m-307 1h0m77 0h0m2 0h0m65 0h0m42 0h0m6 0h0m7 0h0m5 0h0m2 0h0m8 0h0m76 0h0m18 0h0m1 0h0m-358 1h0m43 0h0m91 0h0m55 0h0m1 0h0m4 0h0m9 0h0m38 0h0m1 0h0m5 0h0m10 0h0m11 0h0m2 0h0m4 0h0m69 0h0m7 0h0m2 0h0m2 0h0m5 0h0m-368 1h0m25 0h0m32 0h0m81 0h0m65 0h0m10 0h0m3 0h0m1 0h0m115 0h0m10 0h0m7 0h0m1 0h0m3 0h0m-289 1h0m83 0h0m31 0h0m106 0h0m53 0h0m14 0h0m5 0h0m1 0h0m1 0h0m5 0h0m1 0h0m3 0h0m-370 1h0m8 0h0m195 0h0m47 0h0m35 0h0m80 0h0m-157 1h0m5 0h0m1 0h0m37 0h0m85 0h0m12 0h0m17 0h0m-297 1h0m141 0h0m11 0h0m33 0h0m6 0h0m79 0h0m8 0h0m3 0h0m1 0h0m9 0h0m1 0h0m2 0h0m5 0h0m-309 1h0m126 0h0m15 0h0m15 0h0m35 0h0m9 0h0m89 0h0m12 0h0m8 0h0m-366 1h0m9 0h0m14 0h0m13 0h0m35 0h0m120 0h0m12 0h0m44 0h0m6 0h0m3 0h0m8 0h0m87 0h0m10 0h0m2 0h0m-359 1h0m2 0h0m4 0h0m31 0h0m149 0h0m8 0h0m51 0h0m3 0h0m90 0h0m9 0h0m-336 1h0m5 0h0m4 0h0m9 0h0m3 0h0m4 0h0m148 0h0m12 0h0m59 0h0m7 0h0m30 0h0m43 0h0m11 0h0m6 0h0m-321 1h0m141 0h0m32 0h0m56 0h0m8 0h0m78 0h0m9 0h0m3 0h0m-324 1h0m77 0h0m64 0h0m78 0h0m4 0h0m79 0h0m-334 1h0m1 0h0m28 0h0m3 0h0m15 0h0m113 0h0m18 0h0m69 0h0m2 0h0m1 0h0m1 0h0m82 0h0m3 0h0m15 0h0m-334 1h0m9 0h0m1 0h0m3 0h0m76 0h0m4 0h0m20 0h0m24 0h0m21 0h0m24 0h0m21 0h0m22 0h0m2 0h0m1 0h0m11 0h0m2 0h0m66 0h0m9 0h0m4 0h0m10 0h0m3 0h0m4 0h0m-355 1h0m3 0h0m32 0h0m64 0h0m12 0h0m15 0h0m15 0h0m28 0h0m10 0h0m4 0h0m22 0h0m55 0h0m30 0h0m38 0h0m3 0h0m8 0h0m-313 1h0m5 0h0m76 0h0m43 0h0m9 0h0m9 0h0m15 0h0m3 0h0m29 0h0m46 0h0m1 0h0m64 0h0m2 0h0m10 0h0m4 0h0m4 0h0m3 0h0m4 0h0m3 0h0m-339 1h0m10 0h0m15 0h0m7 0h0m53 0h0m3 0h0m4 0h0m44 0h0m1 0h0m14 0h0m29 0h0m130 0h0m7 0h0m13 0h0m-346 1h0m5 0h0m5 0h0m55 0h0m25 0h0m16 0h0m15 0h0m92 0h0m131 0h0m5 0h0m-346 1h0m24 0h0m4 0h0m36 0h0m60 0h0m12 0h0m45 0h0m25 0h0m47 0h0m16 0h0m48 0h0m1 0h0m3 0h0m13 0h0m5 0h0m-338 1h0m23 0h0m1 0h0m2 0h0m11 0h0m70 0h0m2 0h0m11 0h0m33 0h0m90 0h0m11 0h0m62 0h0m1 0h0m13 0h0m9 0h0m-341 1h0m24 0h0m3 0h0m81 0h0m19 0h0m26 0h0m1 0h0m25 0h0m69 0h0m2 0h0m67 0h0m6 0h0m1 0h0m6 0h0m17 0h0m-324 1h0m3 0h0m125 0h0m3 0h0m6 0h0m166 0h0m16 0h0m3 0h0m-326 1h0m3 0h0m3 0h0m2 0h0m68 0h0m51 0h0m2 0h0m8 0h0m6 0h0m15 0h0m155 0h0m6 0h0m2 0h0m5 0h0m-309 1h0m7 0h0m10 0h0m65 0h0m131 0h0m17 0h0m56 0h0m20 0h0m1 0h0m3 0h0m-211 1h0m21 0h0m8 0h0m16 0h0m139 0h0m2 0h0m9 0h0m1 0h0m9 0h0m3 0h0m1 0h0m-327 1h0m2 0h0m68 0h0m65 0h0m3 0h0m2 0h0m159 0h0m20 0h0m3 0h0m-313 1h0m15 0h0m106 0h0m2 0h0m11 0h0m35 0h0m58 0h0m69 0h0m1 0h0m8 0h0m2 0h0m2 0h0m3 0h0m-315 1h0m2 0h0m4 0h0m3 0h0m67 0h0m9 0h0m47 0h0m63 0h0m59 0h0m-249 1h0m11 0h0m134 0h0m5 0h0m14 0h0m3 0h0m144 0h0m-321 1h0m3 0h0m1 0h0m4 0h0m2 0h0m128 0h0m8 0h0m15 0h0m151 0h0m-305 1h0m1 0h0m5 0h0m2 0h0m117 0h0m11 0h0m3 0h0m3 0h0m12 0h0m82 0h0m67 0h0m12 0h0m-322 1h0m2 0h0m6 0h0m7 0h0m56 0h0m14 0h0m5 0h0m50 0h0m6 0h0m15 0h0m8 0h0m141 0h0m5 0h0m5 0h0m-320 1h0m8 0h0m1 0h0m1 0h0m226 0h0m66 0h0m8 0h0m1 0h0m6 0h0m3 0h0m-317 1h0m4 0h0m1 0h0m4 0h0m5 0h0m122 0h0m66 0h0m93 0h0m3 0h0m9 0h0m6 0h0m5 0h0m-303 1h0m1 0h0m16 0h0m103 0h0m38 0h0m9 0h0m4 0h0m125 0h0m5 0h0m-305 1h0m6 0h0m118 0h0m53 0h0m105 0h0m-285 1h0m68 0h0m94 0h0m16 0h0m2 0h0m124 0h0m2 0h0m-183 1h0m36 0h0m8 0h0m9 0h0m128 0h0m1 0h0m-190 1h0m33 0h0m135 0h0m1 0h0m-279 1h0m6 0h0m112 0h0m33 0h0m2 0h0m134 0h0m7 0h0m6 0h0m-180 1h0m47 0h0m6 0h0m6 0h0m100 0h0m8 0h0m8 0h0m-230 1h0m91 0h0m16 0h0m113 0h0m7 0h0m-289 1h0m113 0h0m4 0h0m18 0h0m2 0h0m123 0h0m21 0h0m12 0h0m-297 1h0m125 0h0m1 0h0m8 0h0m10 0h0m6 0h0m20 0h0m9 0h0m104 0h0m7 0h0m1 0h0m-146 1h0m2 0h0m27 0h0m100 0h0m20 0h0m-168 1h0m25 0h0m1 0h0m17 0h0m1 0h0m100 0h0m9 0h0m5 0h0m8 0h0m1 0h0m3 0h0m-176 1h0m29 0h0m19 0h0m9 0h0m2 0h0m101 0h0m4 0h0m5 0h0m-162 1h0m23 0h0m28 0h0m-58 1h0m52 0h0m3 0h0m108 0h0m10 0h0m-136 1h0m118 0h0m3 0h0m15 0h0m-166 1h0m5 0h0m10 0h0m9 0h0m5 0h0m126 0h0m-161 1h0m24 0h0m2 0h0m13 0h0m3 0h0m8 0h0m7 0h0m107 0h0m2 0h0m-16 1h0m3 0h0m11 0h0m3 0h0m2 0h0m-22 1h0m21 0h0m-126 1h0m13 0h0m88 0h0m5 0h0m21 0h0m-121 1h0m1 0h0m94 0h0m16 0h0m2 0h0m4 0h0m-108 1h0m88 0h0m4 0h0m4 0h0m5 0h0m-122 1h0m11 0h0m100 0h0m13 0h0m3 0h0m2 0h0m1 0h0m-158 1h0m5 0h0m2 0h0m33 0h0m3 0h0m107 0h0m1 0h0m1 0h0m-120 1h0m4 0h0m11 0h0m93 0h0m4 0h0m-102 1h0m2 0h0m2 0h0m93 0h0m3 0h0m4 0h0m-120 1h0m124 0h0m2 0h0m2 0h0m-16 1h0m9 0h0m1 0h0m4 0h0m-168 1h0m59 0h0m2 0h0m3 0h0m92 0h0m8 0h0m1 0h0m2 0h0m1 0h0m1 0h0m-109 1h0m92 0h0m15 0h0m-13 1h0m5 0h0m3 0h0m4 0h0m2 0h0m-154 1h0m151 0h0m3 0h0m-110 1h0m87 0h0m18 0h0m2 0h0m-16 1h0m13 1h0m4 0h0m-20 1h0m14 0h0m-16 1h0m15 0h0m3 0h0m-19 1h0m1 0h0m12 0h0m1 0h0m-16 1h0m12 0h0m2 0h0m5 0h0m-16 1h0m1 0h0m5 1h0m-9 1h0m2 0h0m14 0h0m-15 1h0m18 0h0m-15 1h0m15 0h0m-45 1h0m29 0h0m7 0h0m4 0h0m1 0h0m-9 1h0m3 0h0m2 0h0m-4 1h0m1 0h0m1 0h0m6 0h0m-2 1h0m5 0h0m2 0h0m-25 1h0m16 0h0m4 0h0m4 0h0m-10 1h0m6 0h0m6 0h0m-3 1h0m-8 1h0m3 0h0m6 0h0m1 0h0m-5 1h0m7 0h0m-7 2h0m5 0h0"/><path stroke="#0ba2d8" d="M159 68h0m-4 6h0m6 1h0m-1 1h0m-16 1h0m13 0h0m1 1h0m1 0h0m2 0h0m-1 2h0m-12 1h0m9 1h0m-3 1h0m5 0h0m1 0h0m-11 3h0m-3 1h0m4 0h0m214 0h0m-214 1h0m4 0h0m208 0h0m-214 1h0m1 0h0m214 0h0m-213 1h0m3 0h0m0 1h0m54 0h0m90 0h0m-93 1h0m91 0h0m1 0h0m-93 1h0m5 0h0m77 0h0m74 0h0m-209 1h0m70 0h0m6 0h0m71 0h0m-146 1h0m58 0h0m-6 1h0m1 0h0m14 0h0m76 0h0m3 0h0m1 0h0m60 0h0m-209 1h0m1 0h0m57 0h0m3 0h0m80 0h0m7 0h0m-157 1h0m64 0h0m6 0h0m9 0h0m71 0h0m2 0h0m66 0h0m-223 1h0m70 0h0m2 0h0m3 0h0m17 0h0m53 0h0m73 0h0m3 0h0m-222 1h0m8 0h0m1 0h0m1 0h0m70 0h0m7 0h0m3 0h0m3 0h0m57 0h0m7 0h0m2 0h0m5 0h0m54 0h0m-135 1h0m1 0h0m2 0h0m16 0h0m56 0h0m7 0h0m59 0h0m-155 1h0m7 0h0m69 0h0m8 0h0m-148 1h0m7 0h0m57 0h0m12 0h0m6 0h0m77 0h0m-91 1h0m3 0h0m15 0h0m64 0h0m-154 1h0m70 0h0m1 0h0m10 0h0m3 0h0m44 0h0m19 0h0m133 0h0m2 0h0m10 0h0m-300 1h0m11 0h0m81 0h0m41 0h0m95 0h0m54 0h0m-272 1h0m3 0h0m21 0h0m45 0h0m7 0h0m3 0h0m12 0h0m46 0h0m5 0h0m2 0h0m129 0h0m15 0h0m-289 1h0m4 0h0m1 0h0m268 0h0m7 0h0m-283 1h0m79 0h0m44 0h0m1 0h0m24 0h0m45 0h0m20 0h0m-146 1h0m23 0h0m77 0h0m24 0h0m34 0h0m-151 1h0m75 0h0m1 0h0m66 0h0m65 0h0m17 0h0m-298 1h0m70 0h0m4 0h0m80 0h0m137 0h0m-212 1h0m56 0h0m4 0h0m5 0h0m15 0h0m57 0h0m64 0h0m-281 1h0m81 0h0m50 0h0m10 0h0m7 0h0m4 0h0m61 0h0m64 0h0m12 0h0m-208 1h0m46 0h0m7 0h0m3 0h0m76 0h0m5 0h0m4 0h0m58 0h0m7 0h0m-286 1h0m4 0h0m74 0h0m53 0h0m4 0h0m74 0h0m70 0h0m-278 1h0m1 0h0m128 0h0m81 0h0m3 0h0m5 0h0m65 0h0m12 0h0m-231 1h0m63 0h0m7 0h0m69 0h0m9 0h0m66 0h0m4 0h0m6 0h0m4 0h0m-223 1h0m5 0h0m6 0h0m37 0h0m24 0h0m3 0h0m126 0h0m11 0h0m-279 1h0m68 0h0m1 0h0m2 0h0m81 0h0m47 0h0m70 0h0m4 0h0m12 0h0m-283 1h0m65 0h0m6 0h0m59 0h0m8 0h0m6 0h0m66 0h0m82 0h0m-299 1h0m140 0h0m59 0h0m69 0h0m11 0h0m3 0h0m16 0h0m-289 1h0m119 0h0m12 0h0m82 0h0m56 0h0m22 0h0m-166 1h0m6 0h0m52 0h0m9 0h0m6 0h0m64 0h0m7 0h0m6 0h0m12 0h0m-291 1h0m97 0h0m43 0h0m3 0h0m44 0h0m39 0h0m49 0h0m16 0h0m-288 1h0m53 0h0m82 0h0m132 0h0m7 0h0m8 0h0m14 0h0m1 0h0m-229 1h0m69 0h0m1 0h0m55 0h0m7 0h0m64 0h0m14 0h0m1 0h0m-154 1h0m11 0h0m1 0h0m55 0h0m31 0h0m61 0h0m1 0h0m-347 1h0m9 0h0m36 0h0m15 0h0m126 0h0m1 0h0m4 0h0m6 0h0m43 0h0m13 0h0m70 0h0m3 0h0m9 0h0m2 0h0m6 0h0m-335 1h0m5 0h0m1 0h0m35 0h0m9 0h0m134 0h0m3 0h0m43 0h0m104 0h0m3 0h0m-299 1h0m4 0h0m140 0h0m7 0h0m2 0h0m37 0h0m28 0h0m75 0h0m2 0h0m-331 1h0m34 0h0m10 0h0m76 0h0m65 0h0m46 0h0m17 0h0m86 0h0m-335 1h0m37 0h0m5 0h0m141 0h0m45 0h0m13 0h0m1 0h0m87 0h0m-350 1h0m14 0h0m90 0h0m104 0h0m43 0h0m99 0h0m-352 1h0m4 0h0m20 0h0m13 0h0m6 0h0m21 0h0m146 0h0m56 0h0m83 0h0m-346 1h0m33 0h0m113 0h0m196 0h0m10 0h0m1 0h0m5 0h0m4 0h0m-330 1h0m169 0h0m6 0h0m44 0h0m4 0h0m80 0h0m29 0h0m-343 1h0m7 0h0m187 0h0m1 0h0m3 0h0m37 0h0m-235 1h0m3 0h0m31 0h0m52 0h0m77 0h0m-159 1h0m24 0h0m285 0h0m15 0h0m-348 1h0m18 0h0m1 0h0m15 0h0m2 0h0m6 0h0m166 0h0m36 0h0m1 0h0m83 0h0m19 0h0m3 0h0m3 0h0m-330 1h0m151 0h0m21 0h0m23 0h0m25 0h0m18 0h0m22 0h0m55 0h0m3 0h0m-339 1h0m4 0h0m26 0h0m15 0h0m61 0h0m3 0h0m64 0h0m8 0h0m20 0h0m50 0h0m8 0h0m4 0h0m66 0h0m3 0h0m-315 1h0m1 0h0m11 0h0m74 0h0m5 0h0m54 0h0m8 0h0m2 0h0m165 0h0m1 0h0m5 0h0m2 0h0m-309 1h0m1 0h0m140 0h0m69 0h0m11 0h0m2 0h0m11 0h0m58 0h0m9 0h0m3 0h0m3 0h0m1 0h0m12 0h0m-336 1h0m1 0h0m84 0h0m2 0h0m99 0h0m55 0h0m90 0h0m-344 1h0m3 0h0m1 0h0m4 0h0m6 0h0m2 0h0m24 0h0m25 0h0m27 0h0m66 0h0m17 0h0m62 0h0m15 0h0m76 0h0m-333 1h0m22 0h0m6 0h0m66 0h0m81 0h0m76 0h0m82 0h0m-330 1h0m1 0h0m23 0h0m2 0h0m76 0h0m59 0h0m77 0h0m94 0h0m-333 1h0m5 0h0m2 0h0m14 0h0m5 0h0m70 0h0m29 0h0m31 0h0m89 0h0m24 0h0m51 0h0m-293 1h0m68 0h0m1 0h0m7 0h0m13 0h0m43 0h0m13 0h0m3 0h0m30 0h0m121 0h0m-307 1h0m1 0h0m59 0h0m25 0h0m12 0h0m40 0h0m1 0h0m5 0h0m165 0h0m-324 1h0m2 0h0m25 0h0m49 0h0m15 0h0m64 0h0m95 0h0m81 0h0m5 0h0m-332 1h0m21 0h0m18 0h0m33 0h0m1 0h0m44 0h0m79 0h0m117 0h0m14 0h0m7 0h0m2 0h0m-330 1h0m15 0h0m85 0h0m14 0h0m56 0h0m18 0h0m53 0h0m73 0h0m-303 1h0m5 0h0m1 0h0m14 0h0m39 0h0m11 0h0m74 0h0m106 0h0m46 0h0m-305 1h0m16 0h0m116 0h0m1 0h0m2 0h0m111 0h0m56 0h0m3 0h0m4 0h0m9 0h0m2 0h0m-324 1h0m16 0h0m2 0h0m53 0h0m80 0h0m44 0h0m118 0h0m8 0h0m-305 1h0m2 0h0m54 0h0m79 0h0m24 0h0m10 0h0m17 0h0m-195 1h0m82 0h0m60 0h0m3 0h0m1 0h0m27 0h0m16 0h0m56 0h0m60 0h0m8 0h0m-314 1h0m8 0h0m138 0h0m24 0h0m1 0h0m8 0h0m123 0h0m-294 1h0m126 0h0m33 0h0m14 0h0m118 0h0m4 0h0m-298 1h0m134 0h0m28 0h0m18 0h0m120 0h0m-297 1h0m57 0h0m5 0h0m229 0h0m1 0h0m-300 1h0m4 0h0m149 0h0m18 0h0m3 0h0m2 0h0m11 0h0m115 0h0m15 0h0m5 0h0m-186 1h0m45 0h0m11 0h0m50 0h0m-221 1h0m147 0h0m14 0h0m121 0h0m-291 1h0m5 0h0m121 0h0m4 0h0m23 0h0m10 0h0m120 0h0m-287 1h0m20 0h0m110 0h0m5 0h0m29 0h0m122 0h0m11 0h0m-297 1h0m120 0h0m14 0h0m41 0h0m2 0h0m2 0h0m-178 1h0m134 0h0m26 0h0m14 0h0m110 0h0m6 0h0m-280 1h0m113 0h0m7 0h0m24 0h0m1 0h0m26 0h0m108 0h0m-275 1h0m126 0h0m20 0h0m2 0h0m6 0h0m11 0h0m103 0h0m-119 1h0m2 0h0m1 0h0m132 0h0m-126 1h0m6 0h0m1 0h0m2 0h0m4 0h0m97 0h0m2 0h0m52 0h0m-207 1h0m27 0h0m6 0h0m9 0h0m44 0h0m-82 1h0m24 0h0m4 0h0m8 0h0m9 0h0m4 0h0m-25 1h0m9 0h0m21 0h0m94 0h0m16 0h0m-131 1h0m111 0h0m-151 1h0m4 0h0m3 0h0m39 0h0m4 0h0m6 0h0m106 0h0m5 0h0m-132 1h0m117 0h0m1 0h0m-110 1h0m11 0h0m4 0h0m-14 1h0m3 0h0m2 0h0m10 0h0m106 0h0m-158 1h0m50 0h0m100 0h0m-154 1h0m32 0h0m118 0h0m15 0h0m-129 1h0m6 0h0m124 0h0m-131 1h0m10 0h0m7 0h0m92 0h0m-135 1h0m20 0h0m11 0h0m4 0h0m8 0h0m111 0h0m-135 1h0m8 0h0m106 0h0m12 0h0m-124 1h0m1 1h0m1 0h0m2 0h0m111 0h0m-92 1h0m95 0h0m-156 2h0m155 0h0m1 0h0m3 0h0m12 0h0m-134 1h0m1 0h0m28 2h0m89 0h0m-92 2h0m83 0h0m-4 1h0m12 0h0m-100 1h0m89 0h0m3 0h0m-2 1h0m4 1h0m15 0h0m-11 2h0m-6 1h0m-7 2h0m2 0h0m10 0h0m-2 1h0m-12 1h0m4 1h0m7 1h0m-6 1h0m2 0h0m11 0h0m4 0h0m-16 1h0m16 0h0m-13 2h0m12 0h0m-6 1h0m8 0h0m-16 1h0m8 0h0m3 0h0m-12 1h0m4 0h0"/><path stroke="#0da9cc" d="M157 61h0m5 0h0m-4 2h0m-5 5h0m7 1h0m-4 3h0m4 0h0m-19 1h0m21 0h0m0 1h0m-19 3h0m12 0h0m6 0h0m-2 2h0m-8 1h0m10 0h0m1 0h0m-12 1h0m75 1h0m-76 1h0m1 0h0m1 0h0m2 0h0m-14 1h0m9 0h0m3 0h0m8 0h0m66 0h0m-77 1h0m8 0h0m67 0h0m-75 1h0m1 2h0m55 0h0m160 0h0m-213 1h0m60 0h0m11 0h0m1 0h0m79 0h0m-74 1h0m132 0h0m-216 1h0m59 0h0m10 0h0m-78 1h0m83 0h0m68 0h0m-81 1h0m5 0h0m18 0h0m59 0h0m15 0h0m-98 1h0m156 0h0m2 0h0m1 0h0m1 0h0m-226 1h0m9 0h0m59 0h0m2 0h0m17 0h0m-97 1h0m25 0h0m57 0h0m16 0h0m-88 1h0m6 0h0m149 0h0m-165 1h0m3 0h0m75 0h0m8 0h0m1 0h0m69 0h0m2 0h0m67 0h0m6 0h0m-230 1h0m84 0h0m10 0h0m1 0h0m-91 1h0m79 0h0m8 0h0m5 0h0m131 0h0m3 0h0m-226 1h0m7 0h0m58 0h0m154 0h0m-224 1h0m9 0h0m7 0h0m60 0h0m2 0h0m75 0h0m5 0h0m-77 1h0m7 0h0m4 0h0m4 0h0m65 0h0m68 0h0m-226 1h0m8 0h0m1 0h0m61 0h0m2 0h0m1 0h0m13 0h0m2 0h0m72 0h0m64 0h0m-219 1h0m10 0h0m66 0h0m3 0h0m42 0h0m5 0h0m8 0h0m15 0h0m71 0h0m2 0h0m-211 1h0m57 0h0m77 0h0m132 0h0m11 0h0m-288 1h0m69 0h0m7 0h0m45 0h0m154 0h0m-278 1h0m5 0h0m79 0h0m47 0h0m16 0h0m130 0h0m4 0h0m5 0h0m-293 1h0m79 0h0m6 0h0m209 0h0m-287 1h0m1 0h0m69 0h0m5 0h0m54 0h0m148 0h0m-282 1h0m3 0h0m82 0h0m210 0h0m12 0h0m-310 1h0m83 0h0m4 0h0m2 0h0m55 0h0m137 0h0m11 0h0m2 0h0m-284 1h0m70 0h0m9 0h0m52 0h0m3 0h0m18 0h0m27 0h0m33 0h0m73 0h0m-285 1h0m132 0h0m59 0h0m-198 1h0m3 0h0m72 0h0m7 0h0m21 0h0m41 0h0m6 0h0m40 0h0m29 0h0m2 0h0m-215 1h0m76 0h0m11 0h0m51 0h0m6 0h0m4 0h0m29 0h0m35 0h0m73 0h0m1 0h0m-293 1h0m71 0h0m7 0h0m65 0h0m8 0h0m2 0h0m66 0h0m2 0h0m57 0h0m11 0h0m7 0h0m1 0h0m-292 1h0m1 0h0m3 0h0m3 0h0m67 0h0m2 0h0m1 0h0m2 0h0m2 0h0m59 0h0m47 0h0m28 0h0m61 0h0m12 0h0m-216 1h0m3 0h0m54 0h0m10 0h0m12 0h0m1 0h0m128 0h0m6 0h0m-280 1h0m70 0h0m107 0h0m102 0h0m2 0h0m4 0h0m-287 1h0m71 0h0m62 0h0m4 0h0m5 0h0m60 0h0m9 0h0m59 0h0m1 0h0m7 0h0m3 0h0m5 0h0m-290 1h0m7 0h0m63 0h0m1 0h0m4 0h0m35 0h0m3 0h0m30 0h0m65 0h0m4 0h0m62 0h0m8 0h0m1 0h0m3 0h0m5 0h0m-287 1h0m131 0h0m3 0h0m7 0h0m5 0h0m129 0h0m4 0h0m8 0h0m1 0h0m2 0h0m-304 1h0m16 0h0m1 0h0m125 0h0m3 0h0m6 0h0m16 0h0m119 0h0m6 0h0m-289 1h0m73 0h0m9 0h0m61 0h0m73 0h0m2 0h0m73 0h0m5 0h0m-295 1h0m14 0h0m75 0h0m49 0h0m3 0h0m6 0h0m4 0h0m3 0h0m3 0h0m27 0h0m27 0h0m4 0h0m4 0h0m64 0h0m-83 1h0m96 0h0m-344 1h0m55 0h0m3 0h0m141 0h0m127 0h0m4 0h0m2 0h0m12 0h0m-356 1h0m9 0h0m49 0h0m7 0h0m122 0h0m12 0h0m1 0h0m141 0h0m-286 1h0m3 0h0m158 0h0m55 0h0m-248 1h0m42 0h0m67 0h0m42 0h0m74 0h0m4 0h0m99 0h0m-353 1h0m25 0h0m2 0h0m174 0h0m139 0h0m9 0h0m1 0h0m2 0h0m-220 1h0m47 0h0m154 0h0m23 0h0m-349 1h0m17 0h0m111 0h0m69 0h0m67 0h0m88 0h0m-340 1h0m14 0h0m181 0h0m122 0h0m5 0h0m5 0h0m5 0h0m2 0h0m4 0h0m-352 1h0m21 0h0m36 0h0m271 0h0m12 0h0m1 0h0m6 0h0m-349 1h0m4 0h0m12 0h0m6 0h0m109 0h0m212 0h0m9 0h0m-348 1h0m20 0h0m79 0h0m231 0h0m19 0h0m-356 1h0m25 0h0m313 0h0m12 0h0m1 0h0m-328 1h0m19 0h0m12 0h0m48 0h0m12 0h0m34 0h0m23 0h0m167 0h0m6 0h0m-316 1h0m5 0h0m10 0h0m64 0h0m2 0h0m6 0h0m1 0h0m12 0h0m4 0h0m1 0h0m207 0h0m6 0h0m-341 1h0m19 0h0m30 0h0m63 0h0m15 0h0m39 0h0m16 0h0m63 0h0m7 0h0m2 0h0m9 0h0m-257 1h0m10 0h0m5 0h0m15 0h0m98 0h0m69 0h0m59 0h0m76 0h0m4 0h0m2 0h0m-344 1h0m8 0h0m98 0h0m53 0h0m6 0h0m-167 1h0m31 0h0m17 0h0m284 0h0m19 0h0m-310 1h0m101 0h0m28 0h0m18 0h0m150 0h0m-322 1h0m6 0h0m10 0h0m303 0h0m-330 1h0m12 0h0m16 0h0m69 0h0m-93 1h0m4 0h0m85 0h0m16 0h0m6 0h0m6 0h0m36 0h0m-146 1h0m8 0h0m10 0h0m37 0h0m7 0h0m83 0h0m102 0h0m71 0h0m2 0h0m7 0h0m-322 1h0m3 0h0m4 0h0m8 0h0m68 0h0m231 0h0m-318 1h0m1 0h0m11 0h0m61 0h0m9 0h0m56 0h0m173 0h0m-296 1h0m3 0h0m44 0h0m46 0h0m2 0h0m31 0h0m174 0h0m6 0h0m-180 1h0m93 0h0m83 0h0m-299 1h0m1 0h0m85 0h0m38 0h0m1 0h0m7 0h0m-133 1h0m53 0h0m78 0h0m6 0h0m158 0h0m7 0h0m2 0h0m-327 1h0m2 0h0m15 0h0m2 0h0m2 0h0m2 0h0m121 0h0m169 0h0m-297 1h0m4 0h0m60 0h0m73 0h0m3 0h0m17 0h0m149 0h0m-146 1h0m9 0h0m8 0h0m-79 1h0m62 0h0m15 0h0m118 0h0m3 0h0m4 0h0m6 0h0m-312 1h0m14 0h0m169 0h0m125 0h0m-293 1h0m293 0h0m1 0h0m2 0h0m-146 1h0m24 0h0m-118 1h0m95 0h0m18 0h0m-166 1h0m151 0h0m17 0h0m1 0h0m-42 1h0m24 0h0m3 0h0m4 0h0m9 0h0m4 0h0m2 0h0m108 0h0m9 0h0m-292 1h0m131 0h0m21 0h0m5 0h0m2 0h0m10 0h0m-16 1h0m7 0h0m9 0h0m115 0h0m1 0h0m1 0h0m7 0h0m-130 1h0m119 0h0m1 0h0m6 0h0m-164 1h0m35 1h0m8 0h0m3 0h0m5 0h0m108 0h0m-278 1h0m157 0h0m7 0h0m119 0h0m-169 1h0m5 0h0m50 0h0m100 0h0m6 0h0m-153 1h0m28 0h0m1 0h0m15 0h0m110 0h0m12 0h0m-172 1h0m2 0h0m37 0h0m16 0h0m107 0h0m-113 1h0m-53 1h0m161 0h0m-6 1h0m-146 1h0m1 0h0m44 0h0m104 0h0m-120 1h0m14 0h0m6 0h0m120 0h0m-176 1h0m7 0h0m21 0h0m128 0h0m-111 1h0m118 0h0m-131 1h0m23 0h0m97 0h0m3 0h0m7 0h0m-125 1h0m14 0h0m108 0h0m-122 1h0m1 0h0m3 1h0m2 0h0m6 0h0m7 0h0m106 0h0m-134 1h0m14 0h0m107 0h0m-2 1h0m3 0h0m-113 1h0m112 0h0m8 0h0m11 0h0m-114 1h0m101 0h0m2 0h0m-13 1h0m15 0h0m-104 1h0m-30 1h0m21 2h0m97 0h0m13 1h0m-125 1h0m116 1h0m-133 2h0m135 0h0m-9 1h0m9 0h0m-2 1h0m1 0h0m8 0h0m-7 5h0m-13 1h0m8 2h0m0 1h0m-8 3h0m21 0h0m-17 2h0m6 4h0"/><path stroke="#10afc1" d="M160 58h0m-2 3h0m-3 3h0m4 3h0m1 0h0m-2 1h0m5 1h0m-4 1h0m2 0h0m-7 1h0m-12 2h0m12 0h0m2 0h0m3 0h0m-4 2h0m-11 1h0m11 0h0m7 0h0m-16 2h0m16 0h0m-20 1h0m1 0h0m5 0h0m80 0h0m-86 2h0m7 0h0m-4 1h0m4 0h0m-8 1h0m2 0h0m2 1h0m81 1h0m-81 1h0m69 0h0m12 0h0m-79 1h0m6 0h0m59 1h0m4 0h0m77 0h0m4 0h0m-155 1h0m82 0h0m-90 1h0m9 0h0m78 0h0m6 0h0m62 0h0m5 0h0m65 0h0m3 0h0m1 0h0m-155 1h0m90 0h0m64 0h0m2 0h0m-232 1h0m11 0h0m1 0h0m139 0h0m17 0h0m-157 1h0m141 0h0m74 0h0m2 0h0m-232 1h0m1 0h0m13 0h0m2 0h0m59 0h0m5 0h0m17 0h0m57 0h0m77 0h0m-227 1h0m5 0h0m80 0h0m4 0h0m6 0h0m56 0h0m3 0h0m3 0h0m5 0h0m2 0h0m-166 1h0m7 0h0m7 0h0m64 0h0m3 0h0m5 0h0m5 0h0m7 0h0m52 0h0m2 0h0m20 0h0m-170 1h0m9 0h0m1 0h0m70 0h0m11 0h0m61 0h0m1 0h0m1 0h0m2 0h0m3 0h0m3 0h0m65 0h0m2 0h0m-220 1h0m59 0h0m18 0h0m79 0h0m6 0h0m53 0h0m-220 1h0m64 0h0m1 0h0m15 0h0m68 0h0m7 0h0m66 0h0m1 0h0m-159 1h0m1 0h0m9 0h0m2 0h0m5 0h0m1 0h0m62 0h0m79 0h0m-229 1h0m7 0h0m6 0h0m72 0h0m69 0h0m2 0h0m5 0h0m67 0h0m-224 1h0m1 0h0m5 0h0m70 0h0m4 0h0m3 0h0m2 0h0m66 0h0m69 0h0m1 0h0m1 0h0m-227 1h0m72 0h0m5 0h0m1 0h0m6 0h0m139 0h0m2 0h0m-156 1h0m1 0h0m4 0h0m79 0h0m2 0h0m-84 1h0m11 0h0m143 0h0m-156 1h0m5 0h0m83 0h0m64 0h0m-148 1h0m9 0h0m60 0h0m82 0h0m-215 1h0m69 0h0m81 0h0m46 0h0m16 0h0m3 0h0m60 0h0m1 0h0m-285 1h0m82 0h0m-12 1h0m1 0h0m3 0h0m2 0h0m6 0h0m65 0h0m70 0h0m-213 1h0m69 0h0m5 0h0m58 0h0m6 0h0m2 0h0m-132 1h0m62 0h0m63 0h0m84 0h0m73 0h0m-222 1h0m13 0h0m3 0h0m62 0h0m63 0h0m-214 1h0m1 0h0m1 0h0m73 0h0m62 0h0m10 0h0m1 0h0m132 0h0m11 0h0m-292 1h0m145 0h0m10 0h0m130 0h0m-145 1h0m4 0h0m5 0h0m66 0h0m-211 1h0m74 0h0m62 0h0m3 0h0m140 0h0m4 0h0m6 0h0m-290 1h0m75 0h0m42 0h0m18 0h0m5 0h0m5 0h0m70 0h0m-77 1h0m5 0h0m5 0h0m39 0h0m27 0h0m-216 1h0m5 0h0m2 0h0m65 0h0m67 0h0m10 0h0m-147 1h0m72 0h0m66 0h0m8 0h0m67 0h0m1 0h0m70 0h0m6 0h0m-291 2h0m210 0h0m2 0h0m3 0h0m63 0h0m-272 1h0m136 0h0m133 0h0m9 0h0m-206 1h0m59 0h0m155 0h0m-151 1h0m145 0h0m5 0h0m-339 1h0m2 0h0m47 0h0m209 0h0m4 0h0m65 0h0m8 0h0m6 0h0m-345 1h0m117 0h0m144 0h0m2 0h0m75 0h0m-343 1h0m55 0h0m2 0h0m208 0h0m3 0h0m69 0h0m8 0h0m-293 1h0m70 0h0m5 0h0m121 0h0m-239 1h0m3 0h0m-12 1h0m125 0h0m117 0h0m109 0h0m1 0h0m-359 1h0m7 0h0m17 0h0m321 0h0m1 0h0m1 0h0m-325 1h0m1 0h0m24 0h0m9 0h0m1 0h0m2 0h0m123 0h0m75 0h0m79 0h0m5 0h0m9 0h0m-348 1h0m6 0h0m26 0h0m96 0h0m120 0h0m95 0h0m-281 1h0m71 0h0m202 0h0m-321 1h0m11 0h0m15 0h0m5 0h0m83 0h0m215 0h0m-334 1h0m8 0h0m13 0h0m6 0h0m305 0h0m-319 1h0m4 0h0m303 0h0m-327 1h0m4 0h0m9 0h0m1 0h0m11 0h0m2 0h0m1 0h0m309 0h0m-305 1h0m68 0h0m6 0h0m9 0h0m15 0h0m-130 1h0m2 0h0m29 0h0m5 0h0m67 0h0m243 0h0m-330 1h0m12 0h0m7 0h0m134 0h0m90 0h0m81 0h0m-332 1h0m13 0h0m6 0h0m83 0h0m5 0h0m10 0h0m5 0h0m199 0h0m1 0h0m-318 1h0m7 0h0m2 0h0m86 0h0m18 0h0m4 0h0m46 0h0m87 0h0m68 0h0m5 0h0m-330 1h0m32 0h0m73 0h0m14 0h0m-121 1h0m154 0h0m168 0h0m2 0h0m-217 1h0m15 0h0m33 0h0m21 0h0m-175 1h0m23 0h0m100 0h0m21 0h0m16 0h0m-2 1h0m169 0h0m-326 1h0m21 0h0m3 0h0m67 0h0m21 0h0m37 0h0m174 0h0m11 0h0m-326 1h0m151 0h0m4 0h0m161 0h0m-296 1h0m132 0h0m1 0h0m2 0h0m158 0h0m15 0h0m-312 1h0m5 0h0m69 0h0m51 0h0m4 0h0m6 0h0m159 0h0m3 0h0m-309 1h0m3 0h0m17 0h0m94 0h0m23 0h0m1 0h0m10 0h0m161 0h0m14 0h0m-173 1h0m-130 1h0m122 0h0m6 0h0m-148 1h0m3 0h0m13 0h0m88 0h0m47 0h0m10 0h0m29 0h0m6 0h0m-69 1h0m13 0h0m12 0h0m28 0h0m5 0h0m5 0h0m117 0h0m-302 1h0m182 0h0m4 0h0m3 0h0m-175 1h0m150 0h0m5 0h0m3 0h0m17 0h0m108 0h0m11 0h0m-309 1h0m78 0h0m86 0h0m1 0h0m8 0h0m1 0h0m12 0h0m5 0h0m-170 1h0m144 0h0m132 0h0m6 0h0m-282 1h0m148 0h0m4 0h0m2 0h0m-10 1h0m2 0h0m17 0h0m-14 1h0m3 0h0m1 0h0m3 0h0m4 0h0m4 0h0m111 0h0m8 0h0m-129 1h0m-6 1h0m1 0h0m-162 1h0m138 0h0m23 0h0m16 0h0m-40 1h0m20 0h0m4 0h0m125 0h0m5 0h0m-290 1h0m162 0h0m9 0h0m7 0h0m1 0h0m118 0h0m-8 1h0m4 0h0m-144 1h0m15 0h0m1 0h0m14 0h0m4 0h0m103 0h0m-129 1h0m2 0h0m1 0h0m123 0h0m-159 1h0m36 0h0m122 0h0m-127 1h0m5 0h0m124 0h0m6 0h0m-109 1h0m107 0h0m-131 1h0m27 0h0m-52 1h0m154 0h0m-111 2h0m10 0h0m-2 1h0m95 0h0m7 3h0m-106 1h0m-13 1h0m6 2h0m8 0h0m96 0h0m1 0h0m-5 1h0m4 1h0m5 0h0m-116 1h0m110 0h0m-106 1h0m16 0h0m95 1h0m-6 2h0m1 3h0m-4 3h0m6 0h0m-3 2h0m1 0h0m-3 1h0m-1 2h0m1 0h0m-4 2h0m-4 1h0m5 5h0m-4 2h0"/><path stroke="#13b5b5" d="M156 59h0m-1 1h0m2 0h0m-1 1h0m3 1h0m-2 2h0m1 2h0m5 0h0m-9 1h0m2 0h0m5 0h0m1 0h0m-5 1h0m3 0h0m-6 1h0m-5 2h0m11 2h0m-15 1h0m-3 1h0m3 1h0m6 0h0m76 0h0m-3 1h0m3 0h0m2 0h0m-88 2h0m10 0h0m1 1h0m2 0h0m4 0h0m-4 1h0m71 0h0m-84 1h0m1 0h0m10 0h0m71 0h0m3 0h0m-84 1h0m6 0h0m77 0h0m1 0h0m-84 1h0m85 0h0m136 0h0m-247 1h0m25 0h0m84 0h0m-81 2h0m7 0h0m76 0h0m2 0h0m70 0h0m-155 1h0m67 0h0m17 0h0m-95 1h0m17 0h0m58 0h0m6 0h0m69 0h0m77 0h0m-144 1h0m7 0h0m1 0h0m5 0h0m67 0h0m1 0h0m1 0h0m-172 1h0m7 0h0m13 0h0m134 0h0m19 0h0m-163 1h0m89 0h0m1 0h0m1 0h0m61 0h0m9 0h0m1 0h0m59 0h0m4 0h0m1 0h0m-225 1h0m1 0h0m6 0h0m73 0h0m5 0h0m2 0h0m1 0h0m2 0h0m65 0h0m-167 1h0m7 0h0m69 0h0m101 0h0m-162 1h0m80 0h0m62 0h0m8 0h0m-155 1h0m92 0h0m59 0h0m1 0h0m-157 1h0m79 0h0m7 0h0m5 0h0m1 0h0m74 0h0m59 0h0m-229 1h0m7 0h0m5 0h0m1 0h0m82 0h0m3 0h0m56 0h0m75 0h0m-223 1h0m7 0h0m142 0h0m5 0h0m-155 1h0m4 0h0m69 0h0m15 0h0m76 0h0m-163 1h0m3 0h0m2 0h0m89 0h0m-24 1h0m19 0h0m59 0h0m-143 1h0m65 0h0m6 1h0m141 0h0m4 0h0m-221 1h0m124 0h0m2 0h0m96 0h0m-224 1h0m148 0h0m69 0h0m-221 2h0m76 0h0m-75 1h0m143 0h0m5 0h0m-145 1h0m76 0h0m6 0h0m52 0h0m2 0h0m4 0h0m-70 1h0m14 0h0m55 0h0m2 0h0m59 0h0m15 0h0m2 0h0m1 0h0m71 0h0m1 0h0m-223 1h0m3 0h0m5 0h0m61 0h0m1 0h0m3 0h0m4 0h0m3 0h0m-149 1h0m3 0h0m136 0h0m4 0h0m2 0h0m3 0h0m57 0h0m13 0h0m77 0h0m-223 1h0m1 0h0m69 0h0m7 0h0m69 0h0m1 0h0m-217 1h0m68 0h0m210 0h0m-141 1h0m-141 1h0m70 0h0m216 0h0m2 0h0m8 0h0m-223 1h0m76 0h0m-144 1h0m68 0h0m66 0h0m76 0h0m66 0h0m1 0h0m15 0h0m-159 1h0m156 0h0m-221 1h0m3 0h0m-73 1h0m5 0h0m7 0h0m59 0h0m79 0h0m-150 1h0m146 0h0m-145 1h0m213 0h0m-219 1h0m214 0h0m1 0h0m-263 1h0m190 0h0m-191 1h0m57 0h0m1 0h0m287 0h0m-353 1h0m7 0h0m8 0h0m3 0h0m54 0h0m60 0h0m202 1h0m2 1h0m3 0h0m9 0h0m-347 1h0m3 0h0m50 0h0m1 0h0m2 0h0m71 0h0m-105 1h0m88 0h0m19 0h0m228 0h0m-335 1h0m40 0h0m50 0h0m18 0h0m-132 1h0m106 0h0m9 0h0m-112 1h0m16 0h0m93 0h0m-113 1h0m3 0h0m13 0h0m10 0h0m1 0h0m12 0h0m89 0h0m213 0h0m11 0h0m-353 1h0m20 0h0m95 0h0m16 0h0m211 0h0m-334 1h0m2 0h0m97 0h0m6 0h0m5 0h0m-110 1h0m1 0h0m10 0h0m1 0h0m7 0h0m2 0h0m75 0h0m8 0h0m17 0h0m3 0h0m1 0h0m211 0h0m-323 1h0m1 0h0m83 0h0m4 0h0m1 0h0m2 0h0m1 0h0m3 0h0m217 0h0m9 0h0m11 0h0m-330 1h0m107 0h0m134 0h0m74 0h0m9 0h0m-317 1h0m71 0h0m28 0h0m4 0h0m-123 1h0m20 0h0m3 0h0m7 0h0m88 0h0m40 0h0m171 0h0m3 0h0m-339 1h0m5 0h0m25 0h0m97 0h0m-104 1h0m80 0h0m11 0h0m4 0h0m16 0h0m23 0h0m4 0h0m-159 1h0m97 0h0m3 0h0m25 0h0m42 0h0m76 0h0m-221 1h0m2 0h0m1 0h0m67 0h0m31 0h0m1 0h0m1 0h0m-106 1h0m2 0h0m109 0h0m-37 1h0m54 1h0m6 0h0m14 0h0m166 0h0m-306 1h0m65 0h0m35 0h0m35 0h0m-69 1h0m157 0h0m-165 1h0m30 0h0m-90 2h0m134 0h0m-2 1h0m-141 1h0m191 1h0m115 0h0m-113 1h0m-10 1h0m-169 1h0m129 0h0m1 0h0m29 0h0m12 0h0m4 0h0m-19 1h0m9 0h0m6 0h0m4 0h0m112 0h0m-294 1h0m2 0h0m165 0h0m11 0h0m-166 1h0m163 1h0m3 0h0m6 0h0m6 0h0m109 0h0m-135 1h0m9 0h0m7 0h0m114 0h0m-1 1h0m3 0h0m-138 2h0m15 0h0m4 0h0m4 0h0m-16 1h0m-24 2h0m26 0h0m128 1h0m-164 1h0m8 1h0m25 0h0m8 0h0m20 1h0m-10 1h0m112 1h0m3 0h0m-161 3h0m50 1h0m-13 1h0m0 2h0m108 0h0m-97 2h0m109 0h0m-10 3h0m1 3h0m-3 1h0m-9 4h0m11 1h0m-4 2h0m-4 6h0m1 1h0m-4 4h0m1 5h0m4 2h0"/><path stroke="#16baa8" d="M156 47h0m2 2h0m0 5h0m-3 3h0m5 2h0m-5 2h0m2 1h0m-1 2h0m3 0h0m3 0h0m-3 1h0m1 0h0m1 1h0m1 2h0m-6 2h0m69 0h0m-65 1h0m1 0h0m-12 2h0m9 0h0m5 0h0m64 0h0m-84 1h0m9 0h0m76 0h0m-82 1h0m79 0h0m-79 1h0m82 0h0m-68 1h0m-20 1h0m10 0h0m3 0h0m-1 1h0m-8 1h0m3 0h0m1 0h0m-8 1h0m3 0h0m83 0h0m-80 1h0m81 0h0m2 0h0m-20 1h0m13 0h0m-70 1h0m142 0h0m70 0h0m-230 1h0m94 0h0m-91 1h0m3 1h0m3 0h0m72 0h0m5 0h0m6 0h0m2 0h0m-86 1h0m72 0h0m10 0h0m139 0h0m-226 1h0m3 0h0m70 0h0m19 0h0m68 0h0m-92 1h0m8 0h0m7 0h0m62 0h0m6 0h0m13 0h0m-174 1h0m1 0h0m12 0h0m1 0h0m74 0h0m72 0h0m14 0h0m-173 1h0m5 0h0m8 0h0m69 0h0m5 0h0m6 0h0m70 0h0m-160 1h0m11 0h0m69 0h0m3 0h0m9 0h0m60 0h0m10 0h0m1 0h0m63 0h0m-233 1h0m7 0h0m79 0h0m1 0h0m6 0h0m64 0h0m10 0h0m2 0h0m2 0h0m61 0h0m-226 1h0m5 0h0m1 0h0m6 0h0m3 0h0m70 0h0m7 0h0m63 0h0m3 0h0m66 0h0m-225 1h0m3 0h0m67 0h0m20 0h0m4 0h0m1 0h0m61 0h0m4 0h0m6 0h0m64 0h0m1 0h0m-224 1h0m4 0h0m5 0h0m80 0h0m75 0h0m-170 1h0m13 0h0m82 0h0m127 0h0m-219 1h0m10 0h0m212 0h0m-228 1h0m153 0h0m-139 1h0m139 0h0m-150 1h0m2 0h0m67 0h0m15 0h0m63 0h0m-150 1h0m2 0h0m3 0h0m79 0h0m15 0h0m-93 1h0m67 0h0m151 0h0m-153 1h0m66 0h0m2 0h0m2 0h0m145 0h0m-285 1h0m72 0h0m72 0h0m148 0h0m-220 1h0m68 0h0m83 0h0m-221 1h0m4 0h0m66 0h0m1 0h0m72 0h0m-143 1h0m66 0h0m71 0h0m1 0h0m4 0h0m5 0h0m-6 1h0m77 0h0m-150 1h0m69 0h0m144 0h0m-279 1h0m143 0h0m67 0h0m3 0h0m69 0h0m-287 1h0m143 0h0m78 1h0m-74 1h0m-143 1h0m69 0h0m208 0h0m-207 1h0m66 0h0m-67 1h0m2 0h0m37 0h0m101 0h0m-214 1h0m75 0h0m34 0h0m5 0h0m99 0h0m-210 1h0m1 0h0m2 1h0m68 0h0m65 0h0m-135 1h0m67 0h0m212 0h0m-287 1h0m5 0h0m-1 1h0m67 0h0m-64 1h0m-4 1h0m2 0h0m4 0h0m2 0h0m60 0h0m2 0h0m3 0h0m73 0h0m-190 1h0m46 0h0m67 0h0m143 0h0m75 0h0m-333 1h0m43 0h0m54 0h0m21 0h0m-85 1h0m80 0h0m5 0h0m58 0h0m-167 1h0m34 0h0m57 0h0m6 0h0m3 0h0m9 0h0m54 0h0m154 0h0m-341 1h0m8 0h0m18 0h0m109 0h0m-126 1h0m59 0h0m44 0h0m1 0h0m17 1h0m55 0h0m-159 1h0m103 0h0m5 0h0m-130 1h0m102 0h0m19 0h0m-122 1h0m30 0h0m10 0h0m13 0h0m51 0h0m4 0h0m120 0h0m-202 1h0m3 0h0m14 0h0m306 0h0m-351 1h0m104 0h0m4 0h0m22 0h0m-113 1h0m13 0h0m99 0h0m4 0h0m1 0h0m-95 1h0m59 0h0m32 0h0m4 0h0m-85 1h0m62 0h0m2 0h0m21 1h0m-117 1h0m16 0h0m95 0h0m1 0h0m-98 1h0m130 0h0m-28 1h0m-106 1h0m138 0h0m2 0h0m178 0h0m-314 1h0m71 0h0m3 0h0m65 0h0m-49 1h0m1 0h0m47 0h0m-143 1h0m1 0h0m317 0h0m-262 1h0m90 0h0m168 0h0m-325 1h0m72 0h0m248 0h0m-214 1h0m221 0h0m-312 1h0m137 0h0m5 0h0m-134 1h0m81 0h0m-104 1h0m325 2h0m-124 2h0m-24 1h0m6 0h0m10 0h0m8 0h0m-26 1h0m18 0h0m2 0h0m6 0h0m2 0h0m-28 2h0m1 1h0m9 0h0m2 0h0m7 0h0m9 0h0m-21 1h0m126 0h0m-107 1h0m-11 2h0m11 1h0m-181 1h0m160 0h0m13 2h0m9 0h0m0 1h0m106 0h0m-118 1h0m-4 1h0m13 0h0m-16 1h0m122 0h0m-159 1h0m0 5h0m38 2h0m16 0h0m92 10h0m-3 3h0m-3 18h0"/><path stroke="#1abc97" d="M156 57h0m5 4h0m-9 1h0m6 0h0m2 0h0m0 2h0m1 1h0m-7 1h0m3 0h0m-2 1h0m3 0h0m-3 2h0m4 0h0m71 1h0m-71 1h0m61 1h0m-107 1h0m44 0h0m65 0h0m-70 2h0m2 0h0m69 0h0m73 1h0m-68 1h0m-97 1h0m13 0h0m10 0h0m74 0h0m-79 1h0m6 0h0m71 0h0m1 0h0m-98 1h0m16 1h0m-2 1h0m8 0h0m73 0h0m4 0h0m-25 1h0m8 0h0m-68 1h0m6 0h0m73 0h0m-83 1h0m7 0h0m69 0h0m12 0h0m134 0h0m-154 1h0m155 0h0m-228 1h0m79 0h0m10 0h0m59 0h0m4 0h0m11 0h0m1 0h0m64 0h0m-223 1h0m4 0h0m80 0h0m138 0h0m-234 1h0m155 0h0m16 0h0m64 0h0m-241 1h0m15 0h0m89 0h0m61 0h0m4 0h0m-155 1h0m3 0h0m72 0h0m11 0h0m7 0h0m53 0h0m1 0h0m14 0h0m-84 1h0m68 0h0m79 0h0m-224 1h0m4 0h0m61 0h0m20 0h0m70 0h0m6 0h0m-162 1h0m3 0h0m72 0h0m9 0h0m81 0h0m-166 1h0m68 0h0m78 0h0m12 0h0m67 0h0m-143 1h0m73 0h0m-70 1h0m2 0h0m63 0h0m73 0h0m-233 1h0m89 0h0m4 0h0m6 0h0m67 0h0m-152 1h0m62 0h0m155 0h0m-232 1h0m15 0h0m151 0h0m-87 1h0m153 0h0m-216 1h0m220 0h0m-235 1h0m7 0h0m137 0h0m5 0h0m-145 1h0m144 0h0m-144 1h0m3 0h0m10 0h0m138 0h0m2 0h0m71 0h0m-71 1h0m66 0h0m8 0h0m-229 1h0m8 0h0m140 0h0m-3 1h0m1 0h0m1 0h0m82 0h0m-223 1h0m68 0h0m2 0h0m0 1h0m75 0h0m-149 1h0m2 0h0m70 0h0m147 0h0m-215 1h0m60 1h0m8 0h0m63 0h0m80 0h0m-145 1h0m-73 1h0m143 0h0m1 0h0m-72 1h0m211 0h0m-275 1h0m-4 1h0m-4 1h0m5 0h0m213 0h0m74 0h0m-285 1h0m2 0h0m60 0h0m-63 1h0m211 0h0m-213 1h0m66 0h0m-75 1h0m2 0h0m145 0h0m-139 1h0m1 0h0m2 1h0m114 0h0m-138 1h0m16 0h0m55 0h0m17 0h0m213 0h0m-284 1h0m7 0h0m65 0h0m-124 1h0m10 0h0m9 0h0m15 0h0m89 0h0m-103 1h0m78 0h0m26 0h0m53 1h0m-54 1h0m-76 1h0m10 0h0m44 0h0m13 0h0m10 0h0m61 0h0m-140 1h0m66 0h0m10 0h0m3 0h0m55 0h0m1 0h0m148 0h0m-296 1h0m72 0h0m15 0h0m6 0h0m1 0h0m-105 1h0m19 0h0m82 0h0m2 0h0m1 0h0m50 0h0m150 0h0m-303 1h0m13 0h0m5 0h0m5 0h0m60 0h0m244 0h0m-330 1h0m22 0h0m57 0h0m2 0h0m25 0h0m-91 1h0m69 0h0m1 0h0m3 0h0m2 0h0m1 0h0m12 0h0m4 0h0m-23 1h0m21 0h0m224 0h0m-240 1h0m15 0h0m49 0h0m-145 1h0m101 0h0m-4 1h0m-104 1h0m2 0h0m106 1h0m21 0h0m15 0h0m93 0h0m-165 1h0m59 1h0m13 0h0m3 0h0m-153 1h0m101 0h0m38 0h0m-150 1h0m17 0h0m1 0h0m2 0h0m67 0h0m7 0h0m65 0h0m-140 1h0m135 0h0m-156 1h0m112 0h0m39 0h0m-39 1h0m222 1h0m-215 3h0m75 4h0m-13 1h0m8 0h0m6 1h0m1 1h0m-13 2h0m11 0h0m2 2h0m12 8h0m3 6h0m94 4h0m-106 4h0m106 6h0m2 1h0"/><path stroke="#1dbd86" d="M162 42h0m-3 7h0m-3 3h0m1 4h0m6 0h0m-4 1h0m-1 2h0m2 2h0m4 2h0m-16 1h0m5 1h0m-1 1h0m72 3h0m77 1h0m-143 1h0m-6 1h0m3 0h0m-52 1h0m189 0h0m-151 1h0m86 0h0m67 0h0m-149 1h0m150 0h0m-153 2h0m71 0h0m-65 1h0m70 1h0m-75 1h0m6 0h0m64 0h0m16 0h0m70 0h0m-86 1h0m10 0h0m57 0h0m-157 1h0m1 0h0m172 0h0m-156 1h0m70 0h0m4 0h0m6 0h0m7 0h0m-6 1h0m3 0h0m60 0h0m-133 1h0m59 0h0m1 0h0m3 0h0m6 0h0m63 0h0m1 0h0m7 0h0m5 0h0m-163 1h0m79 0h0m84 0h0m-166 1h0m82 0h0m7 0h0m6 0h0m59 0h0m8 0h0m-91 1h0m2 0h0m83 0h0m15 0h0m-173 1h0m8 0h0m10 0h0m63 0h0m16 0h0m55 0h0m19 0h0m-174 1h0m6 0h0m13 0h0m67 0h0m81 0h0m-161 1h0m152 0h0m-84 1h0m10 0h0m83 0h0m-167 1h0m1 0h0m2 0h0m5 0h0m1 0h0m7 0h0m78 0h0m63 0h0m-161 1h0m14 0h0m5 0h0m-12 1h0m6 0h0m9 0h0m69 0h0m17 0h0m126 0h0m-228 1h0m225 0h0m5 0h0m-234 1h0m12 0h0m64 0h0m14 0h0m74 1h0m-159 1h0m70 0h0m-72 1h0m-5 1h0m94 0h0m135 0h0m-214 1h0m62 0h0m71 0h0m4 0h0m2 0h0m-154 1h0m158 0h0m68 0h0m5 0h0m-229 1h0m90 0h0m53 0h0m-137 1h0m4 0h0m136 0h0m-143 1h0m5 0h0m143 0h0m3 0h0m-154 1h0m72 0h0m69 0h0m-136 1h0m71 0h0m64 0h0m3 0h0m1 0h0m2 0h0m8 0h0m70 0h0m-103 1h0m17 0h0m13 0h0m-77 1h0m76 0h0m73 0h0m-223 1h0m69 0h0m82 0h0m3 0h0m-171 2h0m3 0h0m12 0h0m114 0h0m9 0h0m-114 1h0m213 0h0m-144 1h0m140 0h0m-144 1h0m-72 1h0m72 0h0m48 0h0m-135 1h0m15 0h0m4 0h0m66 0h0m57 0h0m-60 1h0m3 0h0m-84 1h0m14 1h0m121 0h0m94 1h0m-233 1h0m131 0h0m12 0h0m-53 1h0m53 0h0m-140 2h0m5 1h0m69 0h0m16 0h0m19 0h0m30 0h0m-138 1h0m10 0h0m-40 1h0m109 0h0m5 0h0m-23 1h0m-63 1h0m73 0h0m31 0h0m39 0h0m-172 1h0m104 0h0m1 0h0m1 0h0m-110 1h0m32 0h0m3 0h0m9 0h0m50 0h0m3 0h0m7 0h0m10 0h0m-95 1h0m85 0h0m71 0h0m-141 1h0m1 0h0m6 0h0m58 1h0m18 0h0m4 0h0m2 0h0m1 0h0m50 0h0m-129 1h0m74 0h0m-126 1h0m119 0h0m29 0h0m-145 1h0m107 0h0m-16 1h0m11 1h0m12 0h0m4 0h0m37 1h0m-61 1h0m24 0h0m37 0h0m-132 1h0m132 0h0m5 0h0m-134 1h0m136 0h0m-6 1h0m2 0h0m-65 1h0m58 0h0m5 0h0m-32 1h0m46 1h0m-5 2h0m43 9h0m-2 2h0m-13 1h0m5 1h0m-13 9h0m126 18h0m-21 21h0"/><path stroke="#21bf76" d="M163 42h0m-7 4h0m-2 2h0m7 0h0m2 1h0m-1 1h0m1 0h0m-9 1h0m8 0h0m-1 4h0m-5 1h0m70 5h0m-78 1h0m6 0h0m72 2h0m-78 1h0m1 0h0m75 0h0m5 0h0m-78 1h0m74 0h0m2 0h0m-76 1h0m72 1h0m0 1h0m-74 1h0m5 0h0m74 0h0m67 0h0m-150 1h0m69 0h0m13 0h0m-87 1h0m3 1h0m1 0h0m69 0h0m10 0h0m3 0h0m-82 1h0m6 1h0m64 0h0m4 0h0m73 0h0m9 0h0m-169 1h0m11 0h0m8 1h0m73 0h0m75 0h0m1 0h0m1 0h0m1 0h0m-84 1h0m2 0h0m3 0h0m3 0h0m66 0h0m-163 1h0m16 0h0m71 0h0m8 0h0m69 0h0m2 0h0m4 0h0m2 0h0m-9 1h0m2 0h0m-77 1h0m1 0h0m1 0h0m1 0h0m80 0h0m-172 1h0m157 0h0m79 0h0m-233 1h0m1 0h0m151 0h0m1 0h0m13 0h0m1 0h0m66 0h0m1 0h0m-151 1h0m80 0h0m2 0h0m-173 1h0m11 0h0m85 0h0m62 0h0m1 0h0m16 0h0m-175 1h0m93 0h0m4 0h0m1 0h0m2 0h0m57 0h0m2 0h0m21 0h0m-176 1h0m71 0h0m14 0h0m85 0h0m5 0h0m58 0h0m-234 2h0m91 0h0m68 0h0m9 0h0m-166 1h0m1 0h0m4 0h0m79 1h0m1 0h0m6 0h0m8 0h0m-24 1h0m22 0h0m60 0h0m-144 1h0m61 0h0m154 0h0m-134 1h0m63 0h0m-82 1h0m11 0h0m-13 1h0m155 0h0m-226 1h0m4 0h0m67 0h0m153 0h0m-151 1h0m-80 1h0m154 0h0m-153 1h0m2 0h0m72 0h0m-70 1h0m144 0h0m-148 1h0m88 0h0m63 0h0m-136 1h0m139 0h0m-5 1h0m-144 1h0m3 0h0m142 0h0m2 0h0m-170 1h0m160 1h0m-144 1h0m124 0h0m31 0h0m-152 1h0m152 0h0m68 0h0m-236 1h0m16 0h0m115 0h0m1 0h0m11 0h0m18 0h0m73 0h0m-240 1h0m91 0h0m3 0h0m69 0h0m-156 1h0m86 0h0m46 0h0m5 0h0m-142 1h0m142 0h0m97 0h0m-222 1h0m3 0h0m65 0h0m5 0h0m4 0h0m46 0h0m-119 1h0m67 0h0m51 0h0m3 0h0m96 0h0m-221 1h0m8 0h0m69 0h0m1 0h0m42 0h0m-137 1h0m3 0h0m233 0h0m-219 1h0m71 0h0m49 0h0m2 0h0m23 0h0m-145 1h0m-1 1h0m3 0h0m68 0h0m-67 1h0m-18 1h0m1 0h0m15 0h0m215 0h0m-206 1h0m119 0h0m-126 1h0m127 0h0m1 0h0m-138 1h0m65 0h0m18 0h0m-94 1h0m9 0h0m63 0h0m-61 1h0m57 0h0m17 0h0m8 0h0m-79 1h0m115 0h0m17 0h0m-148 1h0m5 0h0m2 0h0m9 0h0m54 0h0m16 0h0m9 0h0m29 0h0m20 0h0m-78 1h0m85 0h0m-136 1h0m81 0h0m55 0h0m1 0h0m-59 1h0m-89 1h0m10 0h0m57 0h0m12 0h0m32 0h0m206 0h0m-312 1h0m5 0h0m4 0h0m51 0h0m4 0h0m12 0h0m65 0h0m-146 1h0m7 0h0m1 0h0m66 0h0m45 0h0m-56 1h0m1 0h0m8 0h0m12 0h0m41 0h0m-69 1h0m14 0h0m11 0h0m4 0h0m7 0h0m-14 1h0m7 0h0m-28 1h0m17 0h0m7 0h0m-91 2h0m88 1h0m-21 1h0m61 0h0m-59 1h0m-73 1h0m75 0h0m25 0h0m38 0h0m5 0h0m4 0h0m-75 1h0m1 0h0m1 1h0m64 0h0m-67 1h0m68 0h0m1 0h0m6 0h0m-5 2h0m2 0h0m35 7h0m0 1h0m-8 5h0m1 0h0m-10 2h0m11 0h0m2 0h0m13 0h0"/><path stroke="#2ec066" d="M159 48h0m4 0h0m-6 1h0m-2 2h0m2 0h0m3 0h0m0 1h0m-4 1h0m1 0h0m1 2h0m1 0h0m0 1h0m1 0h0m-4 2h0m3 1h0m64 0h0m-63 1h0m68 3h0m-77 1h0m76 0h0m-2 1h0m-79 1h0m1 0h0m1 1h0m5 0h0m70 0h0m76 0h0m-148 1h0m3 0h0m73 0h0m-80 1h0m3 0h0m72 0h0m9 0h0m61 0h0m-147 1h0m8 0h0m70 0h0m-76 1h0m4 0h0m72 0h0m1 0h0m-79 1h0m2 0h0m7 0h0m62 0h0m11 0h0m2 0h0m67 0h0m-149 1h0m4 0h0m1 0h0m73 0h0m73 0h0m-148 1h0m3 0h0m57 0h0m2 0h0m4 0h0m3 0h0m1 0h0m5 0h0m-77 1h0m133 0h0m13 0h0m5 0h0m-149 1h0m142 0h0m5 0h0m-149 1h0m74 0h0m70 0h0m2 0h0m3 0h0m-79 1h0m6 0h0m74 0h0m2 0h0m-170 1h0m81 0h0m14 0h0m65 0h0m7 0h0m2 0h0m-171 1h0m83 0h0m4 0h0m9 0h0m77 0h0m-87 1h0m72 0h0m10 0h0m-166 1h0m9 0h0m143 0h0m15 0h0m-99 1h0m15 0h0m3 0h0m68 0h0m7 0h0m11 0h0m-92 1h0m71 0h0m10 0h0m7 0h0m-169 1h0m3 0h0m84 0h0m3 0h0m79 0h0m-5 1h0m7 0h0m58 0h0m-237 1h0m17 0h0m84 0h0m63 0h0m15 0h0m-178 1h0m1 0h0m6 0h0m1 0h0m7 0h0m3 0h0m60 0h0m79 0h0m3 0h0m13 0h0m1 0h0m64 0h0m-236 1h0m76 0h0m-74 1h0m91 0h0m2 0h0m62 0h0m18 0h0m-83 1h0m142 0h0m-231 1h0m4 0h0m86 0h0m141 0h0m-236 1h0m93 0h0m-15 1h0m88 0h0m70 0h0m-237 1h0m78 0h0m1 0h0m151 0h0m-227 1h0m1 0h0m76 1h0m16 0h0m-92 1h0m0 3h0m0 2h0m149 0h0m2 0h0m1 1h0m-151 1h0m151 0h0m-170 1h0m88 0h0m69 0h0m11 0h0m69 0h0m-241 1h0m3 0h0m241 0h0m-239 1h0m14 0h0m2 0h0m3 0h0m70 0h0m43 1h0m3 0h0m-136 1h0m2 0h0m17 0h0m218 0h0m-238 1h0m19 0h0m113 0h0m2 0h0m-47 1h0m47 0h0m2 0h0m101 0h0m-238 1h0m18 0h0m70 0h0m4 0h0m37 0h0m4 0h0m-130 1h0m17 0h0m70 0h0m46 0h0m2 0h0m101 0h0m-235 1h0m84 0h0m-87 1h0m3 0h0m127 0h0m4 0h0m2 0h0m-120 1h0m119 0h0m-121 1h0m-16 1h0m5 0h0m89 0h0m23 0h0m3 0h0m19 0h0m-135 1h0m89 0h0m25 0h0m-105 1h0m11 0h0m112 0h0m9 0h0m-146 1h0m5 0h0m16 0h0m51 0h0m17 0h0m3 0h0m-83 1h0m1 0h0m75 0h0m58 0h0m-140 1h0m9 0h0m5 0h0m51 0h0m56 0h0m-108 1h0m12 0h0m117 0h0m-137 1h0m88 0h0m50 0h0m-134 1h0m2 0h0m1 0h0m1 0h0m48 0h0m70 0h0m1 0h0m1 0h0m6 0h0m4 0h0m3 0h0m-146 1h0m-1 1h0m10 0h0m69 0h0m1 0h0m4 0h0m-80 1h0m4 0h0m1 0h0m5 0h0m63 0h0m58 0h0m-147 1h0m13 0h0m11 0h0m66 0h0m55 0h0m5 0h0m-138 1h0m62 0h0m24 0h0m44 0h0m2 0h0m13 0h0m-137 1h0m4 0h0m56 0h0m1 0h0m2 0h0m10 0h0m4 0h0m52 0h0m6 0h0m-143 1h0m66 0h0m58 0h0m2 0h0m23 0h0m-165 1h0m80 0h0m7 0h0m4 0h0m7 0h0m1 0h0m4 0h0m-32 1h0m18 0h0m8 0h0m4 0h0m24 0h0m15 0h0m20 0h0m-147 1h0m71 0h0m9 0h0m34 0h0m-115 1h0m15 0h0m56 1h0m11 0h0m7 0h0m1 0h0m40 0h0m13 0h0m2 0h0m-74 1h0m12 0h0m2 1h0m1 0h0m31 0h0m-56 1h0m24 0h0m2 0h0m-2 1h0m4 0h0m-24 1h0m18 0h0m1 0h0m-18 1h0m23 0h0m45 0h0m-51 1h0m37 0h0m-23 1h0m-11 3h0m87 9h0m-22 2h0"/><path stroke="#41c156" d="M157 43h0m-3 1h0m9 3h0m-3 1h0m-5 1h0m4 3h0m-4 2h0m2 0h0m66 1h0m-72 3h0m-3 2h0m5 0h0m72 0h0m2 0h0m1 0h0m-4 1h0m3 1h0m-76 1h0m1 0h0m-5 1h0m7 0h0m68 0h0m-68 1h0m69 0h0m5 0h0m-82 2h0m78 0h0m-75 1h0m1 0h0m74 0h0m2 0h0m-1 1h0m2 0h0m72 0h0m-156 1h0m4 0h0m3 0h0m59 0h0m18 0h0m2 0h0m-88 1h0m5 0h0m4 0h0m78 0h0m62 0h0m-65 1h0m70 0h0m-142 1h0m140 0h0m-165 1h0m18 0h0m1 0h0m77 0h0m67 0h0m-144 1h0m70 0h0m4 0h0m5 0h0m0 1h0m-98 1h0m17 0h0m7 0h0m141 0h0m-167 1h0m8 0h0m17 0h0m60 0h0m9 0h0m72 0h0m4 0h0m-167 1h0m88 0h0m66 0h0m10 0h0m-162 1h0m91 0h0m3 0h0m58 0h0m13 0h0m4 0h0m63 0h0m-216 1h0m63 0h0m5 0h0m67 0h0m11 0h0m1 0h0m-168 1h0m3 0h0m81 0h0m9 0h0m1 0h0m2 0h0m69 0h0m1 0h0m-160 1h0m85 0h0m1 0h0m3 0h0m64 0h0m14 0h0m-173 1h0m7 0h0m82 0h0m2 0h0m3 0h0m-18 1h0m93 0h0m65 0h0m-236 1h0m1 0h0m92 0h0m1 0h0m74 0h0m68 0h0m-238 1h0m10 0h0m77 0h0m7 0h0m2 0h0m-90 1h0m79 0h0m11 0h0m76 0h0m-165 1h0m70 0h0m20 0h0m1 0h0m74 0h0m-164 1h0m68 0h0m156 0h0m-233 1h0m2 0h0m94 0h0m-95 1h0m2 0h0m5 0h0m11 0h0m159 0h0m-176 1h0m74 0h0m5 0h0m-76 1h0m1 0h0m75 0h0m-79 1h0m74 0h0m0 1h0m20 0h0m46 0h0m-141 1h0m3 0h0m153 0h0m-5 1h0m-148 1h0m226 1h0m-86 1h0m12 0h0m-170 3h0m15 0h0m142 0h0m4 0h0m6 0h0m74 0h0m-241 1h0m16 0h0m2 0h0m68 0h0m4 0h0m-73 1h0m114 0h0m-114 1h0m2 0h0m219 0h0m-220 1h0m70 0h0m70 0h0m-145 1h0m73 0h0m46 0h0m-135 1h0m141 0h0m-140 2h0m14 0h0m77 0h0m42 0h0m-128 1h0m15 0h0m107 1h0m6 0h0m4 0h0m-139 1h0m4 0h0m1 0h0m83 0h0m51 0h0m-137 1h0m2 0h0m16 0h0m105 0h0m-120 1h0m20 0h0m-24 1h0m2 0h0m88 0h0m3 0h0m45 0h0m7 0h0m-122 1h0m68 0h0m-89 1h0m84 0h0m57 0h0m-52 1h0m-81 1h0m7 0h0m116 0h0m10 0h0m-138 1h0m16 0h0m69 0h0m2 0h0m2 0h0m43 0h0m4 0h0m6 0h0m-52 1h0m33 0h0m13 0h0m5 0h0m-147 1h0m2 0h0m3 0h0m1 0h0m2 0h0m11 0h0m71 0h0m29 0h0m13 0h0m19 0h0m-149 1h0m73 0h0m7 0h0m3 0h0m2 0h0m41 0h0m10 0h0m4 0h0m2 0h0m4 0h0m-144 1h0m4 0h0m62 0h0m4 0h0m7 0h0m1 0h0m63 0h0m-140 1h0m4 0h0m66 0h0m47 0h0m3 0h0m18 0h0m4 0h0m-146 1h0m15 0h0m1 0h0m56 0h0m73 0h0m-145 1h0m3 0h0m3 0h0m6 0h0m70 0h0m51 0h0m-125 1h0m58 0h0m1 0h0m6 0h0m7 0h0m-72 1h0m1 0h0m6 0h0m49 0h0m66 0h0m20 0h0m-154 1h0m8 0h0m3 0h0m113 0h0m21 0h0m11 0h0m-80 1h0m9 0h0m50 0h0m-72 1h0m10 0h0m13 0h0m42 0h0m11 0h0m9 0h0m3 0h0m-143 1h0m64 0h0m13 0h0m71 0h0m-39 1h0m21 0h0m-134 1h0m10 0h0m75 0h0m-73 1h0m68 0h0m-1 1h0m3 0h0m33 0h0m14 0h0m-42 1h0m46 0h0m-52 1h0m31 0h0m8 0h0m9 0h0m-44 1h0m25 0h0m21 0h0m-18 2h0m1 3h0m9 1h0"/><path stroke="#54c247" d="M161 40h0m-3 5h0m-1 1h0m4 5h0m-7 1h0m9 1h0m-5 5h0m65 0h0m1 0h0m-96 4h0m17 2h0m1 0h0m77 0h0m-72 1h0m75 2h0m2 1h0m-77 1h0m148 2h0m-2 1h0m-78 1h0m73 1h0m11 0h0m-93 1h0m2 0h0m8 0h0m4 0h0m-77 1h0m67 0h0m5 0h0m4 0h0m-77 1h0m71 0h0m-89 1h0m156 0h0m78 0h0m-141 1h0m0 1h0m63 0h0m13 0h0m64 0h0m-208 1h0m67 0h0m1 0h0m71 0h0m-159 1h0m81 0h0m85 0h0m63 0h0m-238 1h0m95 0h0m75 0h0m-173 1h0m7 0h0m1 0h0m3 0h0m70 0h0m97 0h0m1 0h0m-180 1h0m97 0h0m4 0h0m61 0h0m-72 1h0m13 0h0m-99 1h0m-3 1h0m9 1h0m73 1h0m86 2h0m-90 2h0m17 0h0m136 0h0m-230 1h0m0 3h0m150 1h0m1 1h0m-151 1h0m154 0h0m-152 1h0m76 0h0m150 0h0m-157 1h0m-68 1h0m1 0h0m-4 2h0m144 0h0m-69 1h0m-93 1h0m19 0h0m70 0h0m-83 2h0m15 0h0m71 0h0m51 0h0m-143 1h0m4 0h0m14 0h0m2 0h0m70 0h0m-86 1h0m86 0h0m42 0h0m9 0h0m-137 1h0m14 0h0m-15 1h0m15 0h0m65 0h0m53 0h0m8 0h0m-144 1h0m85 0h0m51 0h0m11 0h0m-25 1h0m7 0h0m16 0h0m-143 1h0m86 0h0m5 0h0m43 0h0m6 0h0m2 0h0m5 0h0m-143 1h0m81 0h0m5 0h0m56 0h0m-141 1h0m109 0h0m10 0h0m15 0h0m-141 1h0m1 0h0m133 0h0m12 0h0m2 0h0m-131 1h0m4 0h0m68 0h0m30 0h0m-108 1h0m1 1h0m128 0h0m9 0h0m-135 1h0m60 0h0m13 0h0m62 0h0m-141 1h0m135 0h0m2 0h0m-133 1h0m95 0h0m9 0h0m7 0h0m23 0h0m-144 1h0m3 0h0m13 0h0m61 0h0m4 0h0m48 0h0m-128 1h0m17 0h0m63 0h0m42 0h0m5 0h0m-127 1h0m7 0h0m54 0h0m7 0h0m66 0h0m9 0h0m1 0h0m-77 1h0m2 0h0m4 0h0m14 0h0m-107 1h0m82 0h0m18 0h0m2 0h0m40 0h0m-130 1h0m18 0h0m131 0h0m-147 1h0m74 0h0m16 0h0m28 0h0m-137 1h0m109 0h0m43 0h0m9 0h0m5 0h0m-66 1h0m1 0h0m37 0h0m17 0h0m-75 1h0m65 0h0m0 1h0m9 0h0m1 0h0m5 0h0m5 0h0m-59 1h0m40 0h0m5 0h0m2 1h0m-5 1h0m7 0h0m3 0h0m-11 1h0m12 0h0m-51 1h0m37 0h0m-44 1h0m39 0h0m-40 1h0m6 0h0m31 0h0m-31 1h0m28 0h0m-25 3h0m-3 2h0"/><path stroke="#67c337" d="M163 46h0m-5 1h0m0 1h0m3 1h0m2 5h0m-5 3h0m5 0h0m-4 1h0m67 2h0m-73 2h0m-5 4h0m2 0h0m0 1h0m-2 1h0m146 1h0m-143 3h0m63 0h0m79 0h0m4 2h0m-86 1h0m5 1h0m78 0h0m-74 1h0m76 0h0m-87 1h0m-86 1h0m173 0h0m68 0h0m-150 1h0m65 0h0m-152 1h0m14 0h0m146 0h0m75 0h0m-69 1h0m5 0h0m-175 2h0m162 0h0m-164 1h0m4 0h0m2 1h0m1 1h0m70 1h0m23 1h0m-101 5h0m3 0h0m71 2h0m-67 2h0m68 0h0m81 0h0m5 3h0m-175 1h0m19 0h0m147 0h0m-3 1h0m11 0h0m-159 2h0m144 0h0m-18 1h0m-54 1h0m55 0h0m-142 1h0m239 0h0m-240 2h0m143 0h0m-138 1h0m11 1h0m116 0h0m-117 1h0m120 0h0m-48 1h0m47 0h0m-52 1h0m1 0h0m60 0h0m-140 1h0m17 0h0m104 0h0m8 0h0m1 0h0m-10 1h0m19 0h0m-142 1h0m20 0h0m112 0h0m-132 1h0m2 0h0m13 0h0m69 0h0m7 0h0m-85 1h0m-3 1h0m128 0h0m-48 1h0m46 0h0m9 0h0m3 0h0m-62 1h0m48 0h0m3 0h0m12 0h0m-142 1h0m3 0h0m115 0h0m23 0h0m-133 1h0m3 0h0m70 0h0m6 0h0m54 0h0m-137 1h0m6 0h0m102 0h0m17 0h0m10 0h0m2 0h0m6 0h0m-162 1h0m26 0h0m5 0h0m107 0h0m23 0h0m-137 1h0m1 0h0m71 0h0m54 0h0m-13 1h0m-115 1h0m107 0h0m2 0h0m28 0h0m-151 1h0m10 0h0m59 0h0m79 0h0m2 0h0m-60 1h0m28 0h0m20 0h0m15 0h0m-40 1h0m11 0h0m-118 1h0m107 0h0m31 1h0m8 0h0m3 0h0m-35 1h0m-58 1h0m66 0h0m17 0h0m-59 1h0m53 0h0m5 0h0m6 0h0m-60 1h0m34 0h0m1 0h0m13 0h0m1 0h0m-23 1h0m30 0h0m-5 1h0m-25 1h0m3 1h0m7 0h0m-8 1h0m7 0h0m-9 1h0m4 0h0m-3 1h0m2 0h0m-1 1h0m6 1h0"/><path stroke="#7dc12f" d="M149 61h0m-4 1h0m1 1h0m77 0h0m1 0h0m-82 4h0m70 2h0m3 5h0m77 1h0m1 0h0m4 0h0m-171 2h0m168 1h0m70 0h0m-145 1h0m146 2h0m-150 1h0m64 0h0m-155 2h0m163 1h0m-167 1h0m86 0h0m13 2h0m137 1h0m1 1h0m-97 7h0m-137 2h0m224 6h0m-237 1h0m84 0h0m0 1h0m50 0h0m3 0h0m99 0h0m-152 1h0m-1 2h0m-8 1h0m54 0h0m-133 1h0m84 0h0m49 0h0m-53 1h0m66 0h0m-19 1h0m14 0h0m-17 1h0m22 0h0m-19 2h0m1 0h0m-49 1h0m3 0h0m2 0h0m42 0h0m2 0h0m11 0h0m6 0h0m-139 3h0m8 0h0m69 0h0m2 0h0m44 0h0m7 0h0m6 0h0m-143 1h0m86 0h0m26 0h0m15 0h0m-17 1h0m12 0h0m-115 1h0m70 0h0m2 0h0m34 0h0m11 0h0m6 0h0m14 0h0m1 1h0m-80 1h0m39 0h0m29 0h0m10 0h0m-12 1h0m-25 1h0m19 0h0m7 0h0m-67 1h0m13 0h0m-65 1h0m66 0h0m52 0h0m5 0h0m-127 1h0m77 0h0m24 0h0m30 0h0m-159 1h0m25 0h0m118 0h0m2 0h0m2 0h0m-6 1h0m4 0h0m1 0h0m14 0h0m1 0h0m6 0h0m-154 1h0m119 0h0m15 0h0m9 0h0m3 0h0m-151 1h0m5 0h0m132 0h0m-47 1h0m35 0h0m13 0h0m-17 1h0m25 0h0m-1 1h0m2 0h0m4 0h0m-80 1h0m59 0h0m1 0h0m8 0h0m-8 1h0m14 0h0m-3 1h0m-25 1h0m4 0h0m-24 1h0m25 0h0m5 0h0m8 0h0m2 0h0m-8 2h0m-35 1h0m34 1h0m-1 1h0m-3 1h0m1 2h0m-3 2h0"/><path stroke="#94bf2a" d="M159 42h0m69 14h0m-105 2h0m29 0h0m-29 1h0m24 2h0m82 0h0m-101 6h0m12 1h0m-38 2h0m25 0h0m83 0h0m-67 2h0m152 2h0m-77 3h0m-98 2h0m12 1h0m149 1h0m79 1h0m-223 2h0m221 1h0m2 2h0m-73 7h0m67 0h0m-78 2h0m75 2h0m-157 2h0m84 0h0m-90 1h0m4 0h0m3 1h0m153 0h0m-156 4h0m-84 1h0m138 1h0m-4 1h0m26 1h0m-78 1h0m-7 1h0m7 1h0m49 0h0m-55 1h0m7 0h0m3 1h0m35 0h0m-43 1h0m2 0h0m2 0h0m55 0h0m-62 1h0m4 0h0m4 0h0m-6 2h0m40 0h0m8 0h0m104 0h0m-108 1h0m16 0h0m6 0h0m-26 1h0m7 0h0m2 0h0m3 0h0m-53 1h0m3 0h0m3 0h0m33 0h0m12 0h0m3 0h0m6 0h0m6 0h0m-140 1h0m73 0h0m47 0h0m-51 1h0m8 0h0m-13 1h0m9 0h0m38 0h0m18 0h0m-126 1h0m140 0h0m-81 1h0m19 0h0m25 0h0m25 0h0m2 0h0m7 0h0m-60 1h0m43 0h0m18 0h0m3 0h0m-64 1h0m36 0h0m6 0h0m3 0h0m19 0h0m-76 1h0m35 0h0m3 0h0m18 0h0m16 0h0m-147 1h0m109 0h0m1 1h0m19 0h0m3 1h0m-146 1h0m151 0h0m-147 1h0m122 0h0m10 0h0m18 0h0m-34 1h0m16 0h0m13 0h0m5 0h0m-143 1h0m119 0h0m1 0h0m12 0h0m-9 1h0m17 0h0m4 0h0m-18 1h0m8 0h0m5 0h0m4 0h0m-16 1h0m-7 2h0m17 0h0m-16 2h0m3 0h0m2 1h0m-2 1h0m5 0h0m-9 1h0"/><path stroke="#abbc24" d="M154 41h0m7 4h0m-10 12h0m73 2h0m-71 4h0m58 4h0m-67 2h0m1 0h0m74 0h0m-18 1h0m96 0h0m2 2h0m-85 1h0m6 0h0m-91 1h0m87 1h0m1 1h0m-3 2h0m2 0h0m-95 1h0m173 3h0m-172 1h0m16 0h0m221 1h0m-152 5h0m83 2h0m64 2h0m-92 2h0m91 0h0m-2 1h0m-87 4h0m-155 2h0m160 2h0m-75 1h0m1 0h0m53 4h0m0 3h0m90 0h0m-101 1h0m8 1h0m93 0h0m-224 1h0m122 0h0m-45 1h0m34 1h0m4 0h0m3 0h0m4 0h0m-119 1h0m66 0h0m1 0h0m37 0h0m3 0h0m12 0h0m4 0h0m4 0h0m-132 1h0m70 0h0m46 0h0m8 0h0m11 0h0m1 0h0m-136 1h0m76 0h0m42 0h0m6 0h0m13 0h0m-133 2h0m76 1h0m36 0h0m24 0h0m-133 1h0m68 1h0m4 0h0m24 0h0m-125 1h0m150 0h0m-58 2h0m44 0h0m16 0h0m-27 1h0m19 0h0m-1 1h0m11 0h0m-17 1h0m5 0h0m4 0h0m-13 2h0m-122 1h0m112 1h0m16 0h0m16 1h0m-12 1h0m-16 1h0m14 0h0m3 0h0m-13 1h0m-8 1h0m4 0h0m9 0h0m5 0h0m3 0h0m2 0h0m-74 1h0m69 0h0m-5 2h0m-4 1h0m0 1h0m3 0h0m-7 5h0m1 2h0"/><path stroke="#c2ba1f" d="M151 38h0m-4 2h0m-4 5h0m17 1h0m2 0h0m47 2h0m-84 8h0m98 1h0m-1 3h0m-72 1h0m1 0h0m-24 3h0m26 2h0m75 0h0m-101 2h0m168 0h0m-78 2h0m-96 1h0m92 0h0m79 0h0m-70 1h0m-12 1h0m13 1h0m-110 2h0m-5 2h0m178 2h0m63 2h0m-215 2h0m70 0h0m152 0h0m6 0h0m-250 1h0m11 0h0m15 1h0m-72 1h0m225 4h0m-1 3h0m-33 2h0m16 0h0m79 1h0m-156 4h0m71 1h0m-71 2h0m49 0h0m100 0h0m0 2h0m-248 1h0m8 0h0m4 0h0m131 0h0m36 0h0m-28 1h0m90 1h0m-88 3h0m-158 1h0m24 1h0m69 0h0m52 0h0m12 0h0m-10 1h0m-58 1h0m6 0h0m60 0h0m-57 1h0m3 0h0m-75 1h0m113 0h0m-117 1h0m74 0h0m3 0h0m38 0h0m8 0h0m13 0h0m-136 1h0m123 0h0m4 0h0m13 0h0m-69 1h0m5 0h0m56 0h0m-127 1h0m71 1h0m49 0h0m3 0h0m-1 1h0m-15 1h0m-130 1h0m112 0h0m13 0h0m14 0h0m-146 1h0m97 0h0m3 0h0m26 0h0m6 0h0m8 0h0m26 1h0m-157 1h0m74 0h0m65 0h0m1 0h0m-57 1h0m50 0h0m7 0h0m-141 1h0m4 0h0m130 0h0m16 0h0m-153 1h0m6 0h0m143 0h0m1 0h0m-148 1h0m130 0h0m10 0h0m-17 2h0m7 0h0m8 0h0m2 0h0m8 0h0m-18 1h0m-8 1h0m27 0h0m1 0h0m3 0h0m-22 1h0m9 0h0m-16 1h0m22 0h0m-30 3h0m20 0h0m2 0h0m-16 2h0m2 2h0m3 0h0m-9 3h0m7 0h0"/><path stroke="#d1b71c" d="M147 34h0m10 3h0m-12 2h0m16 2h0m-23 5h0m-3 7h0m6 2h0m-6 1h0m7 0h0m-8 2h0m8 1h0m8 0h0m136 0h0m-136 1h0m-4 1h0m58 0h0m17 0h0m6 0h0m1 0h0m-77 1h0m56 0h0m91 0h0m-159 1h0m60 0h0m8 0h0m2 0h0m-1 1h0m70 0h0m15 1h0m2 2h0m-157 1h0m80 2h0m-14 1h0m7 0h0m-18 1h0m22 0h0m3 0h0m57 1h0m26 0h0m-183 2h0m159 0h0m-66 1h0m68 0h0m7 1h0m64 0h0m-143 1h0m71 0h0m-77 2h0m160 1h0m-4 1h0m-77 1h0m-71 1h0m152 0h0m-152 1h0m63 1h0m-78 1h0m-69 1h0m64 0h0m169 0h0m-68 1h0m63 0h0m-248 2h0m1 0h0m159 0h0m91 0h0m-89 1h0m-79 2h0m146 1h0m-229 2h0m237 0h0m8 0h0m-244 1h0m3 0h0m159 0h0m6 0h0m-9 1h0m2 0h0m-87 1h0m16 0h0m68 1h0m2 0h0m9 0h0m-93 2h0m88 0h0m78 0h0m-8 1h0m-149 1h0m140 0h0m8 0h0m-152 2h0m58 0h0m97 2h0m-252 2h0m98 0h0m49 0h0m91 0h0m-146 1h0m-1 1h0m4 0h0m-93 2h0m79 0h0m19 0h0m45 1h0m-57 1h0m57 0h0m-9 1h0m-116 1h0m128 0h0m-149 1h0m7 0h0m93 0h0m38 0h0m1 0h0m7 0h0m-136 1h0m14 0h0m1 0h0m63 1h0m62 0h0m9 0h0m-34 1h0m29 0h0m-133 1h0m79 0h0m30 0h0m2 0h0m12 0h0m-141 1h0m70 0h0m74 0h0m1 0h0m8 0h0m-35 1h0m18 0h0m5 0h0m-43 1h0m22 0h0m14 0h0m5 0h0m-52 1h0m31 0h0m43 0h0m-160 1h0m129 0h0m1 0h0m20 0h0m-146 1h0m146 0h0m-1 1h0m7 0h0m-26 1h0m30 0h0m-156 1h0m7 0h0m133 0h0m-12 1h0m27 0h0m-18 2h0m16 0h0m-9 1h0m-21 1h0m-60 2h0m56 0h0m13 4h0"/><path stroke="#deb51a" d="M145 37h0m3 0h0m-2 2h0m8 0h0m6 0h0m4 1h0m-16 1h0m-9 1h0m11 0h0m-2 1h0m2 0h0m11 0h0m-13 1h0m1 1h0m70 0h0m-5 1h0m14 0h0m-74 1h0m1 0h0m60 2h0m7 0h0m-75 1h0m5 0h0m0 1h0m70 1h0m6 0h0m-90 1h0m4 0h0m74 0h0m-76 1h0m10 0h0m1 0h0m1 0h0m47 0h0m9 0h0m5 0h0m10 0h0m-97 1h0m83 0h0m-5 1h0m7 0h0m-63 1h0m4 0h0m49 0h0m-66 1h0m64 0h0m12 0h0m76 0h0m-151 1h0m1 0h0m6 0h0m3 0h0m50 0h0m29 0h0m1 0h0m73 0h0m-155 1h0m10 0h0m-18 1h0m74 1h0m1 0h0m82 0h0m9 0h0m-18 1h0m5 0h0m-154 1h0m5 0h0m2 0h0m7 0h0m151 1h0m-166 1h0m154 0h0m-86 1h0m11 0h0m64 0h0m8 0h0m17 0h0m-182 1h0m25 0h0m64 0h0m77 0h0m11 0h0m-171 2h0m72 0h0m86 0h0m2 0h0m1 0h0m6 0h0m6 0h0m-166 1h0m146 0h0m-146 1h0m9 0h0m2 0h0m53 0h0m73 0h0m15 0h0m-67 1h0m53 1h0m18 0h0m-85 1h0m84 0h0m72 0h0m-245 1h0m26 0h0m52 0h0m16 0h0m72 0h0m1 0h0m-160 1h0m86 0h0m61 0h0m5 0h0m10 0h0m77 0h0m-162 1h0m84 0h0m-150 1h0m65 0h0m82 0h0m5 0h0m-165 1h0m155 0h0m3 0h0m82 0h0m-248 1h0m172 0h0m1 0h0m4 0h0m45 0h0m-218 1h0m5 0h0m151 0h0m-67 1h0m60 0h0m23 0h0m1 0h0m47 0h0m16 0h0m-79 1h0m5 1h0m11 0h0m-168 1h0m90 0h0m-8 1h0m137 0h0m5 0h0m-234 1h0m91 0h0m74 0h0m72 0h0m4 0h0m-76 1h0m50 0h0m15 0h0m4 0h0m-149 1h0m72 0h0m-158 1h0m2 0h0m1 0h0m67 0h0m8 0h0m10 0h0m153 0h0m-161 1h0m147 0h0m8 0h0m-71 1h0m62 0h0m2 0h0m13 0h0m-246 1h0m71 0h0m9 0h0m155 0h0m-226 1h0m163 0h0m62 0h0m-225 1h0m2 1h0m145 0h0m14 0h0m-96 1h0m5 0h0m144 0h0m5 0h0m13 0h0m-237 1h0m81 0h0m81 0h0m3 0h0m66 0h0m-78 1h0m9 0h0m60 0h0m16 0h0m-248 1h0m1 0h0m170 0h0m8 0h0m70 0h0m-155 1h0m83 0h0m59 0h0m-240 1h0m7 0h0m89 0h0m-16 1h0m2 0h0m16 0h0m1 0h0m-20 1h0m14 0h0m149 0h0m-229 1h0m4 0h0m77 0h0m-7 1h0m6 0h0m148 0h0m-244 1h0m22 0h0m73 0h0m145 1h0m-232 1h0m1 0h0m13 0h0m55 1h0m2 0h0m6 0h0m161 0h0m2 0h0m-230 1h0m2 0h0m4 0h0m75 0h0m141 0h0m5 0h0m-171 3h0m9 0h0m11 0h0m49 0h0m-61 1h0m58 0h0m108 0h0m-248 1h0m5 0h0m17 0h0m70 0h0m42 0h0m112 0h0m-225 1h0m62 0h0m4 1h0m2 0h0m41 0h0m1 0h0m9 0h0m-140 1h0m1 0h0m76 0h0m2 0h0m2 0h0m3 0h0m-82 1h0m21 0h0m63 0h0m1 0h0m47 0h0m-115 1h0m54 0h0m9 0h0m8 0h0m34 0h0m8 0h0m-128 1h0m75 0h0m45 0h0m8 0h0m-147 1h0m139 0h0m-51 1h0m5 0h0m82 0h0m-36 1h0m27 0h0m-159 1h0m2 0h0m93 0h0m67 0h0m-32 1h0m33 0h0m-163 1h0m19 0h0m58 0h0m53 0h0m19 0h0m-140 1h0m119 0h0m-118 1h0m123 0h0m27 0h0m-18 1h0m-59 1h0m14 0h0m36 0h0m8 0h0m-14 2h0m27 0h0m16 0h0m-39 1h0m31 0h0m-12 1h0m-19 3h0m9 0h0m8 0h0"/><path stroke="#eab318" d="M154 29h0m-10 4h0m-1 1h0m13 0h0m3 0h0m-9 1h0m2 0h0m-10 1h0m8 0h0m1 1h0m9 0h0m-15 1h0m3 0h0m10 1h0m-18 1h0m10 0h0m-3 1h0m11 0h0m-13 1h0m1 0h0m3 0h0m-10 1h0m2 0h0m13 0h0m-5 1h0m-7 1h0m3 0h0m3 0h0m3 0h0m9 0h0m49 0h0m-65 1h0m-6 1h0m5 0h0m1 0h0m2 0h0m7 0h0m59 0h0m2 0h0m-74 1h0m1 0h0m4 0h0m66 0h0m12 0h0m-87 1h0m12 0h0m66 0h0m-4 1h0m12 0h0m2 0h0m-91 1h0m8 0h0m10 0h0m54 0h0m-67 1h0m3 0h0m10 0h0m65 0h0m1 0h0m9 0h0m2 1h0m-95 1h0m10 0h0m2 0h0m4 0h0m61 0h0m9 0h0m-83 1h0m2 0h0m69 0h0m20 0h0m-90 1h0m10 0h0m3 0h0m47 0h0m13 0h0m12 0h0m3 0h0m-89 1h0m11 0h0m55 0h0m15 0h0m8 0h0m-82 1h0m6 0h0m5 0h0m42 0h0m5 0h0m4 0h0m1 0h0m21 0h0m57 0h0m12 0h0m-92 1h0m7 0h0m1 0h0m2 0h0m-81 1h0m86 0h0m1 0h0m63 0h0m2 0h0m6 0h0m1 0h0m-149 1h0m54 0h0m8 0h0m5 0h0m76 0h0m13 0h0m-163 1h0m62 0h0m3 0h0m12 0h0m7 0h0m-83 1h0m1 0h0m5 0h0m7 0h0m48 0h0m22 0h0m55 0h0m18 0h0m1 0h0m2 0h0m1 0h0m4 0h0m-158 1h0m64 0h0m3 0h0m82 0h0m10 0h0m-168 1h0m11 0h0m129 0h0m13 0h0m3 0h0m-158 1h0m10 0h0m1 0h0m2 0h0m4 0h0m67 0h0m4 0h0m62 0h0m-83 1h0m13 0h0m5 0h0m1 0h0m63 0h0m-142 1h0m76 0h0m3 0h0m72 0h0m3 0h0m-158 1h0m7 0h0m1 0h0m51 0h0m7 0h0m1 0h0m78 0h0m3 0h0m-79 1h0m1 0h0m1 0h0m15 0h0m69 0h0m13 0h0m-176 1h0m68 0h0m8 0h0m4 0h0m62 0h0m95 0h0m-228 1h0m60 0h0m16 0h0m72 0h0m5 0h0m74 0h0m-160 1h0m2 0h0m7 0h0m57 0h0m31 0h0m53 0h0m-219 1h0m143 0h0m8 0h0m11 0h0m59 0h0m2 0h0m-236 1h0m16 0h0m3 0h0m130 0h0m16 0h0m-150 1h0m59 0h0m3 0h0m78 0h0m8 0h0m5 0h0m-154 1h0m58 0h0m85 0h0m64 0h0m1 0h0m3 0h0m11 0h0m-241 1h0m17 0h0m59 0h0m1 0h0m8 0h0m76 0h0m71 0h0m-233 1h0m17 0h0m4 0h0m3 0h0m58 0h0m2 0h0m2 0h0m3 0h0m3 0h0m67 0h0m7 0h0m5 0h0m58 0h0m4 0h0m3 0h0m-240 1h0m7 0h0m6 0h0m70 0h0m146 0h0m16 0h0m2 0h0m-244 1h0m169 0h0m55 0h0m3 0h0m-204 1h0m64 0h0m5 0h0m82 0h0m63 0h0m-83 1h0m9 0h0m70 0h0m2 0h0m11 0h0m-248 1h0m158 0h0m60 0h0m13 0h0m10 0h0m-217 1h0m67 0h0m66 0h0m-160 1h0m81 0h0m10 0h0m147 0h0m-234 1h0m23 0h0m57 0h0m3 0h0m9 0h0m59 0h0m12 0h0m71 0h0m-242 1h0m2 0h0m3 0h0m22 0h0m65 0h0m77 0h0m15 0h0m-185 1h0m6 0h0m72 0h0m12 0h0m75 0h0m10 0h0m55 0h0m4 0h0m11 0h0m5 0h0m-240 1h0m4 0h0m67 0h0m79 0h0m70 0h0m-219 1h0m63 0h0m3 0h0m18 0h0m7 0h0m62 0h0m74 0h0m-237 1h0m1 0h0m1 0h0m5 0h0m62 0h0m17 0h0m2 0h0m5 0h0m71 0h0m2 0h0m5 0h0m3 0h0m52 0h0m8 0h0m8 0h0m7 0h0m-246 1h0m4 0h0m7 0h0m64 0h0m96 0h0m62 0h0m-227 1h0m77 0h0m74 0h0m7 0h0m79 0h0m-245 1h0m4 0h0m3 0h0m2 0h0m2 0h0m59 0h0m2 0h0m20 0h0m60 0h0m75 0h0m8 0h0m5 0h0m-241 1h0m1 0h0m3 0h0m89 0h0m61 0h0m-158 1h0m76 0h0m6 0h0m7 0h0m2 0h0m75 0h0m4 0h0m57 0h0m7 0h0m14 0h0m-176 1h0m15 0h0m4 0h0m139 0h0m1 0h0m4 0h0m4 0h0m-238 1h0m15 0h0m-13 1h0m88 0h0m83 0h0m1 0h0m-180 1h0m7 0h0m69 0h0m2 0h0m3 0h0m151 0h0m10 0h0m-231 1h0m67 0h0m90 0h0m1 0h0m73 0h0m5 0h0m3 0h0m-245 1h0m8 0h0m8 0h0m81 0h0m144 0h0m4 0h0m-251 1h0m10 0h0m6 0h0m4 0h0m1 0h0m66 0h0m83 0h0m66 0h0m-234 1h0m6 0h0m8 0h0m6 0h0m228 0h0m-232 1h0m70 0h0m148 0h0m5 0h0m-238 1h0m20 0h0m51 0h0m2 0h0m2 0h0m-77 1h0m5 0h0m72 0h0m4 0h0m14 0h0m148 0h0m2 0h0m-250 1h0m95 0h0m147 0h0m7 0h0m-248 1h0m3 0h0m7 0h0m14 0h0m56 0h0m7 0h0m6 0h0m1 0h0m4 0h0m54 0h0m89 0h0m-240 1h0m88 0h0m3 0h0m3 0h0m150 0h0m-165 1h0m4 0h0m68 0h0m86 0h0m-236 1h0m1 0h0m3 0h0m2 0h0m69 0h0m67 0h0m95 0h0m9 0h0m-246 1h0m9 0h0m12 0h0m60 0h0m7 0h0m6 0h0m2 0h0m146 0h0m-226 1h0m59 0h0m-72 1h0m1 0h0m2 0h0m1 0h0m14 0h0m2 0h0m56 0h0m6 0h0m1 0h0m-90 1h0m3 0h0m10 0h0m9 0h0m54 0h0m-73 1h0m5 0h0m66 0h0m1 0h0m2 0h0m6 0h0m47 0h0m-127 1h0m4 0h0m19 0h0m51 0h0m64 0h0m-143 1h0m11 0h0m2 0h0m1 0h0m17 0h0m47 0h0m11 0h0m2 0h0m-95 1h0m3 0h0m3 0h0m14 0h0m61 0h0m2 0h0m63 0h0m17 0h0m-149 1h0m78 0h0m2 0h0m47 0h0m-140 1h0m82 0h0m11 0h0m32 0h0m-127 1h0m8 0h0m5 0h0m74 0h0m55 0h0m-135 1h0m10 0h0m1 0h0m1 0h0m64 0h0m22 0h0m28 0h0m3 0h0m11 0h0m-137 1h0m8 0h0m18 0h0m43 0h0m56 0h0m4 0h0m2 0h0m5 0h0m-141 1h0m9 0h0m6 0h0m67 0h0m50 0h0m-121 1h0m4 0h0m61 0h0m17 0h0m-98 1h0m96 0h0m-96 1h0m4 0h0m11 0h0m129 0h0m-135 1h0m142 0h0m-71 2h0m-67 2h0m68 0h0m2 0h0m50 0h0m-51 2h0m-5 1h0m80 1h0m-79 2h0m81 1h0m-6 1h0m-14 6h0"/><path stroke="#f6b016" d="M146 32h0m1 0h0m8 0h0m1 0h0m-7 2h0m2 0h0m6 0h0m3 0h0m1 0h0m-18 1h0m4 0h0m4 0h0m10 0h0m1 0h0m-17 1h0m3 0h0m7 0h0m-11 1h0m5 0h0m4 0h0m6 0h0m-17 1h0m5 0h0m10 0h0m5 0h0m-19 1h0m10 0h0m9 1h0m-21 1h0m12 0h0m1 1h0m6 0h0m-11 1h0m9 0h0m63 0h0m-83 1h0m4 0h0m5 0h0m6 0h0m7 0h0m1 0h0m62 0h0m-70 1h0m2 0h0m2 0h0m54 0h0m-71 1h0m1 0h0m4 0h0m3 0h0m1 0h0m10 0h0m56 0h0m-63 1h0m-18 1h0m5 0h0m8 0h0m69 0h0m2 0h0m-74 1h0m61 0h0m3 0h0m12 0h0m5 0h0m2 0h0m-26 1h0m6 0h0m4 0h0m1 0h0m16 0h0m-86 1h0m3 0h0m62 0h0m6 0h0m3 0h0m1 0h0m4 0h0m-85 1h0m1 0h0m2 0h0m1 0h0m5 0h0m5 0h0m54 0h0m5 0h0m16 0h0m-73 1h0m3 0h0m48 0h0m5 0h0m6 0h0m6 0h0m1 0h0m2 0h0m3 0h0m-91 1h0m4 0h0m72 0h0m-64 1h0m4 0h0m51 0h0m1 0h0m22 0h0m1 0h0m-82 1h0m56 0h0m8 0h0m5 0h0m-71 1h0m69 0h0m5 0h0m12 0h0m1 0h0m50 0h0m-146 1h0m5 0h0m2 0h0m5 0h0m1 0h0m4 0h0m54 0h0m3 0h0m5 0h0m13 0h0m60 0h0m7 0h0m2 0h0m3 0h0m-162 1h0m84 0h0m64 0h0m2 0h0m3 0h0m5 0h0m-157 1h0m3 0h0m1 0h0m2 0h0m4 0h0m53 0h0m12 0h0m2 0h0m81 0h0m-153 1h0m13 0h0m46 0h0m9 0h0m5 0h0m1 0h0m4 0h0m70 0h0m8 0h0m1 0h0m-165 1h0m1 0h0m1 0h0m65 0h0m14 0h0m4 0h0m1 0h0m67 0h0m4 0h0m2 0h0m3 0h0m-146 1h0m51 0h0m1 0h0m3 0h0m14 0h0m1 0h0m61 0h0m8 0h0m-156 1h0m2 0h0m10 0h0m53 0h0m9 0h0m7 0h0m4 0h0m3 0h0m61 0h0m3 0h0m2 0h0m7 0h0m2 0h0m3 0h0m-155 1h0m55 0h0m18 0h0m69 0h0m1 0h0m11 0h0m-161 1h0m4 0h0m4 0h0m63 0h0m2 0h0m13 0h0m1 0h0m67 0h0m2 0h0m4 0h0m5 0h0m1 0h0m-169 1h0m65 0h0m5 0h0m4 0h0m13 0h0m55 0h0m1 0h0m11 0h0m9 0h0m1 0h0m-162 1h0m6 0h0m3 0h0m56 0h0m2 0h0m2 0h0m7 0h0m5 0h0m59 0h0m10 0h0m9 0h0m-99 1h0m13 0h0m9 0h0m3 0h0m49 0h0m4 0h0m8 0h0m5 0h0m-198 1h0m45 0h0m1 0h0m1 0h0m1 0h0m63 0h0m9 0h0m67 0h0m2 0h0m19 0h0m4 0h0m-162 1h0m2 0h0m4 0h0m52 0h0m1 0h0m5 0h0m7 0h0m71 0h0m-141 1h0m59 0h0m5 0h0m1 0h0m7 0h0m60 0h0m1 0h0m1 0h0m9 0h0m-145 1h0m59 0h0m4 0h0m71 0h0m86 0h0m1 0h0m-223 1h0m4 0h0m59 0h0m1 0h0m2 0h0m3 0h0m71 0h0m84 0h0m2 0h0m-230 1h0m2 0h0m2 0h0m60 0h0m13 0h0m64 0h0m6 0h0m1 0h0m6 0h0m64 0h0m4 0h0m2 0h0m4 0h0m-233 1h0m1 0h0m69 0h0m4 0h0m5 0h0m80 0h0m80 0h0m-254 1h0m1 0h0m3 0h0m1 0h0m2 0h0m6 0h0m1 0h0m7 0h0m1 0h0m3 0h0m3 0h0m57 0h0m7 0h0m65 0h0m4 0h0m5 0h0m2 0h0m54 0h0m19 0h0m-243 1h0m11 0h0m10 0h0m5 0h0m1 0h0m138 0h0m66 0h0m13 0h0m3 0h0m1 0h0m-231 1h0m14 0h0m53 0h0m9 0h0m3 0h0m65 0h0m6 0h0m6 0h0m5 0h0m67 0h0m2 0h0m2 0h0m-151 1h0m140 0h0m1 0h0m14 0h0m-227 1h0m62 0h0m4 0h0m5 0h0m60 0h0m3 0h0m3 0h0m3 0h0m69 0h0m7 0h0m5 0h0m-241 1h0m4 0h0m13 0h0m6 0h0m55 0h0m6 0h0m6 0h0m62 0h0m4 0h0m3 0h0m2 0h0m13 0h0m48 0h0m16 0h0m5 0h0m-253 1h0m5 0h0m1 0h0m2 0h0m3 0h0m7 0h0m4 0h0m7 0h0m3 0h0m53 0h0m4 0h0m1 0h0m2 0h0m73 0h0m59 0h0m14 0h0m3 0h0m8 0h0m2 0h0m-237 1h0m81 0h0m6 0h0m1 0h0m57 0h0m3 0h0m4 0h0m5 0h0m11 0h0m40 0h0m20 0h0m1 0h0m4 0h0m2 0h0m-241 1h0m5 0h0m19 0h0m63 0h0m72 0h0m7 0h0m50 0h0m11 0h0m9 0h0m3 0h0m3 0h0m-251 1h0m4 0h0m2 0h0m3 0h0m79 0h0m72 0h0m5 0h0m1 0h0m7 0h0m9 0h0m55 0h0m5 0h0m2 0h0m7 0h0m-248 1h0m11 0h0m74 0h0m78 0h0m2 0h0m61 0h0m5 0h0m8 0h0m3 0h0m-245 1h0m11 0h0m19 0h0m129 0h0m5 0h0m5 0h0m66 0h0m3 0h0m4 0h0m-237 1h0m3 0h0m81 0h0m67 0h0m3 0h0m4 0h0m6 0h0m66 0h0m9 0h0m-242 1h0m5 0h0m2 0h0m76 0h0m2 0h0m88 0h0m60 0h0m1 0h0m10 0h0m-232 1h0m2 0h0m59 0h0m14 0h0m84 0h0m55 0h0m-230 1h0m6 0h0m67 0h0m8 0h0m77 0h0m2 0h0m1 0h0m9 0h0m57 0h0m6 0h0m1 0h0m15 0h0m-249 1h0m11 0h0m63 0h0m9 0h0m1 0h0m1 0h0m1 0h0m5 0h0m65 0h0m17 0h0m71 0h0m7 0h0m-249 1h0m3 0h0m3 0h0m5 0h0m1 0h0m59 0h0m2 0h0m6 0h0m12 0h0m66 0h0m1 0h0m14 0h0m4 0h0m49 0h0m2 0h0m4 0h0m3 0h0m1 0h0m5 0h0m2 0h0m7 0h0m-253 1h0m5 0h0m4 0h0m7 0h0m64 0h0m3 0h0m2 0h0m2 0h0m5 0h0m67 0h0m4 0h0m9 0h0m4 0h0m66 0h0m-235 1h0m3 0h0m76 0h0m10 0h0m68 0h0m4 0h0m61 0h0m5 0h0m7 0h0m-241 1h0m19 0h0m57 0h0m6 0h0m14 0h0m68 0h0m1 0h0m11 0h0m71 0h0m-242 1h0m3 0h0m2 0h0m4 0h0m1 0h0m3 0h0m63 0h0m88 0h0m1 0h0m5 0h0m2 0h0m53 0h0m7 0h0m4 0h0m2 0h0m-243 1h0m10 0h0m3 0h0m1 0h0m2 0h0m62 0h0m1 0h0m3 0h0m81 0h0m12 0h0m4 0h0m48 0h0m17 0h0m4 0h0m1 0h0m-246 1h0m78 0h0m8 0h0m145 0h0m5 0h0m-242 1h0m13 0h0m2 0h0m1 0h0m62 0h0m6 0h0m1 0h0m5 0h0m153 0h0m1 0h0m3 0h0m-233 1h0m2 0h0m60 0h0m6 0h0m166 0h0m-242 1h0m11 0h0m5 0h0m54 0h0m12 0h0m5 0h0m146 0h0m8 0h0m-248 1h0m17 0h0m68 0h0m149 0h0m4 0h0m-230 1h0m5 0h0m63 0h0m18 0h0m142 0h0m-215 1h0m4 0h0m56 0h0m1 0h0m3 0h0m147 0h0m4 0h0m9 0h0m-228 1h0m1 0h0m60 0h0m2 0h0m8 0h0m7 0h0m138 0h0m5 0h0m6 0h0m-247 1h0m9 0h0m11 0h0m2 0h0m1 0h0m1 0h0m68 0h0m-90 1h0m9 0h0m8 0h0m1 0h0m57 0h0m1 0h0m5 0h0m5 0h0m1 0h0m5 0h0m142 0h0m7 0h0m-240 1h0m16 0h0m6 0h0m2 0h0m54 0h0m10 0h0m5 0h0m-92 1h0m6 0h0m14 0h0m-28 1h0m4 0h0m2 0h0m1 0h0m22 0h0m61 0h0m9 0h0m44 0h0m99 0h0m4 0h0m-247 1h0m11 0h0m13 0h0m4 0h0m54 0h0m5 0h0m7 0h0m154 0h0m-243 1h0m4 0h0m74 0h0m166 0h0m-246 1h0m8 0h0m20 0h0m49 0h0m8 0h0m4 0h0m-81 1h0m78 0h0m-89 1h0m7 0h0m6 0h0m16 0h0m3 0h0m49 0h0m4 0h0m9 0h0m67 0h0m-152 1h0m2 0h0m1 0h0m15 0h0m59 0h0m5 0h0m1 0h0m-88 1h0m2 0h0m19 0h0m2 0h0m57 0h0m1 0h0m2 0h0m3 1h0m3 0h0m-90 1h0m5 0h0m15 0h0m60 0h0m-82 1h0m7 0h0m72 0h0m-77 1h0m8 0h0m2 0h0m71 0h0m1 0h0m3 0h0m5 0h0m-97 1h0m1 0h0m3 0h0m6 0h0m3 0h0m4 0h0m1 0h0m71 0h0m3 0h0m4 0h0m-95 1h0m3 0h0m6 0h0m4 0h0m66 0h0m12 0h0m47 0h0m4 0h0m-130 1h0m64 0h0m3 0h0m2 0h0m1 0h0m-80 1h0m4 0h0m5 0h0m4 0h0m69 0h0m44 0h0m5 0h0m-130 1h0m5 0h0m3 0h0m81 0h0m50 0h0m-133 1h0m3 0h0m3 0h0m63 0h0m3 0h0m-70 1h0m3 0h0m1 0h0m69 0h0m3 0h0m1 0h0m42 0h0m10 0h0m-126 1h0m65 0h0m-3 1h0m1 0h0m11 0h0m-74 1h0m63 0h0m52 0h0m-51 1h0m2 0h0m85 0h0m-20 1h0m3 1h0m-70 1h0m1 0h0m2 0h0m62 3h0m3 2h0m-14 6h0"/><path stroke="#f9b718" d="M156 30h0m-1 4h0m-13 1h0m4 0h0m12 0h0m-17 1h0m17 1h0m1 1h0m2 0h0m-9 2h0m1 0h0m4 0h0m-15 1h0m2 0h0m7 0h0m5 0h0m-14 1h0m9 1h0m-1 1h0m-9 1h0m11 0h0m10 0h0m-29 1h0m22 0h0m66 0h0m8 0h0m-96 1h0m3 0h0m13 0h0m10 0h0m51 0h0m14 0h0m3 0h0m11 0h0m-95 1h0m3 0h0m3 0h0m3 0h0m61 0h0m11 0h0m-90 1h0m1 0h0m14 0h0m4 0h0m1 0h0m55 0h0m8 0h0m2 0h0m2 0h0m2 0h0m-88 1h0m4 0h0m4 0h0m1 0h0m76 0h0m5 0h0m-79 1h0m1 0h0m3 0h0m61 0h0m1 0h0m2 0h0m-81 1h0m10 0h0m9 0h0m54 0h0m9 0h0m12 0h0m-91 1h0m4 0h0m8 0h0m57 0h0m10 0h0m-83 1h0m9 0h0m12 0h0m59 0h0m2 0h0m18 0h0m-88 1h0m60 0h0m12 0h0m2 0h0m3 0h0m-87 1h0m5 0h0m1 0h0m5 0h0m8 0h0m49 0h0m1 0h0m12 0h0m1 0h0m-83 1h0m17 0h0m57 0h0m6 0h0m7 0h0m2 0h0m5 0h0m75 0h0m-161 1h0m139 0h0m3 0h0m8 0h0m2 0h0m-159 1h0m5 0h0m1 0h0m4 0h0m55 0h0m3 0h0m4 0h0m4 0h0m70 0h0m-148 1h0m65 0h0m3 0h0m1 0h0m11 0h0m3 0h0m3 0h0m78 0h0m-162 1h0m10 0h0m62 0h0m2 0h0m4 0h0m5 0h0m5 0h0m62 0h0m4 0h0m2 0h0m11 0h0m-163 1h0m4 0h0m4 0h0m53 0h0m5 0h0m21 0h0m54 0h0m5 0h0m4 0h0m1 0h0m8 0h0m-164 1h0m9 0h0m63 0h0m3 0h0m14 0h0m57 0h0m6 0h0m14 0h0m-162 1h0m1 0h0m61 0h0m2 0h0m3 0h0m1 0h0m9 0h0m69 0h0m7 0h0m1 0h0m6 0h0m-165 1h0m12 0h0m65 0h0m2 0h0m9 0h0m2 0h0m74 0h0m-175 1h0m14 0h0m61 0h0m3 0h0m4 0h0m5 0h0m3 0h0m7 0h0m3 0h0m53 0h0m4 0h0m8 0h0m3 0h0m8 0h0m2 0h0m-163 1h0m83 0h0m70 0h0m3 0h0m1 0h0m-164 1h0m13 0h0m4 0h0m51 0h0m8 0h0m7 0h0m61 0h0m27 0h0m-163 1h0m60 0h0m2 0h0m5 0h0m3 0h0m2 0h0m5 0h0m58 0h0m29 0h0m-163 1h0m2 0h0m4 0h0m68 0h0m62 0h0m9 0h0m-183 1h0m30 0h0m7 0h0m63 0h0m10 0h0m9 0h0m53 0h0m1 0h0m5 0h0m5 0h0m2 0h0m1 0h0m2 0h0m-156 1h0m6 0h0m61 0h0m81 0h0m7 0h0m3 0h0m45 0h0m26 0h0m-221 1h0m52 0h0m3 0h0m6 0h0m73 0h0m2 0h0m1 0h0m79 0h0m9 0h0m-171 1h0m1 0h0m78 0h0m6 0h0m-140 1h0m58 0h0m4 0h0m6 0h0m64 0h0m13 0h0m78 0h0m1 0h0m-243 1h0m12 0h0m2 0h0m5 0h0m67 0h0m2 0h0m59 0h0m11 0h0m76 0h0m5 0h0m4 0h0m-253 1h0m3 0h0m4 0h0m3 0h0m3 0h0m4 0h0m11 0h0m56 0h0m6 0h0m2 0h0m3 0h0m2 0h0m63 0h0m62 0h0m16 0h0m6 0h0m1 0h0m4 0h0m4 0h0m-250 1h0m11 0h0m3 0h0m70 0h0m72 0h0m2 0h0m9 0h0m72 0h0m-239 1h0m22 0h0m68 0h0m68 0h0m2 0h0m72 0h0m8 0h0m-240 1h0m2 0h0m6 0h0m78 0h0m74 0h0m78 0h0m1 0h0m-235 1h0m4 0h0m16 0h0m59 0h0m2 0h0m7 0h0m3 0h0m59 0h0m10 0h0m65 0h0m4 0h0m6 0h0m5 0h0m-240 1h0m1 0h0m76 0h0m3 0h0m7 0h0m71 0h0m2 0h0m53 0h0m-215 1h0m4 0h0m73 0h0m14 0h0m67 0h0m6 0h0m62 0h0m4 0h0m5 0h0m11 0h0m-251 1h0m4 0h0m6 0h0m15 0h0m1 0h0m57 0h0m75 0h0m63 0h0m9 0h0m5 0h0m-238 1h0m7 0h0m26 0h0m49 0h0m4 0h0m13 0h0m64 0h0m3 0h0m2 0h0m1 0h0m56 0h0m3 0h0m1 0h0m1 0h0m7 0h0m7 0h0m2 0h0m-242 1h0m3 0h0m1 0h0m2 0h0m79 0h0m6 0h0m3 0h0m66 0h0m7 0h0m10 0h0m48 0h0m-231 1h0m7 0h0m156 0h0m20 0h0m62 0h0m2 0h0m-246 1h0m7 0h0m4 0h0m59 0h0m114 0h0m42 0h0m2 0h0m2 0h0m-229 1h0m8 0h0m2 0h0m89 0h0m58 0h0m1 0h0m24 0h0m40 0h0m8 0h0m6 0h0m7 0h0m-235 1h0m2 0h0m63 0h0m2 0h0m8 0h0m3 0h0m7 0h0m71 0h0m61 0h0m14 0h0m2 0h0m4 0h0m-215 1h0m39 0h0m6 0h0m8 0h0m6 0h0m4 0h0m63 0h0m7 0h0m1 0h0m56 0h0m18 0h0m1 0h0m4 0h0m-259 1h0m19 0h0m1 0h0m8 0h0m61 0h0m12 0h0m69 0h0m71 0h0m14 0h0m-239 1h0m8 0h0m1 0h0m2 0h0m63 0h0m1 0h0m9 0h0m3 0h0m69 0h0m3 0h0m4 0h0m6 0h0m4 0h0m52 0h0m7 0h0m3 0h0m5 0h0m-244 1h0m3 0h0m74 0h0m1 0h0m1 0h0m5 0h0m5 0h0m5 0h0m62 0h0m5 0h0m10 0h0m3 0h0m60 0h0m6 0h0m-240 1h0m15 0h0m61 0h0m7 0h0m5 0h0m2 0h0m74 0h0m68 0h0m2 0h0m6 0h0m6 0h0m-250 1h0m4 0h0m12 0h0m1 0h0m1 0h0m2 0h0m56 0h0m2 0h0m2 0h0m9 0h0m82 0h0m7 0h0m53 0h0m17 0h0m-245 1h0m4 0h0m3 0h0m1 0h0m2 0h0m1 0h0m1 0h0m61 0h0m3 0h0m19 0h0m60 0h0m13 0h0m67 0h0m-285 1h0m48 0h0m7 0h0m6 0h0m3 0h0m3 0h0m61 0h0m7 0h0m2 0h0m5 0h0m-95 1h0m7 0h0m9 0h0m59 0h0m10 0h0m3 0h0m1 0h0m154 0h0m1 0h0m4 0h0m-252 1h0m5 0h0m1 0h0m1 0h0m3 0h0m11 0h0m62 0h0m7 0h0m8 0h0m76 0h0m60 0h0m14 0h0m-242 1h0m5 0h0m1 0h0m1 0h0m1 0h0m5 0h0m1 0h0m4 0h0m1 0h0m69 0h0m1 0h0m9 0h0m70 0h0m62 0h0m1 0h0m3 0h0m8 0h0m3 0h0m1 0h0m-253 1h0m2 0h0m9 0h0m3 0h0m6 0h0m2 0h0m73 0h0m2 0h0m75 0h0m62 0h0m11 0h0m3 0h0m5 0h0m-251 1h0m2 0h0m10 0h0m4 0h0m60 0h0m2 0h0m14 0h0m139 0h0m3 0h0m4 0h0m6 0h0m5 0h0m-246 1h0m2 0h0m11 0h0m64 0h0m3 0h0m4 0h0m6 0h0m1 0h0m2 0h0m143 0h0m1 0h0m7 0h0m-229 1h0m1 0h0m70 0h0m1 0h0m142 0h0m1 0h0m7 0h0m5 0h0m-246 1h0m1 0h0m2 0h0m2 0h0m15 0h0m56 0h0m3 0h0m11 0h0m145 0h0m5 0h0m4 0h0m1 0h0m-245 1h0m24 0h0m66 0h0m4 0h0m138 0h0m3 0h0m8 0h0m1 0h0m3 0h0m2 0h0m-235 1h0m73 0h0m6 0h0m141 0h0m6 0h0m9 0h0m-252 1h0m27 0h0m59 0h0m1 0h0m10 0h0m3 0h0m143 0h0m2 0h0m4 0h0m-250 1h0m22 0h0m58 0h0m7 0h0m3 0h0m10 0h0m143 0h0m3 0h0m-243 1h0m5 0h0m1 0h0m1 0h0m18 0h0m56 0h0m1 0h0m4 0h0m147 0h0m8 0h0m-244 1h0m8 0h0m2 0h0m1 0h0m75 0h0m4 0h0m6 0h0m147 0h0m-243 1h0m11 0h0m9 0h0m4 0h0m4 0h0m52 0h0m1 0h0m4 0h0m3 0h0m155 0h0m3 0h0m-238 1h0m1 0h0m11 0h0m66 0h0m2 0h0m153 0h0m3 0h0m-245 1h0m8 0h0m72 0h0m8 0h0m1 0h0m-87 1h0m2 0h0m8 0h0m8 0h0m1 0h0m8 0h0m51 0h0m2 0h0m3 0h0m-84 1h0m20 0h0m4 0h0m4 0h0m49 1h0m2 0h0m55 0h0m-140 1h0m5 0h0m1 0h0m4 0h0m5 0h0m0 1h0m16 0h0m54 0h0m12 0h0m-96 1h0m7 0h0m2 0h0m69 0h0m8 0h0m45 0h0m11 0h0m-136 1h0m78 0h0m1 0h0m8 0h0m1 0h0m1 0h0m-94 1h0m13 0h0m3 0h0m61 0h0m1 0h0m56 0h0m17 0h0m-149 1h0m9 0h0m66 0h0m1 0h0m7 0h0m43 0h0m-124 1h0m6 0h0m72 0h0m4 0h0m5 0h0m39 0h0m14 0h0m-144 1h0m15 0h0m63 0h0m9 0h0m-125 1h0m43 0h0m7 0h0m2 0h0m61 0h0m3 0h0m65 0h0m-141 1h0m11 0h0m63 0h0m2 1h0m-63 1h0m58 0h0m2 0h0m3 0h0m52 0h0m-133 1h0m1 0h0m75 0h0m5 0h0m-81 1h0m8 0h0m11 0h0m61 1h0m2 0h0m-71 1h0m72 0h0m50 0h0m-50 1h0m-5 2h0m6 0h0m-5 1h0m3 1h0m63 1h0m10 2h0"/><path stroke="#f9be1b" d="M147 31h0m2 0h0m4 0h0m1 0h0m-11 1h0m8 1h0m9 0h0m-14 1h0m7 0h0m10 1h0m-10 1h0m7 0h0m-19 1h0m2 0h0m4 0h0m3 0h0m0 1h0m4 0h0m1 0h0m-4 2h0m1 1h0m-8 1h0m12 0h0m-13 1h0m13 0h0m-19 1h0m18 0h0m7 0h0m77 0h0m-93 1h0m75 0h0m-87 1h0m5 0h0m81 0h0m20 0h0m-99 1h0m70 0h0m4 0h0m6 0h0m2 0h0m2 0h0m-87 1h0m8 1h0m65 0h0m15 0h0m2 0h0m-95 1h0m4 0h0m4 0h0m1 0h0m7 0h0m2 0h0m67 0h0m5 0h0m3 0h0m-83 1h0m66 0h0m15 0h0m2 0h0m2 0h0m-86 1h0m7 0h0m65 0h0m5 0h0m13 0h0m-98 1h0m7 0h0m3 0h0m7 0h0m68 0h0m5 0h0m129 0h0m-209 1h0m57 0h0m23 0h0m-90 1h0m11 0h0m4 0h0m1 0h0m51 0h0m9 0h0m5 0h0m9 0h0m-88 1h0m7 0h0m5 0h0m57 0h0m9 0h0m10 0h0m-24 1h0m4 0h0m11 0h0m-13 1h0m11 0h0m1 0h0m5 0h0m70 0h0m10 0h0m44 0h0m-130 1h0m4 0h0m65 0h0m12 0h0m-159 1h0m3 0h0m3 0h0m10 0h0m129 0h0m4 0h0m11 0h0m5 0h0m34 0h0m-199 1h0m5 0h0m62 0h0m5 0h0m70 0h0m5 0h0m1 0h0m-140 1h0m134 0h0m-142 1h0m5 0h0m73 0h0m1 0h0m2 0h0m58 0h0m-143 1h0m81 0h0m65 0h0m3 0h0m2 0h0m6 0h0m-148 1h0m55 0h0m5 0h0m4 0h0m4 0h0m9 0h0m2 0h0m53 0h0m9 0h0m3 0h0m10 0h0m-156 1h0m1 0h0m58 0h0m4 0h0m3 0h0m6 0h0m3 0h0m72 0h0m-80 1h0m69 0h0m5 0h0m1 0h0m20 0h0m-166 1h0m60 0h0m1 0h0m13 0h0m12 0h0m1 0h0m58 0h0m10 0h0m-158 1h0m9 0h0m76 0h0m62 0h0m4 0h0m2 0h0m1 0h0m4 0h0m2 0h0m5 0h0m-99 1h0m3 0h0m3 0h0m13 0h0m75 0h0m-156 1h0m1 0h0m80 0h0m4 0h0m1 0h0m1 0h0m69 0h0m-156 1h0m70 0h0m5 0h0m9 0h0m57 0h0m1 0h0m9 0h0m5 0h0m38 0h0m-40 1h0m-151 1h0m67 0h0m75 0h0m7 0h0m-4 1h0m-161 1h0m13 0h0m67 0h0m16 0h0m117 0h0m2 0h0m8 0h0m15 0h0m-220 1h0m55 0h0m93 0h0m-82 1h0m75 0h0m-81 1h0m66 0h0m11 0h0m66 0h0m-231 1h0m81 0h0m9 0h0m2 0h0m6 0h0m57 0h0m68 0h0m4 0h0m-229 1h0m9 0h0m1 0h0m3 0h0m71 0h0m15 0h0m67 0h0m2 0h0m69 0h0m6 0h0m-239 1h0m6 0h0m14 0h0m69 0h0m132 0h0m3 0h0m4 0h0m5 0h0m8 0h0m-248 1h0m89 0h0m73 0h0m2 0h0m1 0h0m18 0h0m49 0h0m-138 1h0m136 0h0m20 0h0m-231 1h0m73 0h0m69 0h0m6 0h0m80 0h0m2 0h0m1 0h0m-251 1h0m6 0h0m7 0h0m75 0h0m3 0h0m78 0h0m54 0h0m5 0h0m4 0h0m12 0h0m2 0h0m-241 1h0m8 0h0m64 0h0m12 0h0m66 0h0m1 0h0m69 0h0m3 0h0m8 0h0m11 0h0m2 0h0m-236 1h0m71 0h0m6 0h0m74 0h0m61 0h0m22 0h0m3 0h0m-251 1h0m1 0h0m2 0h0m3 0h0m84 0h0m71 0h0m11 0h0m55 0h0m3 0h0m12 0h0m-228 1h0m59 0h0m8 0h0m84 0h0m3 0h0m4 0h0m50 0h0m4 0h0m6 0h0m6 0h0m-227 1h0m3 0h0m66 0h0m6 0h0m67 0h0m15 0h0m1 0h0m57 0h0m7 0h0m10 0h0m1 0h0m5 0h0m-177 1h0m9 0h0m10 0h0m74 0h0m72 0h0m6 0h0m5 0h0m-250 1h0m76 0h0m110 0h0m42 0h0m13 0h0m4 0h0m-237 1h0m79 0h0m70 0h0m3 0h0m6 0h0m72 0h0m6 0h0m-239 1h0m12 0h0m70 0h0m66 0h0m13 0h0m5 0h0m1 0h0m3 0h0m53 0h0m13 0h0m-247 1h0m5 0h0m10 0h0m66 0h0m9 0h0m5 0h0m70 0h0m9 0h0m66 0h0m5 0h0m-239 1h0m12 0h0m66 0h0m5 0h0m7 0h0m1 0h0m74 0h0m77 0h0m-168 1h0m5 0h0m9 0h0m5 0h0m68 0h0m14 0h0m-177 1h0m75 0h0m5 0h0m5 0h0m6 0h0m137 0h0m1 0h0m2 0h0m2 0h0m5 0h0m2 0h0m5 0h0m-239 1h0m3 0h0m69 0h0m19 0h0m69 0h0m70 0h0m1 0h0m3 0h0m-243 1h0m19 0h0m66 0h0m8 0h0m81 0h0m62 0h0m-239 1h0m8 0h0m14 0h0m61 0h0m5 0h0m-97 1h0m19 0h0m1 0h0m5 0h0m73 0h0m11 0h0m-98 1h0m7 0h0m240 0h0m-246 1h0m10 0h0m11 0h0m1 0h0m53 0h0m3 0h0m13 0h0m126 0h0m18 0h0m-217 1h0m53 0h0m13 0h0m5 0h0m4 0h0m-90 1h0m1 0h0m73 0h0m2 0h0m154 0h0m-237 1h0m4 0h0m70 0h0m13 0h0m9 0h0m2 0h0m145 0h0m5 0h0m-243 1h0m3 0h0m72 0h0m16 0h0m137 0h0m1 0h0m-234 1h0m21 0h0m67 0h0m6 0h0m140 0h0m13 0h0m-171 1h0m-70 1h0m70 0h0m15 0h0m4 0h0m-86 1h0m10 0h0m64 0h0m1 0h0m-61 1h0m2 0h0m48 0h0m5 0h0m1 0h0m8 0h0m-86 1h0m2 0h0m14 0h0m2 0h0m4 0h0m1 0h0m47 0h0m12 0h0m161 0h0m-247 1h0m5 0h0m70 0h0m3 0h0m13 0h0m-82 1h0m2 0h0m14 0h0m51 0h0m14 0h0m-93 1h0m140 0h0m-127 1h0m16 0h0m48 0h0m4 0h0m7 0h0m1 0h0m1 0h0m-91 1h0m4 0h0m6 0h0m1 0h0m-9 1h0m81 0h0m11 0h0m40 0h0m-134 1h0m3 0h0m3 0h0m1 0h0m79 0h0m38 0h0m-123 1h0m2 0h0m8 0h0m4 0h0m117 0h0m-129 1h0m2 0h0m77 0h0m12 0h0m-95 1h0m132 0h0m-119 1h0m72 0h0m1 0h0m-87 1h0m2 1h0m73 0h0m56 0h0m8 0h0m0 1h0m-130 1h0m7 0h0m62 0h0m-72 1h0m81 0h0m51 0h0m-122 1h0m62 0h0m1 0h0m51 0h0m-2 1h0m-51 1h0m-2 1h0m4 1h0m0 2h0"/><path stroke="#fac61d" d="M148 33h0m9 0h0m-9 1h0m9 2h0m-2 1h0m7 0h0m-13 2h0m10 1h0m-17 3h0m5 0h0m5 1h0m84 1h0m-83 1h0m86 0h0m-79 1h0m76 0h0m4 0h0m-107 1h0m2 0h0m79 0h0m6 0h0m13 0h0m6 0h0m-15 1h0m-90 1h0m4 0h0m2 0h0m5 0h0m68 0h0m16 0h0m7 0h0m-101 1h0m100 0h0m-88 2h0m63 0h0m1 0h0m23 0h0m115 0h0m-201 1h0m70 0h0m2 0h0m126 0h0m2 0h0m2 0h0m-151 1h0m1 0h0m6 0h0m15 1h0m129 0h0m-218 1h0m7 0h0m14 0h0m50 0h0m6 0h0m89 0h0m-161 1h0m73 0h0m6 0h0m1 0h0m4 0h0m-80 1h0m6 0h0m140 0h0m8 0h0m2 0h0m-154 1h0m53 0h0m11 0h0m1 0h0m9 0h0m64 0h0m-5 1h0m4 0h0m1 0h0m13 0h0m-157 1h0m71 0h0m16 0h0m57 0h0m10 0h0m8 0h0m38 0h0m-201 1h0m60 0h0m14 0h0m5 0h0m-12 1h0m13 0h0m73 0h0m-77 1h0m1 0h0m60 0h0m-67 1h0m-6 1h0m-79 1h0m80 0h0m71 0h0m24 0h0m-164 1h0m64 0h0m14 0h0m5 2h0m83 0h0m-172 1h0m11 0h0m144 0h0m7 0h0m-84 1h0m76 0h0m16 0h0m-94 1h0m82 0h0m52 0h0m-143 1h0m164 0h0m-153 1h0m68 0h0m2 0h0m57 0h0m7 0h0m-201 1h0m61 0h0m18 0h0m115 0h0m3 0h0m-202 1h0m7 0h0m146 0h0m3 0h0m47 0h0m10 0h0m1 0h0m-235 1h0m156 0h0m2 0h0m3 0h0m-149 1h0m3 0h0m12 0h0m68 0h0m70 0h0m-151 1h0m9 0h0m65 0h0m80 0h0m66 0h0m-233 1h0m13 0h0m160 0h0m-146 1h0m135 0h0m-156 1h0m172 0h0m-96 1h0m1 0h0m71 0h0m-67 1h0m9 0h0m54 0h0m3 0h0m74 0h0m6 0h0m-71 1h0m4 0h0m73 0h0m-171 1h0m82 0h0m66 0h0m27 0h0m-241 1h0m7 0h0m65 0h0m76 0h0m-154 1h0m84 0h0m69 0h0m2 0h0m12 0h0m5 0h0m32 0h0m-203 1h0m86 0h0m145 0h0m13 0h0m-237 1h0m60 0h0m13 0h0m0 1h0m112 0h0m51 0h0m-84 1h0m2 0h0m38 0h0m42 0h0m-173 1h0m11 0h0m7 0h0m120 0h0m30 0h0m-154 1h0m84 0h0m70 0h0m-228 1h0m57 0h0m133 0h0m25 0h0m7 0h0m1 0h0m-237 1h0m247 0h0m-247 1h0m2 0h0m8 1h0m77 0h0m-85 1h0m71 0h0m8 0h0m-6 2h0m154 0h0m6 0h0m5 0h0m-267 1h0m115 0h0m-92 1h0m3 0h0m78 0h0m155 0h0m-232 1h0m-4 1h0m18 0h0m-14 1h0m-10 1h0m17 0h0m6 0h0m214 0h0m1 0h0m-148 1h0m153 0h0m-245 1h0m82 0h0m16 0h0m-69 1h0m208 0h0m-154 2h0m4 0h0m-85 1h0m0 1h0m10 0h0m68 0h0m7 0h0m-79 1h0m71 0h0m164 0h0m-242 1h0m24 0h0m60 0h0m6 0h0m-16 1h0m14 0h0m-5 2h0m-75 1h0m-14 1h0m140 1h0m-140 2h0m14 0h0m79 0h0m2 0h0m-6 1h0m57 0h0m-137 1h0m1 3h0m66 0h0m59 0h0m-60 3h0m-71 1h0m78 0h0m45 1h0"/><path stroke="#f9d31b" d="M151 39h0m6 0h0m5 0h0m-7 2h0m-15 3h0m75 0h0m-72 2h0m3 0h0m92 0h0m-1 2h0m-3 1h0m-9 2h0m6 0h0m1 0h0m1 1h0m114 1h0m-125 1h0m6 0h0m71 1h0m45 0h0m2 0h0m-216 1h0m19 0h0m5 0h0m64 0h0m81 0h0m-172 1h0m222 0h0m-54 1h0m3 0h0m3 0h0m44 0h0m3 0h0m-199 1h0m54 0h0m13 0h0m4 0h0m1 0h0m77 0h0m52 0h0m-224 1h0m173 0h0m3 0h0m33 0h0m-43 3h0m-151 1h0m162 1h0m-162 1h0m-7 1h0m83 1h0m71 2h0m-14 1h0m61 0h0m-51 2h0m48 0h0m-125 1h0m127 0h0m-198 1h0m58 0h0m-105 2h0m103 0h0m9 0h0m158 1h0m2 0h0m-25 1h0m23 0h0m-87 1h0m51 0h0m18 0h0m12 0h0m-153 1h0m149 0h0m-185 3h0m178 0h0m9 0h0m-61 1h0m57 0h0m-18 2h0m-261 2h0m120 1h0m156 0h0m-163 2h0m96 0h0m33 0h0m-205 1h0m154 0h0m2 0h0m10 1h0m38 1h0m-127 1h0m1 0h0m-79 1h0m155 0h0m-211 1h0m299 0h0m-239 1h0m195 0h0m-117 1h0m-7 3h0m-70 1h0m234 2h0m-243 1h0m15 0h0m-19 2h0m-12 4h0m18 1h0m18 0h0m66 0h0m-72 2h0m-46 1h0m-2 4h0m20 3h0m88 0h0m-85 6h0m77 2h0m-3 4h0"/><path stroke="#f7e118" d="M153 42h0m87 3h0m-91 8h0m197 0h0m-5 1h0m4 0h0m-44 3h0m-96 2h0m4 0h0m91 0h0m39 1h0m-128 1h0m85 0h0m-78 3h0m-19 1h0m15 2h0m63 1h0m-148 1h0m-35 2h0m230 0h0m9 3h0m13 5h0m-19 6h0m-123 1h0m-90 6h0m193 1h0m7 3h0m-119 3h0m-95 4h0m80 3h0m-9 2h0m-5 16h0"/><path stroke="#f5f014" d="M110 53h0m21 1h0m165 3h0m0 2h0m5 3h0m-223 13h0m183 6h0m42 8h0m-234 14h0m32 2h0m-45 29h0"/></g>
<path d="M40.8 184.4L430.3 254.7M430.3 254.7L507 150.2M40.8 184.4L40.8 110.5M419.7 252.8L414.1 260.5M375.6 244.8L370 252.5M331.5 236.9L325.9 244.5M287.4 228.9L281.7 236.6M243.2 220.9L237.6 228.6M199.1 213L193.5 220.6M155 205L149.3 212.7M110.8 197L105.2 204.7M66.7 189.1L61.1 196.7M430.3 254.7L439.6 256.4M446.3 233L455.6 234.7M462.2 211.2L471.6 212.9M478.2 189.5L487.5 191.2M494.1 167.8L503.5 169.4M40.8 176.2L31.5 174.5M40.8 159.8L31.5 158.1M40.8 143.3L31.5 141.6M40.8 126.9L31.5 125.2M40.8 110.5L31.5 108.8" stroke="#262626" stroke-width="1.1" fill="none"/>
<g><text x="50.8" y="210.9" text-anchor="middle">850</text><text x="94.5" y="219" text-anchor="middle">800</text><text x="138.5" y="226.8" text-anchor="middle">750</text><text x="182.7" y="234.5" text-anchor="middle">700</text><text x="226.8" y="242.8" text-anchor="middle">650</text><text x="270.7" y="251.1" text-anchor="middle">600</text><text x="315" y="258.5" text-anchor="middle">550</text><text x="359.3" y="267.1" text-anchor="middle">500</text><text x="403.3" y="275.9" text-anchor="middle">450</text><text x="451.8" y="267.1" text-anchor="middle">200</text><text x="465.4" y="245.8" text-anchor="middle">250</text><text x="483" y="223.3" text-anchor="middle">300</text><text x="498.6" y="201.7" text-anchor="middle">350</text><text x="513" y="181.5" text-anchor="middle">400</text><text x="27.8" y="178.7" text-anchor="end">0</text><text x="27.8" y="162.3" text-anchor="end">20</text><text x="27.8" y="145.8" text-anchor="end">40</text><text x="27.8" y="129.4" text-anchor="end">60</text><text x="27.8" y="113" text-anchor="end">80</text></g>
<text x="246" y="272.6" text-anchor="middle" font-size="11.4">Ground Range(m)</text>
<text x="518.2" y="262.6" text-anchor="middle" font-size="11.6">Azimuth(m)</text>
<text transform="translate(13.2,147.6) rotate(-90)" text-anchor="middle" font-size="11.5">Height(m)</text>
</svg></body></html>
